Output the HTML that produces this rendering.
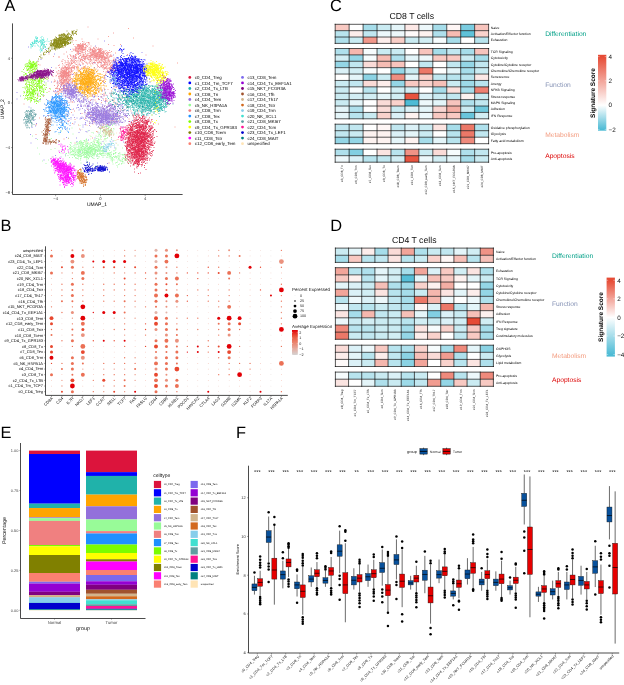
<!DOCTYPE html>
<html><head><meta charset="utf-8"><title>Figure</title>
<style>html,body{margin:0;padding:0;background:#fff}svg{display:block}text{font-family:"Liberation Sans",sans-serif;text-rendering:geometricPrecision}</style>
</head><body>
<svg width="624" height="685" viewBox="0 0 624 685">
<rect width="624" height="685" fill="#fff"/>
<text x="4.5" y="10.9" font-size="16.2">A</text>
<path d="M12.5 23.4V194.5H182.6" fill="none" stroke="#2a2a2a" stroke-width=".85"/>
<path d="M11 58.3H12.5" stroke="#333" stroke-width=".4"/>
<text x="10.2" y="59.75" font-size="4.2" text-anchor="end" fill="#333">4</text>
<path d="M11 103H12.5" stroke="#333" stroke-width=".4"/>
<text x="10.2" y="104.45" font-size="4.2" text-anchor="end" fill="#333">0</text>
<path d="M11 147.6H12.5" stroke="#333" stroke-width=".4"/>
<text x="10.2" y="149.05" font-size="4.2" text-anchor="end" fill="#333">−4</text>
<path d="M11 192.3H12.5" stroke="#333" stroke-width=".4"/>
<text x="10.2" y="193.75" font-size="4.2" text-anchor="end" fill="#333">−8</text>
<path d="M55.6 194.5V196.2" stroke="#333" stroke-width=".4"/>
<text x="55.6" y="200.3" font-size="4.2" text-anchor="middle" fill="#333">−4</text>
<path d="M100.5 194.5V196.2" stroke="#333" stroke-width=".4"/>
<text x="100.5" y="200.3" font-size="4.2" text-anchor="middle" fill="#333">0</text>
<path d="M145.2 194.5V196.2" stroke="#333" stroke-width=".4"/>
<text x="145.2" y="200.3" font-size="4.2" text-anchor="middle" fill="#333">4</text>
<text x="97" y="205.8" font-size="5" text-anchor="middle" fill="#000">UMAP_1</text>
<text transform="translate(3.9,109.2) rotate(-90)" font-size="5" text-anchor="middle" fill="#000">UMAP_2</text>
<defs>
<radialGradient id="gc0"><stop offset="0" stop-color="#DC143C" stop-opacity="1"/><stop offset=".55" stop-color="#DC143C" stop-opacity=".8"/><stop offset="1" stop-color="#DC143C" stop-opacity="0"/></radialGradient>
<radialGradient id="gc1"><stop offset="0" stop-color="#0000FF" stop-opacity="1"/><stop offset=".55" stop-color="#0000FF" stop-opacity=".8"/><stop offset="1" stop-color="#0000FF" stop-opacity="0"/></radialGradient>
<radialGradient id="gc2"><stop offset="0" stop-color="#20B2AA" stop-opacity="1"/><stop offset=".55" stop-color="#20B2AA" stop-opacity=".8"/><stop offset="1" stop-color="#20B2AA" stop-opacity="0"/></radialGradient>
<radialGradient id="gc3"><stop offset="0" stop-color="#FFA500" stop-opacity="1"/><stop offset=".55" stop-color="#FFA500" stop-opacity=".8"/><stop offset="1" stop-color="#FFA500" stop-opacity="0"/></radialGradient>
<radialGradient id="gc4"><stop offset="0" stop-color="#9370DB" stop-opacity="1"/><stop offset=".55" stop-color="#9370DB" stop-opacity=".8"/><stop offset="1" stop-color="#9370DB" stop-opacity="0"/></radialGradient>
<radialGradient id="gc5"><stop offset="0" stop-color="#98FB98" stop-opacity="1"/><stop offset=".55" stop-color="#98FB98" stop-opacity=".8"/><stop offset="1" stop-color="#98FB98" stop-opacity="0"/></radialGradient>
<radialGradient id="gc6"><stop offset="0" stop-color="#F08080" stop-opacity="1"/><stop offset=".55" stop-color="#F08080" stop-opacity=".8"/><stop offset="1" stop-color="#F08080" stop-opacity="0"/></radialGradient>
<radialGradient id="gc7"><stop offset="0" stop-color="#1E90FF" stop-opacity="1"/><stop offset=".55" stop-color="#1E90FF" stop-opacity=".8"/><stop offset="1" stop-color="#1E90FF" stop-opacity="0"/></radialGradient>
<radialGradient id="gc8"><stop offset="0" stop-color="#7CFC00" stop-opacity="1"/><stop offset=".55" stop-color="#7CFC00" stop-opacity=".8"/><stop offset="1" stop-color="#7CFC00" stop-opacity="0"/></radialGradient>
<radialGradient id="gc9"><stop offset="0" stop-color="#FFFF00" stop-opacity="1"/><stop offset=".55" stop-color="#FFFF00" stop-opacity=".8"/><stop offset="1" stop-color="#FFFF00" stop-opacity="0"/></radialGradient>
<radialGradient id="gc10"><stop offset="0" stop-color="#808000" stop-opacity="1"/><stop offset=".55" stop-color="#808000" stop-opacity=".8"/><stop offset="1" stop-color="#808000" stop-opacity="0"/></radialGradient>
<radialGradient id="gc11"><stop offset="0" stop-color="#FF00FF" stop-opacity="1"/><stop offset=".55" stop-color="#FF00FF" stop-opacity=".8"/><stop offset="1" stop-color="#FF00FF" stop-opacity="0"/></radialGradient>
<radialGradient id="gc12"><stop offset="0" stop-color="#FA8072" stop-opacity="1"/><stop offset=".55" stop-color="#FA8072" stop-opacity=".8"/><stop offset="1" stop-color="#FA8072" stop-opacity="0"/></radialGradient>
<radialGradient id="gc13"><stop offset="0" stop-color="#7B68EE" stop-opacity="1"/><stop offset=".55" stop-color="#7B68EE" stop-opacity=".8"/><stop offset="1" stop-color="#7B68EE" stop-opacity="0"/></radialGradient>
<radialGradient id="gc14"><stop offset="0" stop-color="#9400D3" stop-opacity="1"/><stop offset=".55" stop-color="#9400D3" stop-opacity=".8"/><stop offset="1" stop-color="#9400D3" stop-opacity="0"/></radialGradient>
<radialGradient id="gc15"><stop offset="0" stop-color="#800080" stop-opacity="1"/><stop offset=".55" stop-color="#800080" stop-opacity=".8"/><stop offset="1" stop-color="#800080" stop-opacity="0"/></radialGradient>
<radialGradient id="gc16"><stop offset="0" stop-color="#A0522D" stop-opacity="1"/><stop offset=".55" stop-color="#A0522D" stop-opacity=".8"/><stop offset="1" stop-color="#A0522D" stop-opacity="0"/></radialGradient>
<radialGradient id="gc17"><stop offset="0" stop-color="#D2B48C" stop-opacity="1"/><stop offset=".55" stop-color="#D2B48C" stop-opacity=".8"/><stop offset="1" stop-color="#D2B48C" stop-opacity="0"/></radialGradient>
<radialGradient id="gc18"><stop offset="0" stop-color="#D2691E" stop-opacity="1"/><stop offset=".55" stop-color="#D2691E" stop-opacity=".8"/><stop offset="1" stop-color="#D2691E" stop-opacity="0"/></radialGradient>
<radialGradient id="gc19"><stop offset="0" stop-color="#87CEEB" stop-opacity="1"/><stop offset=".55" stop-color="#87CEEB" stop-opacity=".8"/><stop offset="1" stop-color="#87CEEB" stop-opacity="0"/></radialGradient>
<radialGradient id="gc20"><stop offset="0" stop-color="#40E0D0" stop-opacity="1"/><stop offset=".55" stop-color="#40E0D0" stop-opacity=".8"/><stop offset="1" stop-color="#40E0D0" stop-opacity="0"/></radialGradient>
<radialGradient id="gc21"><stop offset="0" stop-color="#5F9EA0" stop-opacity="1"/><stop offset=".55" stop-color="#5F9EA0" stop-opacity=".8"/><stop offset="1" stop-color="#5F9EA0" stop-opacity="0"/></radialGradient>
<radialGradient id="gc22"><stop offset="0" stop-color="#FF1493" stop-opacity="1"/><stop offset=".55" stop-color="#FF1493" stop-opacity=".8"/><stop offset="1" stop-color="#FF1493" stop-opacity="0"/></radialGradient>
<radialGradient id="gc23"><stop offset="0" stop-color="#0000CD" stop-opacity="1"/><stop offset=".55" stop-color="#0000CD" stop-opacity=".8"/><stop offset="1" stop-color="#0000CD" stop-opacity="0"/></radialGradient>
<radialGradient id="gc24"><stop offset="0" stop-color="#008080" stop-opacity="1"/><stop offset=".55" stop-color="#008080" stop-opacity=".8"/><stop offset="1" stop-color="#008080" stop-opacity="0"/></radialGradient>
<radialGradient id="gun"><stop offset="0" stop-color="#FFE4B5" stop-opacity="1"/><stop offset=".55" stop-color="#FFE4B5" stop-opacity=".8"/><stop offset="1" stop-color="#FFE4B5" stop-opacity="0"/></radialGradient>
</defs>
<g fill="none" stroke-width="1.5" stroke-linecap="square" opacity=".95" transform="scale(.5)">
<path stroke="#FA8072" d="M257 57zm-40 16zm50 3zm-103 2zm-12 3zm27 7zm62 1zm-13 2zm-139 1zm217 0zm-87 9zm-121 4zm133 1zm-15 1zm-88 1zm62 0zm65 1zm-103 2zm24 0zm-9 2zm32 0zm-52 1zm-29 1zm79 2zm-34 2zm15 0zm88 0zm-84 1zm18 4zm51 1zm-61 1zm165 0zm-278 3zm174 0zm-171 1zm46 0zm148 2zm6 1zm-114 2zm-3 1zm54 0zm10 0zm51 1zm-222 4zm200 0zm-68 1zm-49 1zm45 1zm9 0zm-57 3zm50 0zm-126 1zm93 1zm15 0zm43 0zm-2 2zm-24 1zm-79 1zm-10 1zm125 0zm-149 1zm55 0zm57 1zm25 0zm18 0zm-136 1zm154 1zm-113 2zm75 1zm-96 1zm26 2zm35 0zm35 0zm71 1zm-128 2zm71 0zm-169 1zm112 1zm-76 1zm41 0zm-60 2zm106 0zm1 0zm153 0zm-151 1zm3 0zm72 1zm-20 1zm12 0zm30 0zm-141 3zm130 0zm-76 1zm28 0zm33 1zm28 0zm-170 2zm116 0zm-125 1zm48 0zm157 0zm-180 1zm34 0zm12 0zm-33 1zm40 1zm5 0zm-105 1zm132 0zm12 0zm4 0zm-46 1zm-62 1zm36 1zm33 0zm39 0zm25 0zm-12 1zm-106 1zm122 0zm44 0zm-221 1zm126 0zm-41 3zm83 0zm-47 1zm59 0zm-45 1zm27 0zm-55 1zm73 0zm-66 1zm17 0zm7 0zm6 0zm-120 1zm20 0zm61 0zm47 1zm-125 1zm52 0zm59 0zm-91 1zm19 0zm3 0zm47 0zm36 0zm24 0zm-114 1zm41 1zm55 0zm-186 2zm182 0zm81 0zm-192 2zm113 0zm44 0zm60 0zm-118 1zm-48 1zm39 0zm5 1zm-9 1zm52 0zm34 0zm-64 3zm-7 1zm-76 1zm31 0zm11 0zm114 0zm-59 1zm6 0zm-26 1zm-72 1zm50 0zm37 0zm41 0zm-88 1zm29 1zm-75 1zm27 0zm116 0zm-83 1zm6 0zm-45 1zm106 0zm-95 1zm-41 1zm64 0zm30 0zm51 1zm-145 1zm47 0zm56 1zm29 0zm-95 2zm79 0zm-60 1zm109 0zm-220 1zm23 0zm106 0zm-19 1zm-99 1zm168 0zm-108 1zm19 0zm55 2zm2 0zm-37 1zm48 0zm-100 1zm49 0zm44 0zm59 1zm-166 1zm169 0zm-70 1zm-77 1zm34 0zm-106 1zm113 0zm131 0zm-102 1zm-143 1zm85 0zm15 0zm40 3zm-15 1zm153 0zm-70 1zm-79 2zm22 0zm-64 1zm-63 4zm97 1zm51 0zm-49 1zm-123 5zm169 4zm17 0zm-73 3zm-48 1zm-9 1zm108 1zm-125 1zm168 0zm-129 6zm120 5zm-52 35zm-41 7zm18 2z"/>
<path stroke="#7B68EE" d="M209 82zm-18 10zm-134 2zm101 3zm-67 2zm50 0zm-44 6zm187 0zm-125 2zm-50 1zm118 2zm-79 2zm62 4zm-60 1zm18 0zm-86 2zm-6 3zm111 3zm3 1zm13 0zm-42 5zm-58 4zm86 0zm38 4zm26 2zm-73 1zm56 0zm-133 2zm50 4zm36 0zm-44 1zm15 1zm-61 1zm127 0zm-168 1zm128 2zm117 0zm-93 2zm-156 2zm69 1zm9 1zm69 1zm-105 1zm19 0zm109 0zm-135 2zm14 0zm70 0zm34 0zm-85 1zm-6 1zm9 0zm9 0zm51 0zm44 0zm10 0zm-70 1zm9 0zm32 0zm-79 1zm24 0zm2 0zm137 0zm-117 1zm67 1zm-117 1zm18 0zm-1 1zm17 0zm83 0zm-123 1zm56 0zm87 0zm-126 1zm37 1zm10 0zm-13 1zm24 1zm2 0zm28 1zm-81 1zm30 0zm35 0zm-94 1zm59 0zm34 0zm-98 1zm54 0zm33 1zm7 0zm33 0zm7 0zm-137 1zm4 0zm16 0zm107 0zm-91 1zm-110 1zm111 0zm12 0zm2 0zm30 0zm-27 1zm-1 1zm31 0zm-32 1zm26 1zm47 0zm-157 1zm11 0zm-46 2zm112 0zm32 0zm4 0zm19 0zm-40 1zm3 0zm17 0zm1 0zm8 0zm5 1zm1 0zm-98 1zm83 0zm-35 1zm19 0zm61 0zm-199 2zm77 0zm8 0zm5 0zm-43 1zm24 0zm17 0zm19 0zm3 0zm42 0zm-27 1zm76 0zm-159 1zm45 0zm3 0zm23 0zm65 0zm13 0zm28 0zm-134 1zm23 0zm112 0zm-95 1zm3 0zm48 0zm-76 1zm46 0zm101 0zm-41 1zm-49 1zm40 0zm-103 1zm67 0zm-86 1zm17 0zm5 0zm25 1zm28 0zm21 1zm32 0zm-110 1zm-12 1zm56 0zm5 0zm-14 1zm67 0zm-171 1zm98 1zm1 0zm45 0zm44 0zm-154 1zm138 0zm-127 1zm117 0zm-98 1zm25 0zm13 0zm25 0zm23 0zm4 0zm-54 2zm11 0zm-48 1zm66 0zm68 0zm-131 1zm6 0zm-29 2zm27 0zm8 0zm33 0zm8 1zm7 0zm3 0zm3 0zm0 1zm-29 1zm40 1zm10 0zm-110 2zm23 0zm22 0zm-51 1zm16 0zm14 0zm63 0zm-101 1zm49 0zm78 0zm-93 2zm72 0zm-51 1zm68 0zm-56 1zm7 0zm3 0zm7 0zm55 0zm-122 1zm59 0zm38 0zm-41 1zm34 0zm-72 1zm2 0zm88 0zm14 0zm-158 2zm46 0zm24 0zm-9 2zm50 0zm-29 1zm21 1zm32 0zm-130 2zm98 1zm-1 1zm-4 1zm-26 1zm-69 1zm95 2zm79 0zm-181 1zm68 2zm46 4zm-79 2zm73 0zm33 0zm-47 2zm-97 4zm34 1zm113 3zm-75 2zm20 1zm37 0zm-118 1zm105 3zm49 2zm-72 1zm-37 1zm130 0zm-185 2zm168 10zm-38 5zm-18 1zm38 1zm-51 1zm13 3zm-43 3zm-20 1zm83 1zm-72 2zm-34 6zm107 6zm20 1z"/>
<path stroke="#F08080" d="M176 54zm51 12zm-31 12zm-50 3zm19 2zm3 1zm6 1zm3 0zm1 0zm-40 1zm39 0zm-16 1zm5 0zm5 0zm-6 1zm3 0zm-21 1zm7 0zm2 0zm1 0zm1 0zm4 0zm3 0zm3 0zm1 0zm2 0zm46 0zm-61 1zm1 0zm1 0zm1 0zm1 0zm2 0zm4 0zm1 0zm9 0zm-21 1zm2 0zm2 0zm2 0zm2 0zm1 0zm1 0zm1 0zm6 0zm1 0zm-17 1zm1 0zm2 0zm1 0zm1 0zm1 0zm1 0zm3 0zm16 0zm-32 1zm4 0zm1 0zm2 0zm2 0zm1 0zm1 0zm3 0zm1 0zm1 0zm1 0zm8 0zm-47 1zm23 0zm8 0zm1 0zm1 0zm1 0zm1 0zm3 0zm1 0zm4 0zm2 0zm17 0zm-36 1zm4 0zm1 0zm3 0zm1 0zm2 0zm3 0zm2 0zm1 0zm9 0zm7 0zm6 0zm-42 1zm1 0zm1 0zm1 0zm2 0zm1 0zm2 0zm1 0zm3 0zm2 0zm6 0zm7 0zm19 0zm-111 1zm66 0zm2 0zm2 0zm1 0zm2 0zm1 0zm2 0zm1 0zm2 0zm1 0zm4 0zm11 0zm6 0zm2 0zm11 0zm1 0zm1 0zm-56 1zm4 0zm7 0zm1 0zm3 0zm4 0zm3 0zm4 0zm12 0zm6 0zm4 0zm3 0zm3 0zm4 0zm-53 1zm3 0zm4 0zm3 0zm2 0zm1 0zm1 0zm1 0zm1 0zm1 0zm1 0zm2 0zm7 0zm3 0zm1 0zm3 0zm5 0zm5 0zm2 0zm1 0zm1 0zm2 0zm3 0zm-57 1zm1 0zm2 0zm3 0zm2 0zm2 0zm1 0zm6 0zm2 0zm1 0zm13 0zm1 0zm1 0zm2 0zm1 0zm3 0zm3 0zm1 0zm6 0zm1 0zm-48 1zm1 0zm8 0zm4 0zm2 0zm4 0zm5 0zm10 0zm1 0zm2 0zm2 0zm2 0zm6 0zm1 0zm2 0zm2 0zm9 0zm-61 1zm1 0zm2 0zm1 0zm1 0zm4 0zm4 0zm11 0zm5 0zm5 0zm2 0zm1 0zm1 0zm4 0zm7 0zm1 0zm6 0zm3 0zm-66 1zm10 0zm2 0zm1 0zm1 0zm3 0zm10 0zm7 0zm6 0zm1 0zm1 0zm1 0zm1 0zm2 0zm1 0zm6 0zm1 0zm1 0zm2 0zm3 0zm2 0zm17 0zm-90 1zm21 0zm2 0zm1 0zm6 0zm1 0zm1 0zm20 0zm3 0zm1 0zm11 0zm1 0zm4 0zm1 0zm1 0zm2 0zm6 0zm-49 1zm4 0zm11 0zm1 0zm2 0zm3 0zm3 0zm4 0zm1 0zm1 0zm1 0zm2 0zm1 0zm2 0zm1 0zm5 0zm5 0zm4 0zm1 0zm2 0zm-65 1zm1 0zm1 0zm1 0zm4 0zm4 0zm13 0zm3 0zm3 0zm2 0zm1 0zm1 0zm1 0zm1 0zm2 0zm4 0zm3 0zm2 0zm2 0zm2 0zm1 0zm7 0zm-58 1zm5 0zm10 0zm5 0zm6 0zm2 0zm4 0zm2 0zm3 0zm2 0zm1 0zm4 0zm1 0zm1 0zm1 0zm1 0zm1 0zm1 0zm2 0zm3 0zm4 0zm-117 1zm55 0zm23 0zm5 0zm4 0zm3 0zm3 0zm1 0zm1 0zm3 0zm2 0zm3 0zm7 0zm3 0zm1 0zm-72 1zm11 0zm5 0zm1 0zm10 0zm3 0zm4 0zm9 0zm1 0zm1 0zm1 0zm1 0zm3 0zm4 0zm1 0zm1 0zm2 0zm1 0zm1 0zm2 0zm5 0zm7 0zm2 0zm-65 1zm10 0zm3 0zm2 0zm1 0zm15 0zm2 0zm3 0zm2 0zm1 0zm2 0zm1 0zm1 0zm4 0zm3 0zm1 0zm3 0zm1 0zm1 0zm9 0zm5 0zm1 0zm70 0zm-151 1zm6 0zm14 0zm7 0zm6 0zm2 0zm3 0zm2 0zm1 0zm1 0zm2 0zm3 0zm1 0zm2 0zm1 0zm2 0zm2 0zm2 0zm1 0zm2 0zm2 0zm1 0zm3 0zm6 0zm1 0zm8 0zm-87 1zm9 0zm15 0zm8 0zm5 0zm1 0zm1 0zm5 0zm5 0zm6 0zm1 0zm1 0zm1 0zm1 0zm1 0zm3 0zm5 0zm1 0zm1 0zm2 0zm1 0zm7 0zm4 0zm5 0zm-117 1zm11 0zm24 0zm5 0zm3 0zm1 0zm7 0zm7 0zm4 0zm1 0zm1 0zm2 0zm7 0zm1 0zm1 0zm4 0zm2 0zm2 0zm1 0zm2 0zm1 0zm1 0zm2 0zm2 0zm1 0zm1 0zm1 0zm2 0zm2 0zm3 0zm5 0zm7 0zm2 0zm-88 1zm11 0zm17 0zm1 0zm2 0zm4 0zm4 0zm3 0zm2 0zm9 0zm5 0zm1 0zm1 0zm5 0zm2 0zm2 0zm1 0zm1 0zm1 0zm4 0zm5 0zm2 0zm1 0zm-71 1zm3 0zm2 0zm4 0zm6 0zm5 0zm3 0zm9 0zm2 0zm2 0zm2 0zm3 0zm2 0zm2 0zm4 0zm2 0zm1 0zm2 0zm1 0zm1 0zm1 0zm3 0zm1 0zm1 0zm3 0zm3 0zm-72 1zm22 0zm4 0zm4 0zm1 0zm1 0zm2 0zm10 0zm14 0zm1 0zm1 0zm1 0zm5 0zm1 0zm1 0zm3 0zm13 0zm-91 1zm4 0zm10 0zm2 0zm5 0zm2 0zm8 0zm2 0zm2 0zm9 0zm6 0zm5 0zm1 0zm2 0zm3 0zm1 0zm5 0zm6 0zm2 0zm1 0zm3 0zm-70 1zm2 0zm10 0zm5 0zm7 0zm1 0zm4 0zm6 0zm6 0zm17 0zm3 0zm1 0zm1 0zm1 0zm1 0zm6 0zm-91 1zm17 0zm18 0zm4 0zm4 0zm8 0zm4 0zm11 0zm5 0zm5 0zm2 0zm4 0zm1 0zm18 0zm-84 1zm6 0zm21 0zm8 0zm2 0zm2 0zm1 0zm3 0zm3 0zm4 0zm2 0zm6 0zm2 0zm1 0zm4 0zm2 0zm4 0zm2 0zm1 0zm1 0zm11 0zm3 0zm-102 1zm6 0zm8 0zm7 0zm5 0zm5 0zm4 0zm2 0zm24 0zm1 0zm6 0zm6 0zm6 0zm8 0zm4 0zm5 0zm1 0zm-104 1zm17 0zm2 0zm2 0zm1 0zm1 0zm6 0zm7 0zm1 0zm3 0zm29 0zm11 0zm7 0zm1 0zm4 0zm2 0zm7 0zm-149 1zm48 0zm25 0zm20 0zm12 0zm18 0zm7 0zm13 0zm12 0zm-100 1zm5 0zm1 0zm17 0zm4 0zm14 0zm7 0zm5 0zm5 0zm7 0zm2 0zm4 0zm5 0zm1 0zm2 0zm1 0zm1 0zm3 0zm2 0zm6 0zm5 0zm8 0zm-102 1zm9 0zm4 0zm1 0zm2 0zm14 0zm8 0zm16 0zm1 0zm1 0zm5 0zm3 0zm2 0zm1 0zm1 0zm6 0zm1 0zm4 0zm7 0zm8 0zm-98 1zm9 0zm1 0zm4 0zm29 0zm3 0zm3 0zm5 0zm11 0zm2 0zm5 0zm8 0zm4 0zm7 0zm10 0zm4 0zm-110 1zm13 0zm5 0zm2 0zm5 0zm16 0zm19 0zm24 0zm11 0zm17 0zm-101 1zm6 0zm1 0zm13 0zm3 0zm6 0zm2 0zm8 0zm6 0zm5 0zm25 0zm3 0zm1 0zm3 0zm-85 1zm3 0zm4 0zm12 0zm1 0zm7 0zm34 0zm8 0zm4 0zm3 0zm5 0zm5 0zm5 0zm1 0zm-106 1zm13 0zm2 0zm3 0zm21 0zm49 0zm1 0zm1 0zm2 0zm3 0zm6 0zm10 0zm3 0zm-116 1zm21 0zm3 0zm5 0zm2 0zm47 0zm7 0zm2 0zm1 0zm1 0zm10 0zm7 0zm5 0zm4 0zm8 0zm-111 1zm9 0zm17 0zm16 0zm32 0zm18 0zm3 0zm1 0zm17 0zm-111 1zm5 0zm13 0zm3 0zm16 0zm29 0zm5 0zm1 0zm4 0zm6 0zm8 0zm3 0zm3 0zm-102 1zm4 0zm2 0zm7 0zm1 0zm5 0zm1 0zm1 0zm2 0zm5 0zm4 0zm11 0zm2 0zm25 0zm7 0zm3 0zm7 0zm2 0zm12 0zm10 0zm-117 1zm9 0zm2 0zm1 0zm2 0zm1 0zm1 0zm3 0zm4 0zm1 0zm1 0zm3 0zm2 0zm4 0zm17 0zm29 0zm7 0zm4 0zm1 0zm8 0zm2 0zm5 0zm6 0zm2 0zm-122 1zm11 0zm2 0zm2 0zm5 0zm1 0zm3 0zm2 0zm2 0zm4 0zm2 0zm3 0zm6 0zm21 0zm30 0zm2 0zm1 0zm4 0zm11 0zm4 0zm2 0zm3 0zm2 0zm4 0zm-115 1zm3 0zm3 0zm3 0zm3 0zm1 0zm1 0zm2 0zm2 0zm6 0zm6 0zm10 0zm10 0zm35 0zm2 0zm3 0zm2 0zm3 0zm2 0zm2 0zm2 0zm-103 1zm8 0zm3 0zm1 0zm2 0zm7 0zm6 0zm11 0zm15 0zm17 0zm29 0zm15 0zm-169 1zm56 0zm7 0zm3 0zm2 0zm1 0zm6 0zm1 0zm18 0zm24 0zm23 0zm6 0zm5 0zm5 0zm-138 1zm11 0zm25 0zm2 0zm2 0zm2 0zm3 0zm2 0zm4 0zm2 0zm15 0zm42 0zm25 0zm1 0zm1 0zm1 0zm3 0zm-110 1zm8 0zm1 0zm3 0zm4 0zm10 0zm3 0zm26 0zm43 0zm6 0zm7 0zm1 0zm3 0zm10 0zm-122 1zm3 0zm4 0zm1 0zm1 0zm1 0zm1 0zm2 0zm3 0zm1 0zm4 0zm2 0zm13 0zm4 0zm56 0zm2 0zm7 0zm3 0zm-106 1zm2 0zm2 0zm1 0zm1 0zm1 0zm2 0zm1 0zm6 0zm5 0zm1 0zm63 0zm7 0zm4 0zm-105 1zm3 0zm5 0zm2 0zm3 0zm1 0zm1 0zm1 0zm1 0zm1 0zm1 0zm1 0zm4 0zm1 0zm6 0zm68 0zm4 0zm2 0zm-113 1zm17 0zm2 0zm1 0zm1 0zm1 0zm2 0zm2 0zm1 0zm1 0zm2 0zm1 0zm1 0zm1 0zm3 0zm12 0zm66 0zm4 0zm-103 1zm3 0zm1 0zm4 0zm5 0zm1 0zm1 0zm2 0zm2 0zm3 0zm70 0zm-96 1zm4 0zm1 0zm4 0zm1 0zm1 0zm2 0zm1 0zm1 0zm1 0zm1 0zm1 0zm1 0zm1 0zm11 0zm74 0zm-106 1zm3 0zm4 0zm4 0zm1 0zm1 0zm1 0zm1 0zm1 0zm2 0zm2 0zm1 0zm1 0zm1 0zm4 0zm24 0zm53 0zm-97 1zm1 0zm1 0zm5 0zm1 0zm2 0zm1 0zm3 0zm1 0zm1 0zm3 0zm1 0zm6 0zm22 0zm12 0zm1 0zm-59 1zm1 0zm1 0zm1 0zm1 0zm3 0zm1 0zm1 0zm4 0zm1 0zm2 0zm29 0zm-56 1zm7 0zm1 0zm2 0zm3 0zm1 0zm1 0zm1 0zm3 0zm1 0zm1 0zm1 0zm1 0zm1 0zm1 0zm1 0zm1 0zm55 0zm26 0zm-109 1zm6 0zm3 0zm2 0zm1 0zm1 0zm1 0zm1 0zm1 0zm1 0zm1 0zm1 0zm2 0zm2 0zm1 0zm1 0zm15 0zm-35 1zm3 0zm2 0zm1 0zm2 0zm2 0zm3 0zm1 0zm2 0zm3 0zm1 0zm10 0zm37 0zm-65 1zm3 0zm4 0zm1 0zm1 0zm1 0zm2 0zm1 0zm6 0zm1 0zm-46 1zm30 0zm1 0zm2 0zm1 0zm4 0zm4 0zm3 0zm25 0zm-91 1zm45 0zm3 0zm4 0zm3 0zm4 0zm1 0zm1 0zm1 0zm1 0zm6 0zm-44 1zm27 0zm1 0zm1 0zm1 0zm9 0zm7 0zm39 0zm26 0zm-89 1zm1 0zm8 0zm5 0zm1 0zm1 0zm3 0zm2 0zm5 0zm25 0zm93 0zm-141 1zm1 0zm1 0zm4 0zm1 0zm1 0zm3 0zm1 0zm3 0zm3 0zm1 0zm71 0zm-103 1zm14 0zm1 0zm2 0zm3 0zm1 0zm1 0zm1 0zm1 0zm11 0zm-24 1zm1 0zm3 0zm3 0zm2 0zm4 0zm5 0zm1 0zm1 0zm-21 1zm1 0zm7 0zm1 0zm1 0zm1 0zm4 0zm2 0zm1 0zm10 0zm2 0zm-40 1zm14 0zm3 0zm4 0zm2 0zm2 0zm72 0zm-98 1zm7 0zm3 0zm3 0zm1 0zm5 0zm1 0zm7 0zm1 0zm1 0zm6 0zm117 0zm-136 1zm1 0zm2 0zm2 0zm3 0zm4 0zm8 0zm1 0zm35 0zm-66 1zm1 0zm7 0zm1 0zm8 0zm3 0zm1 0zm1 0zm2 0zm3 0zm-22 1zm5 0zm1 0zm2 0zm1 0zm6 0zm2 0zm1 0zm8 0zm-23 1zm3 0zm9 0zm16 0zm81 0zm8 0zm-123 1zm6 0zm1 0zm5 0zm11 0zm50 0zm-65 1zm4 0zm2 0zm2 0zm2 0zm-25 1zm8 0zm6 0zm8 0zm77 0zm-93 1zm7 0zm5 0zm22 0zm-34 1zm17 0zm1 0zm5 0zm-23 1zm12 0zm8 0zm96 0zm-110 1zm6 0zm1 0zm1 0zm67 0zm-83 1zm21 0zm2 0zm3 0zm22 0zm47 0zm20 0zm-129 1zm12 0zm2 0zm2 0zm3 0zm1 0zm6 0zm2 0zm4 0zm1 0zm1 0zm2 0zm55 0zm-62 1zm5 0zm-69 1zm55 0zm1 0zm2 0zm2 0zm13 0zm2 0zm25 0zm-45 1zm5 0zm2 0zm4 0zm6 0zm1 0zm34 0zm8 0zm26 0zm-86 1zm2 0zm7 0zm2 0zm2 0zm62 0zm-59 1zm2 0zm-22 1zm2 0zm14 0zm6 0zm143 0zm-170 1zm10 0zm4 0zm6 0zm80 0zm-96 1zm84 0zm-80 1zm-7 1zm6 0zm158 0zm-158 1zm78 0zm12 2zm2 0zm3 0zm26 1zm-107 1zm54 0zm9 0zm-107 1zm31 0zm21 1zm65 0zm35 1zm-64 2zm37 0zm-15 1zm0 1zm28 0zm-84 1zm70 1zm-44 1zm-21 2zm57 1zm-111 5zm130 1zm31 3zm-45 3zm54 5zm-54 7zm-12 1zm-12 1zm-61 9zm109 4zm-24 5z"/>
<path stroke="#FFA500" d="M182 132zm-6 1zm-21 1zm14 0zm10 1zm-22 1zm10 0zm7 0zm14 0zm-21 1zm3 0zm2 0zm6 0zm-14 1zm2 0zm3 0zm8 0zm5 0zm7 0zm-33 1zm14 0zm3 0zm5 0zm1 0zm1 0zm2 0zm1 0zm-7 1zm7 0zm1 0zm1 0zm2 0zm4 0zm-33 1zm1 0zm8 0zm2 0zm3 0zm1 0zm1 0zm3 0zm6 0zm3 0zm1 0zm-30 1zm11 0zm12 0zm7 0zm2 0zm6 0zm-35 1zm1 0zm6 0zm4 0zm2 0zm1 0zm2 0zm3 0zm2 0zm3 0zm9 0zm-35 1zm4 0zm5 0zm1 0zm3 0zm3 0zm1 0zm2 0zm4 0zm3 0zm3 0zm-38 1zm12 0zm5 0zm1 0zm4 0zm3 0zm6 0zm2 0zm1 0zm1 0zm2 0zm-36 1zm4 0zm7 0zm2 0zm1 0zm1 0zm4 0zm2 0zm1 0zm2 0zm3 0zm1 0zm2 0zm1 0zm3 0zm1 0zm1 0zm1 0zm2 0zm1 0zm-29 1zm2 0zm1 0zm9 0zm3 0zm2 0zm1 0zm1 0zm5 0zm1 0zm3 0zm7 0zm-45 1zm3 0zm8 0zm1 0zm1 0zm2 0zm7 0zm4 0zm1 0zm4 0zm1 0zm13 0zm3 0zm1 0zm1 0zm-45 1zm3 0zm2 0zm3 0zm1 0zm2 0zm1 0zm1 0zm3 0zm3 0zm1 0zm1 0zm2 0zm1 0zm1 0zm2 0zm4 0zm17 0zm-52 1zm2 0zm3 0zm1 0zm4 0zm6 0zm2 0zm1 0zm1 0zm2 0zm1 0zm1 0zm5 0zm4 0zm2 0zm-37 1zm4 0zm3 0zm7 0zm4 0zm6 0zm1 0zm1 0zm1 0zm1 0zm2 0zm2 0zm2 0zm2 0zm8 0zm1 0zm13 0zm-56 1zm1 0zm8 0zm1 0zm1 0zm4 0zm2 0zm1 0zm1 0zm2 0zm2 0zm1 0zm1 0zm2 0zm1 0zm3 0zm1 0zm1 0zm1 0zm2 0zm3 0zm1 0zm1 0zm3 0zm1 0zm11 0zm-52 1zm1 0zm4 0zm3 0zm1 0zm2 0zm3 0zm1 0zm1 0zm1 0zm2 0zm1 0zm1 0zm1 0zm4 0zm4 0zm4 0zm2 0zm6 0zm2 0zm-59 1zm10 0zm5 0zm4 0zm1 0zm9 0zm4 0zm1 0zm2 0zm2 0zm1 0zm4 0zm4 0zm13 0zm1 0zm3 0zm-53 1zm10 0zm3 0zm1 0zm3 0zm1 0zm2 0zm1 0zm1 0zm3 0zm1 0zm1 0zm1 0zm1 0zm1 0zm2 0zm1 0zm2 0zm2 0zm1 0zm12 0zm4 0zm-58 1zm6 0zm2 0zm2 0zm1 0zm5 0zm1 0zm3 0zm1 0zm5 0zm2 0zm3 0zm1 0zm1 0zm4 0zm5 0zm6 0zm6 0zm-53 1zm2 0zm3 0zm3 0zm2 0zm3 0zm3 0zm1 0zm1 0zm1 0zm2 0zm1 0zm1 0zm1 0zm1 0zm1 0zm2 0zm2 0zm1 0zm2 0zm1 0zm1 0zm1 0zm5 0zm10 0zm-54 1zm5 0zm4 0zm6 0zm3 0zm1 0zm2 0zm1 0zm2 0zm2 0zm1 0zm2 0zm1 0zm1 0zm1 0zm1 0zm1 0zm1 0zm1 0zm1 0zm3 0zm1 0zm1 0zm1 0zm7 0zm2 0zm3 0zm-50 1zm2 0zm3 0zm4 0zm3 0zm2 0zm2 0zm1 0zm1 0zm1 0zm3 0zm1 0zm2 0zm3 0zm1 0zm3 0zm4 0zm3 0zm1 0zm4 0zm2 0zm1 0zm-52 1zm6 0zm2 0zm1 0zm2 0zm3 0zm2 0zm2 0zm1 0zm4 0zm1 0zm2 0zm2 0zm1 0zm1 0zm1 0zm1 0zm3 0zm3 0zm1 0zm1 0zm1 0zm2 0zm1 0zm3 0zm2 0zm7 0zm7 0zm-60 1zm1 0zm4 0zm4 0zm1 0zm1 0zm2 0zm1 0zm2 0zm1 0zm3 0zm2 0zm1 0zm4 0zm2 0zm1 0zm2 0zm1 0zm1 0zm5 0zm4 0zm1 0zm6 0zm3 0zm-56 1zm1 0zm2 0zm5 0zm1 0zm3 0zm2 0zm1 0zm3 0zm2 0zm1 0zm3 0zm4 0zm3 0zm2 0zm1 0zm1 0zm3 0zm1 0zm14 0zm6 0zm-60 1zm4 0zm2 0zm2 0zm8 0zm1 0zm1 0zm2 0zm2 0zm4 0zm1 0zm1 0zm1 0zm1 0zm2 0zm1 0zm1 0zm2 0zm1 0zm1 0zm4 0zm3 0zm1 0zm2 0zm12 0zm6 0zm-62 1zm5 0zm4 0zm2 0zm2 0zm1 0zm3 0zm1 0zm1 0zm1 0zm1 0zm2 0zm1 0zm1 0zm1 0zm2 0zm1 0zm1 0zm1 0zm3 0zm2 0zm1 0zm1 0zm3 0zm2 0zm1 0zm-32 1zm1 0zm3 0zm1 0zm1 0zm4 0zm2 0zm1 0zm1 0zm1 0zm1 0zm2 0zm1 0zm1 0zm2 0zm2 0zm2 0zm2 0zm3 0zm4 0zm6 0zm7 0zm-58 1zm2 0zm8 0zm2 0zm1 0zm2 0zm1 0zm2 0zm2 0zm1 0zm2 0zm3 0zm2 0zm2 0zm1 0zm2 0zm3 0zm3 0zm5 0zm8 0zm-50 1zm1 0zm5 0zm1 0zm1 0zm1 0zm2 0zm2 0zm1 0zm1 0zm1 0zm1 0zm1 0zm1 0zm1 0zm2 0zm1 0zm2 0zm3 0zm2 0zm1 0zm1 0zm2 0zm4 0zm1 0zm5 0zm4 0zm1 0zm-53 1zm4 0zm3 0zm4 0zm2 0zm1 0zm1 0zm1 0zm1 0zm1 0zm5 0zm1 0zm3 0zm2 0zm2 0zm1 0zm5 0zm7 0zm3 0zm1 0zm4 0zm-51 1zm3 0zm1 0zm7 0zm3 0zm2 0zm1 0zm1 0zm1 0zm1 0zm1 0zm2 0zm1 0zm2 0zm2 0zm2 0zm1 0zm1 0zm2 0zm2 0zm1 0zm3 0zm3 0zm4 0zm-43 1zm13 0zm2 0zm1 0zm1 0zm3 0zm1 0zm2 0zm1 0zm2 0zm1 0zm2 0zm5 0zm2 0zm4 0zm3 0zm2 0zm8 0zm-58 1zm1 0zm2 0zm10 0zm3 0zm4 0zm1 0zm4 0zm1 0zm2 0zm3 0zm1 0zm3 0zm5 0zm1 0zm1 0zm8 0zm1 0zm4 0zm-56 1zm2 0zm3 0zm11 0zm4 0zm4 0zm2 0zm1 0zm9 0zm6 0zm4 0zm2 0zm14 0zm3 0zm-54 1zm2 0zm2 0zm7 0zm1 0zm3 0zm2 0zm3 0zm8 0zm4 0zm4 0zm2 0zm-44 1zm2 0zm3 0zm1 0zm1 0zm1 0zm1 0zm1 0zm1 0zm2 0zm2 0zm1 0zm1 0zm3 0zm1 0zm3 0zm5 0zm1 0zm2 0zm2 0zm3 0zm1 0zm11 0zm-55 1zm2 0zm3 0zm7 0zm1 0zm1 0zm1 0zm2 0zm1 0zm3 0zm2 0zm2 0zm4 0zm2 0zm5 0zm3 0zm3 0zm4 0zm-41 1zm2 0zm1 0zm1 0zm3 0zm11 0zm7 0zm2 0zm1 0zm2 0zm7 0zm1 0zm1 0zm9 0zm2 0zm-48 1zm4 0zm2 0zm2 0zm2 0zm2 0zm4 0zm1 0zm2 0zm1 0zm4 0zm3 0zm2 0zm9 0zm3 0zm-36 1zm1 0zm1 0zm1 0zm1 0zm4 0zm1 0zm2 0zm4 0zm1 0zm2 0zm1 0zm2 0zm4 0zm7 0zm9 0zm2 0zm7 0zm-51 1zm2 0zm3 0zm3 0zm2 0zm3 0zm4 0zm1 0zm1 0zm2 0zm2 0zm8 0zm5 0zm2 0zm-49 1zm14 0zm1 0zm7 0zm1 0zm1 0zm1 0zm1 0zm2 0zm1 0zm11 0zm6 0zm7 0zm3 0zm-46 1zm12 0zm4 0zm1 0zm3 0zm1 0zm1 0zm3 0zm2 0zm2 0zm5 0zm3 0zm-36 1zm2 0zm7 0zm2 0zm1 0zm4 0zm7 0zm2 0zm4 0zm4 0zm7 0zm5 0zm-50 1zm3 0zm4 0zm5 0zm4 0zm4 0zm2 0zm1 0zm2 0zm4 0zm3 0zm12 0zm-38 1zm3 0zm12 0zm1 0zm6 0zm7 0zm5 0zm4 0zm-39 1zm6 0zm1 0zm1 0zm2 0zm1 0zm1 0zm5 0zm1 0zm1 0zm13 0zm2 0zm-28 1zm2 0zm3 0zm1 0zm7 0zm1 0zm1 0zm1 0zm1 0zm6 0zm1 0zm2 0zm1 0zm2 0zm-29 1zm4 0zm7 0zm16 0zm2 0zm-14 1zm3 0zm2 0zm4 0zm3 0zm11 0zm-34 1zm3 0zm2 0zm16 0zm-8 1zm-12 1zm6 0zm-1 1zm4 0zm5 0zm8 0zm-25 1zm8 0zm6 0zm-4 2z"/>
<path stroke="#9370DB" d="M177 146zm32 8zm-69 9zm10 2zm-16 2zm1 0zm4 0zm4 1zm87 0zm-93 1zm1 0zm1 0zm9 0zm-26 1zm11 0zm7 0zm1 0zm5 0zm3 0zm123 0zm-145 1zm2 0zm4 0zm1 0zm3 0zm2 0zm2 0zm5 0zm4 0zm-21 1zm22 0zm2 0zm-27 1zm2 0zm5 0zm11 0zm6 0zm1 0zm1 0zm23 0zm-42 1zm2 0zm2 0zm1 0zm3 0zm1 0zm8 0zm1 0zm-24 1zm7 0zm7 0zm1 0zm1 0zm5 0zm1 0zm3 0zm-16 1zm1 0zm4 0zm6 0zm2 0zm-26 1zm4 0zm2 0zm14 0zm7 0zm1 0zm1 0zm-23 1zm2 0zm2 0zm2 0zm2 0zm1 0zm4 0zm1 0zm1 0zm1 0zm1 0zm1 0zm1 0zm3 0zm4 0zm-21 1zm1 0zm1 0zm6 0zm1 0zm1 0zm2 0zm2 0zm3 0zm1 0zm1 0zm2 0zm-28 1zm1 0zm2 0zm4 0zm4 0zm1 0zm2 0zm1 0zm1 0zm1 0zm2 0zm2 0zm144 0zm-165 1zm1 0zm2 0zm2 0zm2 0zm3 0zm3 0zm1 0zm2 0zm1 0zm2 0zm1 0zm2 0zm1 0zm104 0zm-124 1zm3 0zm5 0zm2 0zm1 0zm1 0zm2 0zm1 0zm1 0zm1 0zm2 0zm4 0zm3 0zm-32 1zm7 0zm4 0zm3 0zm2 0zm1 0zm1 0zm1 0zm1 0zm2 0zm1 0zm3 0zm1 0zm87 0zm-110 1zm3 0zm1 0zm4 0zm3 0zm3 0zm4 0zm2 0zm2 0zm1 0zm2 0zm3 0zm2 0zm10 0zm-32 1zm3 0zm1 0zm4 0zm1 0zm1 0zm1 0zm3 0zm1 0zm1 0zm3 0zm2 0zm-29 1zm3 0zm4 0zm2 0zm1 0zm4 0zm1 0zm1 0zm1 0zm2 0zm1 0zm1 0zm1 0zm7 0zm63 0zm-92 1zm3 0zm3 0zm2 0zm1 0zm2 0zm2 0zm2 0zm3 0zm1 0zm1 0zm1 0zm1 0zm-23 1zm5 0zm3 0zm1 0zm3 0zm1 0zm1 0zm1 0zm1 0zm1 0zm1 0zm1 0zm4 0zm-15 1zm3 0zm1 0zm1 0zm1 0zm1 0zm1 0zm1 0zm2 0zm6 0zm1 0zm1 0zm16 0zm35 0zm53 0zm-123 1zm1 0zm4 0zm2 0zm1 0zm1 0zm1 0zm2 0zm11 0zm2 0zm2 0zm3 0zm-20 1zm2 0zm3 0zm2 0zm1 0zm10 0zm51 0zm-88 1zm4 0zm3 0zm3 0zm4 0zm1 0zm3 0zm3 0zm1 0zm8 0zm9 0zm153 0zm-187 1zm12 0zm1 0zm4 0zm1 0zm96 0zm-107 1zm1 0zm7 0zm4 0zm2 0zm2 0zm9 0zm3 0zm-32 1zm2 0zm2 0zm5 0zm3 0zm3 0zm-7 1zm4 0zm1 0zm20 0zm2 0zm-31 1zm1 0zm3 0zm11 0zm5 0zm9 0zm39 0zm81 0zm-136 1zm5 0zm1 0zm10 0zm-74 1zm65 0zm12 0zm2 0zm27 0zm43 0zm58 0zm-146 1zm12 0zm1 0zm2 0zm2 0zm5 0zm6 0zm-25 1zm6 0zm40 0zm-69 1zm24 0zm4 0zm11 0zm13 0zm61 0zm-92 1zm11 0zm7 0zm4 0zm34 0zm55 0zm-117 1zm10 0zm7 0zm1 0zm1 0zm11 0zm-15 1zm17 0zm-20 1zm15 0zm6 0zm3 0zm8 0zm18 0zm-38 1zm7 0zm16 0zm24 0zm-46 1zm19 0zm9 0zm15 0zm5 0zm10 0zm-103 1zm49 0zm10 0zm6 0zm26 0zm4 0zm12 0zm2 0zm1 0zm1 0zm5 0zm-84 1zm2 0zm7 0zm36 0zm10 0zm4 0zm3 0zm20 0zm8 0zm-96 1zm7 0zm13 0zm2 0zm7 0zm1 0zm10 0zm1 0zm14 0zm9 0zm2 0zm4 0zm4 0zm-62 1zm8 0zm4 0zm12 0zm4 0zm2 0zm20 0zm1 0zm5 0zm18 0zm3 0zm-82 1zm1 0zm12 0zm2 0zm1 0zm12 0zm8 0zm7 0zm4 0zm4 0zm3 0zm1 0zm2 0zm10 0zm2 0zm4 0zm1 0zm-62 1zm2 0zm5 0zm10 0zm2 0zm9 0zm13 0zm7 0zm1 0zm2 0zm3 0zm9 0zm7 0zm-59 1zm3 0zm4 0zm1 0zm1 0zm2 0zm3 0zm14 0zm2 0zm6 0zm9 0zm-77 1zm29 0zm3 0zm1 0zm1 0zm2 0zm4 0zm2 0zm11 0zm1 0zm5 0zm2 0zm12 0zm1 0zm13 0zm6 0zm-107 1zm26 0zm9 0zm8 0zm7 0zm1 0zm2 0zm10 0zm3 0zm2 0zm15 0zm2 0zm1 0zm6 0zm8 0zm1 0zm89 0zm-224 1zm72 0zm4 0zm4 0zm4 0zm2 0zm2 0zm2 0zm5 0zm7 0zm2 0zm1 0zm9 0zm4 0zm4 0zm4 0zm4 0zm-59 1zm4 0zm1 0zm4 0zm2 0zm5 0zm5 0zm5 0zm4 0zm3 0zm6 0zm3 0zm1 0zm1 0zm6 0zm1 0zm2 0zm21 0zm-69 1zm7 0zm3 0zm1 0zm2 0zm1 0zm1 0zm6 0zm1 0zm3 0zm3 0zm1 0zm11 0zm8 0zm2 0zm12 0zm6 0zm-78 1zm6 0zm7 0zm1 0zm1 0zm1 0zm1 0zm4 0zm1 0zm1 0zm3 0zm1 0zm5 0zm5 0zm2 0zm3 0zm1 0zm1 0zm2 0zm2 0zm5 0zm10 0zm52 0zm-100 1zm2 0zm4 0zm1 0zm1 0zm2 0zm3 0zm2 0zm1 0zm1 0zm2 0zm1 0zm2 0zm4 0zm8 0zm7 0zm6 0zm7 0zm5 0zm2 0zm6 0zm4 0zm-75 1zm1 0zm7 0zm3 0zm4 0zm2 0zm3 0zm5 0zm2 0zm2 0zm1 0zm1 0zm1 0zm4 0zm2 0zm3 0zm2 0zm1 0zm5 0zm7 0zm3 0zm-71 1zm6 0zm2 0zm1 0zm5 0zm1 0zm3 0zm3 0zm2 0zm2 0zm2 0zm1 0zm1 0zm3 0zm1 0zm3 0zm1 0zm4 0zm1 0zm2 0zm1 0zm3 0zm17 0zm1 0zm-61 1zm4 0zm2 0zm1 0zm1 0zm1 0zm4 0zm2 0zm4 0zm2 0zm3 0zm3 0zm5 0zm3 0zm2 0zm1 0zm1 0zm12 0zm17 0zm1 0zm-107 1zm38 0zm1 0zm1 0zm8 0zm1 0zm2 0zm3 0zm2 0zm3 0zm1 0zm6 0zm1 0zm2 0zm1 0zm3 0zm2 0zm1 0zm2 0zm2 0zm1 0zm2 0zm3 0zm5 0zm1 0zm3 0zm1 0zm6 0zm8 0zm16 0zm34 0zm-119 1zm1 0zm8 0zm5 0zm1 0zm6 0zm2 0zm1 0zm1 0zm4 0zm1 0zm1 0zm3 0zm1 0zm3 0zm1 0zm1 0zm8 0zm1 0zm3 0zm2 0zm1 0zm2 0zm5 0zm1 0zm9 0zm4 0zm2 0zm18 0zm-104 1zm3 0zm4 0zm1 0zm4 0zm3 0zm1 0zm1 0zm2 0zm2 0zm2 0zm1 0zm2 0zm1 0zm2 0zm2 0zm2 0zm1 0zm1 0zm2 0zm3 0zm1 0zm4 0zm2 0zm3 0zm2 0zm4 0zm4 0zm1 0zm3 0zm2 0zm12 0zm-73 1zm1 0zm2 0zm1 0zm1 0zm2 0zm3 0zm1 0zm1 0zm2 0zm1 0zm1 0zm1 0zm2 0zm1 0zm1 0zm1 0zm1 0zm2 0zm1 0zm1 0zm3 0zm1 0zm2 0zm3 0zm2 0zm2 0zm3 0zm1 0zm2 0zm5 0zm1 0zm4 0zm1 0zm3 0zm12 0zm4 0zm-74 1zm5 0zm2 0zm11 0zm1 0zm1 0zm2 0zm2 0zm1 0zm2 0zm2 0zm1 0zm1 0zm2 0zm1 0zm2 0zm1 0zm3 0zm1 0zm1 0zm3 0zm2 0zm1 0zm2 0zm4 0zm2 0zm1 0zm7 0zm55 0zm-124 1zm4 0zm9 0zm2 0zm4 0zm2 0zm1 0zm2 0zm1 0zm1 0zm1 0zm1 0zm1 0zm2 0zm1 0zm1 0zm2 0zm1 0zm2 0zm1 0zm1 0zm1 0zm2 0zm1 0zm1 0zm1 0zm2 0zm1 0zm5 0zm1 0zm1 0zm3 0zm3 0zm5 0zm10 0zm2 0zm2 0zm1 0zm1 0zm4 0zm-86 1zm1 0zm10 0zm7 0zm1 0zm1 0zm2 0zm3 0zm2 0zm7 0zm1 0zm1 0zm2 0zm2 0zm2 0zm3 0zm1 0zm2 0zm2 0zm1 0zm2 0zm1 0zm2 0zm3 0zm3 0zm4 0zm12 0zm-78 1zm1 0zm6 0zm2 0zm9 0zm1 0zm3 0zm1 0zm3 0zm1 0zm3 0zm1 0zm1 0zm1 0zm2 0zm3 0zm1 0zm2 0zm2 0zm2 0zm2 0zm3 0zm3 0zm1 0zm1 0zm2 0zm1 0zm2 0zm1 0zm1 0zm2 0zm7 0zm2 0zm7 0zm-89 1zm10 0zm2 0zm4 0zm4 0zm1 0zm2 0zm3 0zm3 0zm1 0zm1 0zm1 0zm2 0zm4 0zm1 0zm1 0zm2 0zm1 0zm2 0zm1 0zm1 0zm1 0zm1 0zm1 0zm2 0zm1 0zm1 0zm1 0zm1 0zm2 0zm17 0zm2 0zm1 0zm-93 1zm28 0zm2 0zm2 0zm2 0zm2 0zm1 0zm1 0zm2 0zm4 0zm2 0zm4 0zm6 0zm1 0zm1 0zm3 0zm1 0zm1 0zm1 0zm1 0zm1 0zm1 0zm1 0zm4 0zm1 0zm3 0zm1 0zm2 0zm1 0zm13 0zm13 0zm-88 1zm10 0zm2 0zm8 0zm1 0zm6 0zm1 0zm2 0zm1 0zm1 0zm2 0zm1 0zm1 0zm1 0zm1 0zm1 0zm5 0zm1 0zm1 0zm4 0zm1 0zm1 0zm3 0zm2 0zm2 0zm3 0zm1 0zm3 0zm3 0zm1 0zm1 0zm8 0zm-74 1zm9 0zm7 0zm1 0zm2 0zm1 0zm1 0zm8 0zm2 0zm3 0zm2 0zm2 0zm1 0zm2 0zm2 0zm1 0zm1 0zm2 0zm3 0zm1 0zm2 0zm1 0zm1 0zm4 0zm3 0zm1 0zm4 0zm7 0zm-104 1zm39 0zm1 0zm3 0zm2 0zm2 0zm2 0zm2 0zm6 0zm1 0zm4 0zm2 0zm1 0zm4 0zm1 0zm1 0zm1 0zm1 0zm1 0zm1 0zm2 0zm2 0zm1 0zm1 0zm1 0zm2 0zm1 0zm3 0zm1 0zm2 0zm6 0zm-57 1zm2 0zm1 0zm1 0zm1 0zm4 0zm2 0zm1 0zm2 0zm2 0zm4 0zm1 0zm1 0zm2 0zm1 0zm1 0zm1 0zm1 0zm1 0zm4 0zm4 0zm4 0zm1 0zm1 0zm1 0zm2 0zm2 0zm4 0zm1 0zm12 0zm-61 1zm1 0zm1 0zm2 0zm1 0zm1 0zm5 0zm2 0zm4 0zm1 0zm2 0zm1 0zm3 0zm2 0zm1 0zm1 0zm3 0zm1 0zm3 0zm5 0zm4 0zm2 0zm1 0zm6 0zm3 0zm-70 1zm12 0zm2 0zm3 0zm2 0zm9 0zm1 0zm2 0zm1 0zm1 0zm6 0zm2 0zm1 0zm8 0zm2 0zm26 0zm15 0zm-130 1zm40 0zm8 0zm2 0zm6 0zm4 0zm3 0zm3 0zm3 0zm2 0zm4 0zm2 0zm4 0zm3 0zm10 0zm4 0zm1 0zm2 0zm5 0zm10 0zm-66 1zm6 0zm1 0zm3 0zm5 0zm1 0zm2 0zm1 0zm3 0zm1 0zm4 0zm3 0zm1 0zm2 0zm1 0zm1 0zm3 0zm3 0zm1 0zm3 0zm2 0zm2 0zm6 0zm17 0zm-72 1zm8 0zm3 0zm4 0zm2 0zm1 0zm3 0zm1 0zm2 0zm2 0zm4 0zm1 0zm1 0zm3 0zm1 0zm1 0zm2 0zm2 0zm7 0zm1 0zm1 0zm1 0zm8 0zm4 0zm13 0zm-75 1zm4 0zm3 0zm4 0zm3 0zm1 0zm4 0zm8 0zm4 0zm1 0zm1 0zm4 0zm1 0zm2 0zm3 0zm10 0zm3 0zm2 0zm1 0zm-66 1zm2 0zm9 0zm3 0zm1 0zm3 0zm2 0zm2 0zm3 0zm2 0zm1 0zm5 0zm2 0zm1 0zm1 0zm2 0zm2 0zm2 0zm1 0zm6 0zm1 0zm1 0zm-47 1zm1 0zm23 0zm5 0zm3 0zm10 0zm2 0zm2 0zm4 0zm-86 1zm44 0zm3 0zm3 0zm1 0zm5 0zm3 0zm3 0zm13 0zm6 0zm8 0zm-35 1zm10 0zm5 0zm3 0zm4 0zm-31 1zm6 0zm13 0zm4 0zm1 0zm4 0zm11 0zm6 0zm-59 1zm23 0zm2 0zm3 0zm11 0zm2 0zm-23 2zm15 0zm-10 1zm11 0zm-17 1zm6 2zm-41 3zm118 0zm-105 4zm24 2zm77 3zm-69 14zm-3 5z"/>
<path stroke="#1E90FF" d="M122 187zm-8 1zm9 0zm-12 1zm0 1zm1 0zm1 1zm5 0zm0 1zm2 0zm4 0zm-19 1zm6 0zm1 0zm2 0zm1 0zm5 0zm2 0zm-18 1zm5 0zm1 0zm5 0zm1 0zm2 0zm4 0zm1 0zm-16 1zm2 0zm3 0zm3 0zm4 0zm-9 1zm2 0zm1 0zm4 0zm3 0zm11 0zm-26 1zm1 0zm7 0zm6 0zm3 0zm3 0zm1 0zm-23 1zm4 0zm11 0zm2 0zm2 0zm-19 1zm8 0zm3 0zm9 0zm1 0zm0 1zm5 0zm-33 1zm8 0zm8 0zm1 0zm1 0zm7 0zm3 0zm2 0zm1 0zm3 0zm1 0zm1 0zm-37 1zm8 0zm1 0zm3 0zm2 0zm2 0zm1 0zm2 0zm1 0zm2 0zm1 0zm2 0zm4 0zm1 0zm4 0zm3 0zm2 0zm-33 1zm2 0zm1 0zm4 0zm2 0zm3 0zm1 0zm1 0zm2 0zm4 0zm-24 1zm1 0zm2 0zm2 0zm5 0zm1 0zm5 0zm5 0zm1 0zm4 0zm6 0zm5 0zm-39 1zm5 0zm3 0zm1 0zm1 0zm2 0zm1 0zm1 0zm1 0zm1 0zm1 0zm2 0zm5 0zm2 0zm1 0zm3 0zm1 0zm4 0zm3 0zm-30 1zm4 0zm1 0zm2 0zm1 0zm4 0zm1 0zm1 0zm3 0zm1 0zm3 0zm1 0zm7 0zm-37 1zm2 0zm1 0zm4 0zm3 0zm1 0zm3 0zm1 0zm1 0zm1 0zm2 0zm1 0zm5 0zm1 0zm1 0zm5 0zm1 0zm6 0zm-45 1zm13 0zm3 0zm2 0zm2 0zm1 0zm1 0zm2 0zm1 0zm1 0zm2 0zm1 0zm2 0zm1 0zm1 0zm1 0zm1 0zm2 0zm3 0zm5 0zm1 0zm-40 1zm4 0zm1 0zm2 0zm6 0zm1 0zm4 0zm1 0zm2 0zm1 0zm2 0zm1 0zm3 0zm1 0zm-32 1zm10 0zm7 0zm3 0zm1 0zm1 0zm4 0zm3 0zm1 0zm8 0zm9 0zm-46 1zm9 0zm1 0zm1 0zm4 0zm2 0zm3 0zm1 0zm1 0zm1 0zm1 0zm2 0zm2 0zm2 0zm1 0zm4 0zm7 0zm1 0zm-39 1zm5 0zm1 0zm2 0zm2 0zm1 0zm4 0zm2 0zm2 0zm1 0zm2 0zm1 0zm8 0zm1 0zm-30 1zm2 0zm4 0zm2 0zm2 0zm1 0zm3 0zm1 0zm1 0zm2 0zm2 0zm2 0zm4 0zm5 0zm-34 1zm1 0zm8 0zm1 0zm1 0zm4 0zm1 0zm1 0zm2 0zm1 0zm1 0zm2 0zm1 0zm2 0zm2 0zm2 0zm2 0zm1 0zm4 0zm1 0zm-40 1zm4 0zm1 0zm1 0zm2 0zm4 0zm1 0zm1 0zm2 0zm1 0zm12 0zm4 0zm1 0zm1 0zm3 0zm2 0zm3 0zm-45 1zm5 0zm2 0zm2 0zm2 0zm7 0zm4 0zm1 0zm1 0zm1 0zm2 0zm1 0zm1 0zm1 0zm1 0zm2 0zm4 0zm2 0zm1 0zm6 0zm-35 1zm1 0zm3 0zm2 0zm3 0zm2 0zm1 0zm1 0zm3 0zm1 0zm1 0zm2 0zm2 0zm2 0zm2 0zm-30 1zm4 0zm1 0zm1 0zm3 0zm2 0zm3 0zm2 0zm2 0zm2 0zm1 0zm2 0zm1 0zm3 0zm3 0zm-42 1zm3 0zm16 0zm2 0zm1 0zm4 0zm1 0zm1 0zm1 0zm1 0zm3 0zm3 0zm1 0zm1 0zm1 0zm2 0zm1 0zm3 0zm1 0zm7 0zm1 0zm-43 1zm1 0zm2 0zm3 0zm1 0zm3 0zm1 0zm2 0zm1 0zm4 0zm2 0zm8 0zm1 0zm1 0zm2 0zm1 0zm3 0zm-36 1zm2 0zm1 0zm4 0zm1 0zm1 0zm3 0zm1 0zm2 0zm2 0zm1 0zm1 0zm2 0zm2 0zm3 0zm3 0zm3 0zm-41 1zm3 0zm1 0zm8 0zm1 0zm1 0zm4 0zm1 0zm1 0zm1 0zm1 0zm2 0zm1 0zm2 0zm5 0zm1 0zm1 0zm1 0zm4 0zm3 0zm2 0zm3 0zm1 0zm-42 1zm3 0zm2 0zm1 0zm2 0zm4 0zm1 0zm3 0zm2 0zm3 0zm1 0zm1 0zm3 0zm4 0zm3 0zm1 0zm5 0zm-36 1zm7 0zm1 0zm2 0zm3 0zm1 0zm2 0zm1 0zm4 0zm1 0zm1 0zm1 0zm3 0zm2 0zm1 0zm1 0zm8 0zm-39 1zm3 0zm2 0zm4 0zm2 0zm2 0zm2 0zm2 0zm5 0zm1 0zm1 0zm2 0zm-22 1zm4 0zm2 0zm3 0zm1 0zm1 0zm4 0zm1 0zm2 0zm1 0zm1 0zm2 0zm1 0zm2 0zm1 0zm1 0zm-34 1zm2 0zm1 0zm10 0zm1 0zm1 0zm2 0zm1 0zm1 0zm6 0zm1 0zm1 0zm5 0zm-21 1zm5 0zm2 0zm3 0zm5 0zm4 0zm7 0zm2 0zm4 0zm-28 1zm10 0zm3 0zm1 0zm1 0zm10 0zm-32 1zm6 0zm1 0zm6 0zm1 0zm1 0zm2 0zm1 0zm2 0zm7 0zm-42 1zm10 0zm6 0zm20 0zm2 0zm4 0zm6 0zm-34 1zm5 0zm3 0zm1 0zm2 0zm1 0zm2 0zm8 0zm2 0zm2 0zm-36 1zm14 0zm4 0zm4 0zm1 0zm4 0zm1 0zm3 0zm1 0zm1 0zm1 0zm1 0zm2 0zm3 0zm3 0zm-25 1zm5 0zm2 0zm3 0zm8 0zm-25 1zm1 0zm12 0zm3 0zm10 0zm-17 1zm1 0zm2 0zm3 0zm6 0zm4 0zm1 0zm2 0zm-25 1zm2 0zm3 0zm10 0zm17 0zm-35 1zm8 0zm3 0zm7 0zm1 0zm1 0zm8 0zm2 0zm-13 1zm2 0zm-21 1zm16 0zm2 0zm1 0zm-7 1zm12 0zm2 0zm-21 1zm11 0zm1 0zm5 0zm7 0zm-6 1zm-24 1zm10 0zm12 0zm-8 1zm6 0zm10 0zm-6 1zm2 0zm7 0zm8 0zm-15 1zm7 0zm-9 1zm12 0zm-17 1zm6 0zm-22 1zm3 0zm8 0zm11 0zm1 0zm1 0zm-5 1zm2 0zm1 0zm3 2zm-6 1zm8 0zm1 0zm-14 1zm4 0zm1 0zm-3 1zm6 0zm4 0zm6 0zm-16 1zm6 1zm14 0zm-24 1zm16 0zm3 1zm-13 2zm-9 1zm24 0zm-26 1zm8 1zm3 0zm16 0z"/>
<path stroke="#98FB98" d="M222 235zm12 5zm-10 4zm-3 3zm8 0zm-3 2zm-13 1zm-53 1zm65 0zm-11 1zm1 0zm2 0zm-12 1zm5 0zm4 0zm-5 1zm10 0zm-21 1zm20 0zm-74 1zm60 0zm13 0zm10 1zm-10 1zm5 0zm6 0zm-27 1zm7 0zm5 0zm8 0zm-9 1zm2 0zm6 0zm3 0zm-14 1zm12 0zm-98 1zm53 0zm25 0zm4 0zm11 0zm2 0zm8 0zm-30 2zm14 0zm2 0zm-28 1zm23 0zm6 0zm1 0zm-27 1zm14 0zm6 0zm7 0zm-4 1zm4 0zm9 0zm-105 1zm28 0zm73 0zm9 0zm-29 1zm12 0zm2 0zm-16 1zm7 0zm12 0zm-118 1zm103 0zm11 0zm-147 1zm127 0zm8 0zm10 0zm8 0zm-36 1zm14 0zm6 0zm9 0zm-8 1zm46 0zm-34 1zm-78 1zm64 0zm22 0zm-120 1zm90 0zm3 0zm14 0zm2 0zm2 0zm-114 1zm73 0zm36 0zm2 0zm-136 1zm98 0zm17 0zm7 0zm1 0zm4 0zm-30 1zm16 0zm20 0zm-40 1zm1 0zm5 0zm18 0zm4 0zm32 0zm-67 1zm1 0zm7 0zm3 0zm16 0zm6 0zm1 0zm3 0zm14 0zm-109 1zm56 0zm13 0zm16 0zm8 0zm-37 1zm4 0zm7 0zm4 0zm12 0zm10 0zm6 0zm-61 1zm12 0zm5 0zm4 0zm1 0zm1 0zm2 0zm1 0zm15 0zm1 0zm6 0zm4 0zm2 0zm1 0zm2 0zm-55 1zm12 0zm6 0zm11 0zm3 0zm25 0zm8 0zm-49 1zm3 0zm2 0zm2 0zm6 0zm3 0zm5 0zm6 0zm10 0zm1 0zm4 0zm26 0zm-73 1zm2 0zm2 0zm7 0zm9 0zm3 0zm8 0zm4 0zm8 0zm1 0zm11 0zm10 0zm-79 1zm10 0zm4 0zm8 0zm2 0zm3 0zm3 0zm10 0zm6 0zm3 0zm2 0zm-30 1zm12 0zm1 0zm13 0zm3 0zm1 0zm1 0zm2 0zm4 0zm1 0zm1 0zm36 0zm-95 1zm7 0zm14 0zm3 0zm6 0zm4 0zm5 0zm1 0zm2 0zm3 0zm8 0zm3 0zm-45 1zm5 0zm3 0zm6 0zm8 0zm1 0zm17 0zm5 0zm10 0zm-63 1zm20 0zm1 0zm2 0zm1 0zm4 0zm1 0zm1 0zm5 0zm1 0zm4 0zm2 0zm1 0zm7 0zm5 0zm4 0zm2 0zm-67 1zm4 0zm6 0zm9 0zm3 0zm4 0zm9 0zm2 0zm3 0zm1 0zm5 0zm2 0zm3 0zm5 0zm2 0zm2 0zm1 0zm2 0zm-60 1zm7 0zm6 0zm8 0zm1 0zm5 0zm3 0zm6 0zm3 0zm1 0zm1 0zm1 0zm1 0zm7 0zm1 0zm2 0zm10 0zm11 0zm-140 1zm66 0zm10 0zm7 0zm3 0zm3 0zm5 0zm2 0zm5 0zm1 0zm2 0zm1 0zm1 0zm1 0zm1 0zm1 0zm5 0zm1 0zm5 0zm4 0zm2 0zm1 0zm30 0zm13 0zm-135 1zm29 0zm5 0zm6 0zm8 0zm6 0zm5 0zm3 0zm2 0zm2 0zm3 0zm1 0zm1 0zm5 0zm1 0zm1 0zm1 0zm8 0zm4 0zm3 0zm3 0zm-66 1zm1 0zm7 0zm2 0zm11 0zm2 0zm2 0zm1 0zm1 0zm1 0zm1 0zm4 0zm1 0zm1 0zm2 0zm1 0zm5 0zm1 0zm2 0zm1 0zm4 0zm20 0zm5 0zm15 0zm-130 1zm36 0zm6 0zm4 0zm6 0zm2 0zm1 0zm2 0zm1 0zm3 0zm3 0zm6 0zm4 0zm1 0zm1 0zm2 0zm3 0zm1 0zm1 0zm1 0zm1 0zm2 0zm2 0zm1 0zm2 0zm3 0zm1 0zm10 0zm-52 1zm1 0zm2 0zm3 0zm6 0zm1 0zm2 0zm6 0zm4 0zm2 0zm3 0zm5 0zm3 0zm4 0zm1 0zm2 0zm4 0zm8 0zm18 0zm-106 1zm20 0zm5 0zm9 0zm2 0zm3 0zm1 0zm4 0zm1 0zm1 0zm2 0zm5 0zm3 0zm2 0zm1 0zm2 0zm4 0zm1 0zm1 0zm3 0zm3 0zm2 0zm5 0zm2 0zm5 0zm7 0zm9 0zm-87 1zm4 0zm2 0zm1 0zm5 0zm1 0zm1 0zm2 0zm4 0zm4 0zm1 0zm7 0zm1 0zm1 0zm2 0zm3 0zm1 0zm7 0zm1 0zm2 0zm4 0zm2 0zm2 0zm3 0zm1 0zm1 0zm5 0zm3 0zm16 0zm-84 1zm3 0zm3 0zm8 0zm1 0zm9 0zm6 0zm1 0zm1 0zm5 0zm1 0zm1 0zm2 0zm5 0zm1 0zm3 0zm1 0zm3 0zm8 0zm3 0zm1 0zm-67 1zm14 0zm1 0zm2 0zm4 0zm1 0zm4 0zm1 0zm2 0zm1 0zm1 0zm1 0zm1 0zm1 0zm1 0zm1 0zm1 0zm1 0zm5 0zm4 0zm11 0zm4 0zm2 0zm1 0zm15 0zm-82 1zm9 0zm1 0zm4 0zm10 0zm1 0zm2 0zm1 0zm2 0zm1 0zm1 0zm1 0zm1 0zm2 0zm1 0zm3 0zm3 0zm6 0zm2 0zm26 0zm3 0zm10 0zm1 0zm-110 1zm15 0zm3 0zm6 0zm8 0zm2 0zm1 0zm1 0zm1 0zm6 0zm1 0zm2 0zm1 0zm3 0zm1 0zm2 0zm3 0zm1 0zm3 0zm2 0zm1 0zm4 0zm2 0zm8 0zm16 0zm3 0zm13 0zm8 0zm1 0zm10 0zm-118 1zm1 0zm17 0zm7 0zm6 0zm1 0zm5 0zm5 0zm4 0zm2 0zm1 0zm5 0zm2 0zm1 0zm6 0zm4 0zm2 0zm2 0zm1 0zm1 0zm2 0zm3 0zm6 0zm1 0zm10 0zm1 0zm2 0zm7 0zm-158 1zm61 0zm8 0zm13 0zm10 0zm1 0zm4 0zm4 0zm5 0zm1 0zm1 0zm4 0zm7 0zm2 0zm4 0zm8 0zm2 0zm1 0zm1 0zm1 0zm2 0zm1 0zm2 0zm5 0zm33 0zm-117 1zm2 0zm2 0zm4 0zm1 0zm2 0zm5 0zm2 0zm6 0zm1 0zm2 0zm1 0zm1 0zm3 0zm2 0zm3 0zm3 0zm4 0zm2 0zm7 0zm5 0zm1 0zm17 0zm4 0zm4 0zm15 0zm3 0zm1 0zm2 0zm-106 1zm4 0zm2 0zm7 0zm2 0zm6 0zm3 0zm2 0zm13 0zm6 0zm2 0zm4 0zm1 0zm1 0zm13 0zm9 0zm21 0zm11 0zm-113 1zm13 0zm3 0zm5 0zm3 0zm4 0zm2 0zm7 0zm1 0zm3 0zm1 0zm6 0zm1 0zm18 0zm3 0zm4 0zm5 0zm7 0zm14 0zm10 0zm-115 1zm24 0zm4 0zm3 0zm7 0zm5 0zm2 0zm3 0zm9 0zm18 0zm13 0zm1 0zm11 0zm9 0zm15 0zm1 0zm-107 1zm9 0zm3 0zm2 0zm8 0zm2 0zm6 0zm3 0zm1 0zm11 0zm4 0zm23 0zm6 0zm3 0zm2 0zm2 0zm4 0zm12 0zm2 0zm-148 1zm53 0zm12 0zm1 0zm3 0zm6 0zm5 0zm14 0zm16 0zm4 0zm5 0zm8 0zm2 0zm-94 1zm6 0zm6 0zm17 0zm2 0zm2 0zm2 0zm1 0zm10 0zm21 0zm8 0zm11 0zm4 0zm7 0zm10 0zm-93 1zm9 0zm11 0zm4 0zm9 0zm34 0zm2 0zm2 0zm1 0zm8 0zm6 0zm7 0zm5 0zm-99 1zm3 0zm6 0zm16 0zm11 0zm7 0zm1 0zm41 0zm10 0zm2 0zm-92 1zm19 0zm48 0zm2 0zm18 0zm6 0zm1 0zm2 0zm-29 1zm14 0zm7 0zm-148 1zm64 0zm12 0zm49 0zm6 0zm8 0zm4 0zm9 0zm3 0zm4 0zm5 0zm-140 1zm104 0zm15 0zm13 0zm-168 1zm139 0zm17 0zm2 0zm2 0zm15 0zm-85 1zm70 0zm1 0zm-21 1zm10 0zm-128 1zm2 0zm31 0zm35 0zm58 0zm25 0zm-96 1zm69 0zm14 0zm3 0zm8 0zm-164 1zm151 0zm-17 1zm13 0zm4 0zm29 0zm-97 1zm62 0zm-59 1zm14 1zm42 0zm1 3zm-44 1zm-47 1zm19 7zm15 1z"/>
<path stroke="#20B2AA" d="M325 166zm-7 1zm11 1zm-42 1zm27 0zm9 0zm-44 1zm4 0zm0 1zm3 0zm3 0zm3 0zm5 0zm1 0zm6 0zm17 0zm2 0zm-53 1zm4 0zm4 0zm6 0zm7 0zm9 0zm2 0zm3 0zm3 0zm3 0zm2 0zm2 0zm-44 1zm10 0zm8 0zm3 0zm8 0zm5 0zm1 0zm6 0zm4 0zm4 0zm-37 1zm6 0zm7 0zm13 0zm5 0zm8 0zm-45 1zm4 0zm1 0zm6 0zm5 0zm3 0zm3 0zm15 0zm1 0zm9 0zm2 0zm-56 1zm1 0zm6 0zm2 0zm4 0zm2 0zm3 0zm22 0zm6 0zm14 0zm-52 1zm6 0zm3 0zm2 0zm3 0zm3 0zm1 0zm1 0zm8 0zm4 0zm11 0zm1 0zm1 0zm-62 1zm9 0zm9 0zm1 0zm2 0zm3 0zm2 0zm5 0zm2 0zm1 0zm3 0zm6 0zm2 0zm2 0zm3 0zm4 0zm3 0zm1 0zm7 0zm1 0zm5 0zm-76 1zm8 0zm11 0zm12 0zm1 0zm1 0zm5 0zm6 0zm7 0zm1 0zm4 0zm3 0zm7 0zm2 0zm5 0zm2 0zm6 0zm-107 1zm9 0zm25 0zm3 0zm5 0zm1 0zm4 0zm10 0zm4 0zm1 0zm4 0zm2 0zm2 0zm5 0zm2 0zm1 0zm3 0zm1 0zm5 0zm7 0zm10 0zm-73 1zm3 0zm1 0zm1 0zm12 0zm3 0zm1 0zm2 0zm2 0zm1 0zm1 0zm4 0zm1 0zm1 0zm1 0zm1 0zm3 0zm3 0zm1 0zm3 0zm4 0zm1 0zm7 0zm2 0zm2 0zm4 0zm4 0zm1 0zm4 0zm-74 1zm6 0zm4 0zm1 0zm3 0zm1 0zm3 0zm1 0zm4 0zm5 0zm2 0zm3 0zm2 0zm1 0zm4 0zm2 0zm3 0zm1 0zm6 0zm1 0zm6 0zm3 0zm1 0zm-80 1zm11 0zm3 0zm5 0zm2 0zm4 0zm4 0zm1 0zm3 0zm7 0zm3 0zm6 0zm1 0zm4 0zm4 0zm3 0zm4 0zm1 0zm1 0zm3 0zm1 0zm1 0zm4 0zm4 0zm-97 1zm5 0zm29 0zm1 0zm6 0zm6 0zm3 0zm2 0zm5 0zm1 0zm4 0zm1 0zm1 0zm1 0zm1 0zm3 0zm1 0zm2 0zm2 0zm3 0zm2 0zm5 0zm2 0zm1 0zm1 0zm2 0zm1 0zm11 0zm-62 1zm1 0zm8 0zm1 0zm1 0zm2 0zm2 0zm4 0zm1 0zm2 0zm1 0zm7 0zm6 0zm2 0zm3 0zm2 0zm1 0zm2 0zm6 0zm1 0zm1 0zm2 0zm2 0zm7 0zm-83 1zm4 0zm9 0zm4 0zm1 0zm8 0zm5 0zm1 0zm5 0zm5 0zm2 0zm1 0zm7 0zm1 0zm5 0zm3 0zm1 0zm1 0zm1 0zm1 0zm1 0zm1 0zm1 0zm1 0zm2 0zm1 0zm1 0zm6 0zm3 0zm1 0zm1 0zm1 0zm-104 1zm4 0zm18 0zm2 0zm6 0zm6 0zm4 0zm3 0zm6 0zm5 0zm3 0zm3 0zm1 0zm1 0zm2 0zm5 0zm4 0zm2 0zm1 0zm4 0zm1 0zm1 0zm3 0zm4 0zm3 0zm1 0zm4 0zm3 0zm1 0zm4 0zm-112 1zm5 0zm13 0zm20 0zm1 0zm2 0zm3 0zm6 0zm6 0zm1 0zm4 0zm3 0zm2 0zm1 0zm3 0zm3 0zm6 0zm8 0zm1 0zm2 0zm2 0zm1 0zm1 0zm7 0zm7 0zm1 0zm8 0zm-95 1zm4 0zm4 0zm3 0zm5 0zm2 0zm1 0zm1 0zm2 0zm1 0zm1 0zm1 0zm3 0zm2 0zm1 0zm1 0zm1 0zm1 0zm4 0zm1 0zm1 0zm7 0zm4 0zm1 0zm1 0zm1 0zm2 0zm5 0zm1 0zm1 0zm1 0zm1 0zm2 0zm2 0zm1 0zm4 0zm3 0zm1 0zm1 0zm3 0zm1 0zm3 0zm2 0zm-110 1zm13 0zm18 0zm6 0zm6 0zm2 0zm2 0zm3 0zm1 0zm1 0zm1 0zm1 0zm7 0zm1 0zm2 0zm1 0zm2 0zm1 0zm1 0zm2 0zm2 0zm3 0zm2 0zm4 0zm5 0zm6 0zm1 0zm1 0zm1 0zm1 0zm2 0zm1 0zm6 0zm-91 1zm7 0zm18 0zm3 0zm3 0zm2 0zm2 0zm2 0zm2 0zm2 0zm5 0zm1 0zm2 0zm1 0zm3 0zm4 0zm3 0zm2 0zm3 0zm5 0zm3 0zm4 0zm4 0zm3 0zm1 0zm1 0zm5 0zm1 0zm1 0zm1 0zm1 0zm2 0zm-112 1zm16 0zm2 0zm4 0zm8 0zm2 0zm2 0zm8 0zm5 0zm2 0zm1 0zm3 0zm5 0zm1 0zm1 0zm3 0zm1 0zm2 0zm2 0zm4 0zm1 0zm4 0zm6 0zm3 0zm1 0zm1 0zm2 0zm4 0zm1 0zm3 0zm4 0zm1 0zm3 0zm4 0zm-109 1zm14 0zm20 0zm3 0zm2 0zm5 0zm1 0zm2 0zm1 0zm2 0zm1 0zm5 0zm6 0zm1 0zm1 0zm2 0zm1 0zm1 0zm1 0zm2 0zm2 0zm4 0zm1 0zm1 0zm4 0zm1 0zm1 0zm1 0zm1 0zm1 0zm4 0zm2 0zm2 0zm1 0zm2 0zm1 0zm1 0zm2 0zm-111 1zm40 0zm1 0zm1 0zm3 0zm2 0zm6 0zm3 0zm1 0zm7 0zm1 0zm2 0zm1 0zm1 0zm5 0zm5 0zm1 0zm2 0zm1 0zm1 0zm2 0zm3 0zm1 0zm1 0zm2 0zm4 0zm3 0zm3 0zm2 0zm1 0zm1 0zm4 0zm3 0zm4 0zm4 0zm-111 1zm21 0zm2 0zm3 0zm1 0zm2 0zm3 0zm3 0zm2 0zm3 0zm1 0zm3 0zm3 0zm1 0zm1 0zm1 0zm4 0zm6 0zm7 0zm1 0zm1 0zm2 0zm1 0zm1 0zm2 0zm2 0zm1 0zm1 0zm2 0zm1 0zm1 0zm5 0zm1 0zm2 0zm4 0zm1 0zm3 0zm2 0zm1 0zm2 0zm2 0zm2 0zm-104 1zm12 0zm3 0zm3 0zm2 0zm2 0zm3 0zm1 0zm6 0zm5 0zm10 0zm2 0zm3 0zm1 0zm3 0zm3 0zm1 0zm1 0zm5 0zm5 0zm1 0zm4 0zm1 0zm1 0zm2 0zm2 0zm8 0zm4 0zm1 0zm1 0zm1 0zm1 0zm1 0zm-112 1zm19 0zm3 0zm20 0zm2 0zm1 0zm1 0zm6 0zm3 0zm4 0zm1 0zm2 0zm3 0zm1 0zm1 0zm2 0zm1 0zm2 0zm7 0zm1 0zm1 0zm1 0zm2 0zm1 0zm3 0zm2 0zm1 0zm1 0zm3 0zm1 0zm1 0zm2 0zm2 0zm2 0zm1 0zm1 0zm1 0zm2 0zm2 0zm1 0zm2 0zm3 0zm-98 1zm1 0zm2 0zm11 0zm7 0zm8 0zm1 0zm7 0zm1 0zm8 0zm1 0zm2 0zm1 0zm2 0zm3 0zm1 0zm2 0zm4 0zm3 0zm1 0zm2 0zm3 0zm1 0zm2 0zm3 0zm2 0zm1 0zm1 0zm5 0zm2 0zm2 0zm1 0zm2 0zm1 0zm2 0zm-94 1zm5 0zm12 0zm6 0zm4 0zm1 0zm1 0zm1 0zm5 0zm3 0zm3 0zm3 0zm1 0zm3 0zm2 0zm2 0zm12 0zm3 0zm1 0zm4 0zm2 0zm1 0zm2 0zm4 0zm1 0zm1 0zm2 0zm1 0zm4 0zm3 0zm2 0zm2 0zm-110 1zm18 0zm13 0zm1 0zm2 0zm1 0zm7 0zm6 0zm1 0zm2 0zm3 0zm2 0zm1 0zm1 0zm1 0zm1 0zm2 0zm2 0zm2 0zm3 0zm2 0zm3 0zm3 0zm1 0zm1 0zm2 0zm2 0zm2 0zm8 0zm1 0zm1 0zm1 0zm3 0zm2 0zm2 0zm5 0zm4 0zm-94 1zm5 0zm2 0zm2 0zm2 0zm4 0zm2 0zm2 0zm1 0zm2 0zm4 0zm2 0zm4 0zm1 0zm1 0zm2 0zm3 0zm3 0zm1 0zm1 0zm1 0zm2 0zm1 0zm2 0zm1 0zm2 0zm1 0zm1 0zm3 0zm6 0zm1 0zm1 0zm2 0zm1 0zm6 0zm2 0zm2 0zm1 0zm2 0zm3 0zm6 0zm5 0zm1 0zm-103 1zm1 0zm24 0zm1 0zm1 0zm4 0zm1 0zm3 0zm1 0zm2 0zm1 0zm2 0zm1 0zm4 0zm1 0zm3 0zm2 0zm2 0zm2 0zm2 0zm1 0zm2 0zm2 0zm1 0zm1 0zm5 0zm2 0zm1 0zm1 0zm1 0zm1 0zm1 0zm2 0zm5 0zm3 0zm2 0zm6 0zm4 0zm-114 1zm17 0zm7 0zm6 0zm2 0zm1 0zm4 0zm1 0zm2 0zm2 0zm3 0zm1 0zm3 0zm2 0zm3 0zm7 0zm5 0zm1 0zm7 0zm1 0zm1 0zm3 0zm1 0zm3 0zm3 0zm4 0zm3 0zm1 0zm2 0zm7 0zm3 0zm1 0zm3 0zm5 0zm-117 1zm45 0zm6 0zm1 0zm4 0zm5 0zm1 0zm1 0zm2 0zm2 0zm4 0zm1 0zm1 0zm2 0zm1 0zm1 0zm5 0zm1 0zm1 0zm2 0zm4 0zm1 0zm1 0zm2 0zm1 0zm2 0zm2 0zm1 0zm1 0zm1 0zm4 0zm5 0zm6 0zm-108 1zm23 0zm4 0zm3 0zm2 0zm4 0zm5 0zm2 0zm1 0zm7 0zm1 0zm3 0zm3 0zm3 0zm5 0zm2 0zm1 0zm1 0zm1 0zm3 0zm3 0zm1 0zm2 0zm1 0zm4 0zm3 0zm1 0zm1 0zm1 0zm5 0zm2 0zm7 0zm2 0zm-104 1zm14 0zm7 0zm1 0zm1 0zm2 0zm12 0zm1 0zm1 0zm2 0zm2 0zm2 0zm1 0zm1 0zm1 0zm1 0zm1 0zm6 0zm2 0zm1 0zm1 0zm4 0zm3 0zm1 0zm4 0zm2 0zm4 0zm1 0zm3 0zm1 0zm2 0zm4 0zm11 0zm1 0zm-88 1zm3 0zm10 0zm7 0zm1 0zm2 0zm2 0zm4 0zm1 0zm1 0zm6 0zm2 0zm1 0zm1 0zm3 0zm1 0zm1 0zm3 0zm4 0zm1 0zm2 0zm3 0zm3 0zm1 0zm1 0zm1 0zm2 0zm1 0zm2 0zm2 0zm6 0zm1 0zm5 0zm3 0zm6 0zm-102 1zm6 0zm12 0zm2 0zm11 0zm2 0zm1 0zm1 0zm3 0zm8 0zm1 0zm1 0zm5 0zm1 0zm2 0zm3 0zm2 0zm3 0zm1 0zm1 0zm1 0zm4 0zm2 0zm1 0zm1 0zm1 0zm5 0zm2 0zm1 0zm4 0zm4 0zm4 0zm3 0zm12 0zm-119 1zm24 0zm5 0zm1 0zm2 0zm7 0zm8 0zm4 0zm7 0zm3 0zm6 0zm5 0zm7 0zm1 0zm1 0zm1 0zm10 0zm2 0zm1 0zm1 0zm1 0zm6 0zm2 0zm4 0zm3 0zm-90 1zm14 0zm2 0zm5 0zm3 0zm2 0zm3 0zm1 0zm5 0zm4 0zm1 0zm4 0zm1 0zm1 0zm3 0zm1 0zm3 0zm1 0zm2 0zm2 0zm1 0zm2 0zm2 0zm1 0zm1 0zm6 0zm3 0zm1 0zm9 0zm-95 1zm15 0zm9 0zm8 0zm2 0zm5 0zm4 0zm4 0zm3 0zm4 0zm1 0zm2 0zm3 0zm2 0zm2 0zm4 0zm1 0zm1 0zm1 0zm2 0zm2 0zm2 0zm3 0zm2 0zm7 0zm4 0zm-66 1zm1 0zm6 0zm4 0zm1 0zm1 0zm2 0zm4 0zm6 0zm4 0zm2 0zm1 0zm1 0zm1 0zm1 0zm3 0zm1 0zm1 0zm5 0zm1 0zm1 0zm1 0zm7 0zm1 0zm-75 1zm9 0zm1 0zm4 0zm16 0zm2 0zm1 0zm1 0zm4 0zm1 0zm1 0zm1 0zm8 0zm5 0zm4 0zm6 0zm2 0zm1 0zm1 0zm1 0zm8 0zm2 0zm1 0zm3 0zm5 0zm-80 1zm4 0zm3 0zm4 0zm3 0zm4 0zm2 0zm5 0zm2 0zm3 0zm2 0zm3 0zm5 0zm1 0zm2 0zm1 0zm2 0zm1 0zm2 0zm1 0zm2 0zm8 0zm1 0zm5 0zm6 0zm2 0zm1 0zm2 0zm1 0zm1 0zm-75 1zm6 0zm2 0zm7 0zm5 0zm1 0zm6 0zm1 0zm2 0zm2 0zm2 0zm1 0zm4 0zm5 0zm1 0zm6 0zm3 0zm5 0zm1 0zm3 0zm1 0zm1 0zm4 0zm1 0zm-75 1zm4 0zm10 0zm2 0zm11 0zm4 0zm2 0zm2 0zm4 0zm3 0zm12 0zm2 0zm1 0zm1 0zm2 0zm4 0zm2 0zm2 0zm1 0zm-46 1zm1 0zm5 0zm8 0zm1 0zm4 0zm2 0zm2 0zm1 0zm1 0zm9 0zm2 0zm2 0zm4 0zm2 0zm2 0zm2 0zm-63 1zm17 0zm5 0zm10 0zm1 0zm5 0zm3 0zm6 0zm1 0zm6 0zm5 0zm2 0zm1 0zm2 0zm-59 1zm8 0zm11 0zm2 0zm2 0zm1 0zm8 0zm8 0zm1 0zm1 0zm2 0zm4 0zm2 0zm2 0zm5 0zm-67 1zm11 0zm2 0zm2 0zm3 0zm6 0zm4 0zm1 0zm6 0zm1 0zm1 0zm3 0zm1 0zm4 0zm1 0zm27 0zm-75 1zm13 0zm8 0zm13 0zm7 0zm3 0zm2 0zm3 0zm12 0zm4 0zm5 0zm1 0zm1 0zm-51 1zm5 0zm3 0zm3 0zm2 0zm4 0zm6 0zm2 0zm1 0zm2 0zm14 0zm1 0zm1 0zm2 0zm-51 1zm12 0zm4 0zm5 0zm11 0zm6 0zm2 0zm7 0zm15 0zm-61 1zm13 0zm1 0zm5 0zm14 0zm26 0zm-61 1zm14 0zm-17 1zm10 0zm7 0zm13 0zm5 0zm6 0zm2 0zm-40 1zm26 0zm4 0zm19 0zm-49 1zm8 0zm7 0zm1 0zm8 0zm-6 1zm25 0zm-47 1zm4 0zm2 0zm3 0zm15 0zm4 0zm1 0zm10 0zm-21 1zm2 1zm34 1z"/>
<path stroke="#0000FF" d="M243 92zm-2 5zm-1 1zm8 0zm-9 1zm4 0zm4 0zm-7 1zm3 0zm1 0zm-6 1zm7 1zm-2 2zm19 1zm-16 2zm20 0zm-6 1zm-17 3zm11 0zm5 0zm4 0zm7 1zm-29 1zm7 0zm15 0zm2 0zm7 0zm-12 1zm6 0zm3 0zm1 0zm1 0zm-37 1zm9 0zm14 0zm4 0zm1 0zm9 0zm-36 1zm2 0zm4 0zm16 0zm4 0zm4 0zm1 0zm1 0zm3 0zm1 0zm-26 1zm1 0zm3 0zm2 0zm1 0zm1 0zm2 0zm2 0zm3 0zm3 0zm2 0zm7 0zm2 0zm4 0zm-46 1zm18 0zm3 0zm1 0zm1 0zm1 0zm4 0zm3 0zm2 0zm1 0zm1 0zm1 0zm1 0zm5 0zm2 0zm-36 1zm1 0zm3 0zm1 0zm2 0zm4 0zm3 0zm4 0zm1 0zm1 0zm3 0zm2 0zm4 0zm2 0zm5 0zm1 0zm3 0zm3 0zm5 0zm-57 1zm7 0zm4 0zm6 0zm4 0zm1 0zm5 0zm1 0zm5 0zm2 0zm1 0zm5 0zm1 0zm2 0zm3 0zm6 0zm6 0zm-54 1zm6 0zm5 0zm1 0zm4 0zm1 0zm6 0zm2 0zm2 0zm5 0zm1 0zm4 0zm2 0zm1 0zm1 0zm1 0zm-51 1zm5 0zm9 0zm7 0zm3 0zm1 0zm1 0zm1 0zm1 0zm3 0zm5 0zm1 0zm1 0zm2 0zm2 0zm1 0zm1 0zm-32 1zm1 0zm3 0zm5 0zm2 0zm3 0zm2 0zm3 0zm7 0zm4 0zm1 0zm1 0zm1 0zm3 0zm2 0zm2 0zm2 0zm6 0zm-58 1zm1 0zm1 0zm6 0zm2 0zm4 0zm6 0zm2 0zm1 0zm1 0zm3 0zm3 0zm2 0zm1 0zm1 0zm3 0zm3 0zm3 0zm5 0zm1 0zm1 0zm3 0zm3 0zm-52 1zm4 0zm2 0zm1 0zm1 0zm2 0zm2 0zm6 0zm1 0zm11 0zm1 0zm1 0zm1 0zm1 0zm1 0zm3 0zm3 0zm-48 1zm15 0zm2 0zm1 0zm1 0zm1 0zm3 0zm1 0zm1 0zm1 0zm1 0zm2 0zm3 0zm8 0zm5 0zm1 0zm2 0zm4 0zm1 0zm1 0zm6 0zm-54 1zm1 0zm7 0zm1 0zm2 0zm1 0zm1 0zm2 0zm2 0zm2 0zm1 0zm1 0zm1 0zm4 0zm4 0zm2 0zm4 0zm5 0zm15 0zm-59 1zm6 0zm10 0zm3 0zm3 0zm2 0zm1 0zm2 0zm2 0zm1 0zm2 0zm2 0zm1 0zm1 0zm3 0zm2 0zm4 0zm2 0zm4 0zm4 0zm2 0zm2 0zm6 0zm-66 1zm5 0zm8 0zm2 0zm1 0zm1 0zm1 0zm1 0zm4 0zm1 0zm2 0zm2 0zm1 0zm1 0zm2 0zm1 0zm4 0zm4 0zm2 0zm1 0zm1 0zm3 0zm1 0zm1 0zm1 0zm2 0zm2 0zm3 0zm-59 1zm2 0zm2 0zm1 0zm1 0zm2 0zm3 0zm1 0zm2 0zm1 0zm1 0zm1 0zm1 0zm1 0zm1 0zm1 0zm2 0zm1 0zm1 0zm1 0zm1 0zm3 0zm1 0zm3 0zm1 0zm1 0zm2 0zm1 0zm3 0zm1 0zm3 0zm1 0zm1 0zm1 0zm2 0zm1 0zm3 0zm1 0zm1 0zm2 0zm4 0zm-64 1zm2 0zm2 0zm5 0zm2 0zm2 0zm1 0zm2 0zm1 0zm1 0zm1 0zm1 0zm1 0zm3 0zm2 0zm1 0zm1 0zm1 0zm3 0zm1 0zm1 0zm2 0zm1 0zm2 0zm1 0zm1 0zm1 0zm3 0zm1 0zm3 0zm1 0zm1 0zm1 0zm2 0zm5 0zm-53 1zm1 0zm4 0zm1 0zm2 0zm1 0zm2 0zm1 0zm2 0zm2 0zm1 0zm1 0zm1 0zm2 0zm2 0zm2 0zm1 0zm1 0zm2 0zm1 0zm1 0zm2 0zm3 0zm4 0zm1 0zm1 0zm1 0zm4 0zm2 0zm1 0zm1 0zm2 0zm1 0zm-59 1zm1 0zm6 0zm1 0zm1 0zm4 0zm4 0zm1 0zm3 0zm1 0zm5 0zm1 0zm1 0zm2 0zm1 0zm1 0zm2 0zm1 0zm1 0zm3 0zm1 0zm2 0zm1 0zm1 0zm1 0zm1 0zm4 0zm1 0zm4 0zm1 0zm2 0zm3 0zm-64 1zm4 0zm4 0zm1 0zm5 0zm3 0zm2 0zm5 0zm1 0zm1 0zm1 0zm4 0zm2 0zm1 0zm1 0zm3 0zm1 0zm3 0zm2 0zm2 0zm1 0zm1 0zm1 0zm1 0zm1 0zm5 0zm1 0zm2 0zm1 0zm2 0zm1 0zm2 0zm1 0zm1 0zm-69 1zm5 0zm6 0zm5 0zm2 0zm5 0zm1 0zm1 0zm1 0zm1 0zm1 0zm4 0zm1 0zm2 0zm2 0zm1 0zm2 0zm1 0zm2 0zm1 0zm1 0zm1 0zm2 0zm1 0zm1 0zm2 0zm1 0zm2 0zm4 0zm4 0zm6 0zm-65 1zm2 0zm1 0zm1 0zm1 0zm3 0zm1 0zm1 0zm1 0zm2 0zm1 0zm2 0zm2 0zm2 0zm1 0zm1 0zm1 0zm1 0zm1 0zm2 0zm1 0zm2 0zm1 0zm2 0zm1 0zm1 0zm2 0zm3 0zm1 0zm1 0zm1 0zm1 0zm1 0zm1 0zm1 0zm1 0zm4 0zm2 0zm1 0zm1 0zm4 0zm3 0zm3 0zm7 0zm-75 1zm3 0zm1 0zm3 0zm2 0zm1 0zm1 0zm2 0zm4 0zm2 0zm2 0zm1 0zm1 0zm2 0zm1 0zm1 0zm3 0zm1 0zm2 0zm2 0zm1 0zm1 0zm5 0zm1 0zm3 0zm1 0zm2 0zm1 0zm1 0zm1 0zm2 0zm2 0zm4 0zm1 0zm1 0zm1 0zm1 0zm4 0zm-65 1zm7 0zm2 0zm5 0zm1 0zm1 0zm1 0zm3 0zm1 0zm3 0zm2 0zm1 0zm6 0zm1 0zm1 0zm3 0zm1 0zm2 0zm1 0zm1 0zm1 0zm1 0zm2 0zm2 0zm2 0zm1 0zm1 0zm1 0zm8 0zm-66 1zm7 0zm3 0zm1 0zm3 0zm1 0zm2 0zm1 0zm1 0zm2 0zm3 0zm1 0zm1 0zm2 0zm1 0zm1 0zm1 0zm1 0zm1 0zm1 0zm2 0zm1 0zm1 0zm1 0zm3 0zm1 0zm5 0zm1 0zm2 0zm1 0zm1 0zm3 0zm1 0zm1 0zm1 0zm3 0zm3 0zm3 0zm5 0zm-76 1zm1 0zm11 0zm2 0zm1 0zm1 0zm1 0zm1 0zm2 0zm3 0zm1 0zm2 0zm1 0zm2 0zm1 0zm2 0zm4 0zm1 0zm1 0zm2 0zm2 0zm1 0zm3 0zm1 0zm4 0zm1 0zm2 0zm1 0zm2 0zm3 0zm1 0zm1 0zm1 0zm1 0zm2 0zm2 0zm1 0zm-68 1zm3 0zm5 0zm1 0zm1 0zm2 0zm1 0zm1 0zm1 0zm1 0zm4 0zm1 0zm1 0zm2 0zm1 0zm1 0zm2 0zm1 0zm1 0zm1 0zm1 0zm3 0zm1 0zm1 0zm3 0zm1 0zm2 0zm2 0zm2 0zm1 0zm1 0zm2 0zm2 0zm1 0zm2 0zm2 0zm1 0zm4 0zm1 0zm1 0zm6 0zm3 0zm-73 1zm1 0zm2 0zm5 0zm1 0zm3 0zm2 0zm1 0zm1 0zm1 0zm3 0zm3 0zm1 0zm5 0zm1 0zm3 0zm1 0zm1 0zm1 0zm1 0zm1 0zm1 0zm1 0zm1 0zm2 0zm3 0zm1 0zm3 0zm2 0zm1 0zm2 0zm1 0zm1 0zm3 0zm2 0zm2 0zm2 0zm-71 1zm4 0zm7 0zm8 0zm1 0zm1 0zm1 0zm1 0zm1 0zm1 0zm1 0zm3 0zm4 0zm3 0zm2 0zm3 0zm1 0zm2 0zm2 0zm1 0zm3 0zm3 0zm1 0zm1 0zm1 0zm1 0zm1 0zm1 0zm4 0zm4 0zm4 0zm2 0zm5 0zm-81 1zm9 0zm3 0zm2 0zm1 0zm1 0zm3 0zm2 0zm1 0zm2 0zm5 0zm1 0zm1 0zm1 0zm2 0zm1 0zm1 0zm1 0zm1 0zm2 0zm2 0zm1 0zm2 0zm4 0zm1 0zm2 0zm1 0zm1 0zm1 0zm1 0zm2 0zm1 0zm1 0zm1 0zm4 0zm1 0zm2 0zm1 0zm1 0zm3 0zm3 0zm1 0zm4 0zm-79 1zm7 0zm1 0zm3 0zm2 0zm3 0zm2 0zm1 0zm1 0zm1 0zm1 0zm2 0zm1 0zm1 0zm3 0zm5 0zm1 0zm1 0zm2 0zm1 0zm2 0zm1 0zm1 0zm2 0zm1 0zm1 0zm1 0zm1 0zm1 0zm2 0zm1 0zm2 0zm1 0zm2 0zm1 0zm1 0zm4 0zm2 0zm3 0zm3 0zm3 0zm-72 1zm3 0zm4 0zm3 0zm3 0zm2 0zm2 0zm1 0zm3 0zm1 0zm3 0zm3 0zm3 0zm1 0zm3 0zm1 0zm1 0zm1 0zm1 0zm3 0zm1 0zm1 0zm4 0zm2 0zm2 0zm1 0zm2 0zm1 0zm1 0zm3 0zm1 0zm1 0zm1 0zm2 0zm1 0zm1 0zm4 0zm-64 1zm1 0zm5 0zm1 0zm2 0zm1 0zm2 0zm4 0zm2 0zm1 0zm1 0zm5 0zm1 0zm1 0zm1 0zm1 0zm2 0zm1 0zm2 0zm5 0zm3 0zm1 0zm1 0zm1 0zm1 0zm1 0zm12 0zm1 0zm2 0zm-69 1zm2 0zm6 0zm2 0zm1 0zm5 0zm1 0zm2 0zm2 0zm1 0zm1 0zm2 0zm8 0zm1 0zm1 0zm1 0zm2 0zm1 0zm1 0zm1 0zm1 0zm1 0zm4 0zm2 0zm2 0zm1 0zm3 0zm2 0zm1 0zm1 0zm1 0zm1 0zm1 0zm4 0zm1 0zm2 0zm-65 1zm2 0zm2 0zm6 0zm1 0zm1 0zm2 0zm2 0zm1 0zm3 0zm4 0zm1 0zm1 0zm1 0zm1 0zm2 0zm1 0zm1 0zm1 0zm1 0zm1 0zm1 0zm4 0zm1 0zm2 0zm1 0zm1 0zm1 0zm9 0zm2 0zm-56 1zm7 0zm9 0zm2 0zm2 0zm1 0zm1 0zm2 0zm3 0zm2 0zm2 0zm3 0zm1 0zm3 0zm1 0zm2 0zm2 0zm1 0zm3 0zm4 0zm3 0zm1 0zm2 0zm3 0zm1 0zm3 0zm1 0zm-78 1zm16 0zm5 0zm1 0zm1 0zm2 0zm5 0zm1 0zm2 0zm3 0zm1 0zm3 0zm1 0zm2 0zm4 0zm1 0zm1 0zm1 0zm1 0zm2 0zm2 0zm1 0zm2 0zm1 0zm2 0zm1 0zm4 0zm1 0zm1 0zm5 0zm1 0zm1 0zm1 0zm2 0zm4 0zm3 0zm-72 1zm4 0zm1 0zm6 0zm5 0zm5 0zm1 0zm1 0zm1 0zm5 0zm1 0zm4 0zm1 0zm1 0zm1 0zm1 0zm2 0zm6 0zm1 0zm2 0zm1 0zm1 0zm2 0zm1 0zm1 0zm4 0zm1 0zm3 0zm2 0zm1 0zm-76 1zm11 0zm9 0zm4 0zm2 0zm1 0zm1 0zm2 0zm2 0zm1 0zm2 0zm2 0zm3 0zm1 0zm1 0zm1 0zm1 0zm1 0zm3 0zm2 0zm1 0zm1 0zm2 0zm2 0zm1 0zm1 0zm1 0zm1 0zm2 0zm2 0zm2 0zm7 0zm2 0zm2 0zm-65 1zm1 0zm4 0zm2 0zm4 0zm1 0zm1 0zm4 0zm4 0zm1 0zm1 0zm5 0zm2 0zm1 0zm3 0zm4 0zm1 0zm1 0zm2 0zm2 0zm1 0zm1 0zm1 0zm1 0zm1 0zm1 0zm1 0zm2 0zm9 0zm-69 1zm8 0zm4 0zm2 0zm3 0zm1 0zm3 0zm3 0zm1 0zm2 0zm2 0zm2 0zm1 0zm1 0zm1 0zm2 0zm1 0zm1 0zm2 0zm1 0zm1 0zm2 0zm1 0zm2 0zm3 0zm3 0zm3 0zm1 0zm1 0zm1 0zm2 0zm2 0zm10 0zm-62 1zm10 0zm1 0zm6 0zm1 0zm1 0zm1 0zm3 0zm1 0zm4 0zm1 0zm2 0zm1 0zm1 0zm3 0zm1 0zm5 0zm6 0zm2 0zm1 0zm3 0zm3 0zm1 0zm5 0zm-69 1zm3 0zm2 0zm2 0zm1 0zm1 0zm1 0zm2 0zm7 0zm6 0zm3 0zm1 0zm1 0zm1 0zm2 0zm2 0zm4 0zm1 0zm1 0zm3 0zm2 0zm3 0zm1 0zm1 0zm3 0zm1 0zm3 0zm2 0zm-61 1zm2 0zm8 0zm3 0zm2 0zm1 0zm1 0zm9 0zm1 0zm1 0zm2 0zm5 0zm3 0zm3 0zm2 0zm2 0zm3 0zm1 0zm1 0zm5 0zm2 0zm1 0zm2 0zm5 0zm4 0zm6 0zm-77 1zm4 0zm3 0zm2 0zm4 0zm2 0zm2 0zm7 0zm1 0zm3 0zm2 0zm1 0zm5 0zm1 0zm2 0zm2 0zm2 0zm1 0zm2 0zm4 0zm2 0zm2 0zm5 0zm2 0zm7 0zm-62 1zm1 0zm7 0zm1 0zm1 0zm3 0zm1 0zm5 0zm3 0zm3 0zm1 0zm2 0zm1 0zm2 0zm1 0zm3 0zm3 0zm3 0zm2 0zm1 0zm2 0zm12 0zm1 0zm4 0zm-68 1zm4 0zm6 0zm1 0zm1 0zm8 0zm2 0zm4 0zm1 0zm3 0zm2 0zm4 0zm6 0zm1 0zm4 0zm3 0zm1 0zm4 0zm5 0zm-61 1zm7 0zm2 0zm3 0zm1 0zm4 0zm1 0zm2 0zm2 0zm1 0zm1 0zm2 0zm1 0zm2 0zm1 0zm2 0zm4 0zm2 0zm1 0zm1 0zm1 0zm1 0zm1 0zm2 0zm1 0zm7 0zm4 0zm1 0zm1 0zm2 0zm1 0zm3 0zm7 0zm-61 1zm2 0zm1 0zm4 0zm4 0zm3 0zm3 0zm1 0zm1 0zm3 0zm1 0zm1 0zm4 0zm2 0zm1 0zm5 0zm1 0zm1 0zm2 0zm5 0zm2 0zm1 0zm3 0zm1 0zm1 0zm4 0zm-70 1zm7 0zm3 0zm3 0zm1 0zm4 0zm8 0zm2 0zm1 0zm2 0zm3 0zm1 0zm2 0zm1 0zm2 0zm1 0zm7 0zm1 0zm1 0zm17 0zm13 0zm-59 1zm1 0zm2 0zm1 0zm4 0zm3 0zm3 0zm3 0zm3 0zm2 0zm1 0zm1 0zm1 0zm1 0zm1 0zm1 0zm6 0zm1 0zm3 0zm1 0zm4 0zm1 0zm6 0zm-64 1zm2 0zm3 0zm5 0zm7 0zm2 0zm2 0zm1 0zm3 0zm5 0zm2 0zm3 0zm3 0zm10 0zm1 0zm2 0zm2 0zm7 0zm-62 1zm2 0zm4 0zm4 0zm2 0zm2 0zm6 0zm2 0zm7 0zm1 0zm1 0zm1 0zm2 0zm1 0zm3 0zm1 0zm4 0zm5 0zm2 0zm5 0zm6 0zm-47 1zm3 0zm3 0zm4 0zm3 0zm1 0zm3 0zm1 0zm1 0zm3 0zm2 0zm1 0zm4 0zm1 0zm3 0zm4 0zm1 0zm6 0zm1 0zm10 0zm-63 1zm1 0zm3 0zm3 0zm5 0zm3 0zm4 0zm6 0zm1 0zm3 0zm2 0zm2 0zm1 0zm4 0zm2 0zm4 0zm2 0zm3 0zm4 0zm1 0zm6 0zm2 0zm-65 1zm3 0zm2 0zm7 0zm1 0zm1 0zm4 0zm2 0zm5 0zm3 0zm1 0zm4 0zm3 0zm3 0zm1 0zm1 0zm1 0zm1 0zm2 0zm1 0zm6 0zm3 0zm5 0zm-52 1zm7 0zm1 0zm4 0zm1 0zm1 0zm1 0zm2 0zm2 0zm1 0zm2 0zm1 0zm8 0zm1 0zm4 0zm3 0zm3 0zm4 0zm6 0zm-51 1zm1 0zm1 0zm9 0zm6 0zm1 0zm2 0zm4 0zm2 0zm2 0zm1 0zm3 0zm2 0zm1 0zm1 0zm12 0zm-57 1zm6 0zm11 0zm10 0zm6 0zm6 0zm3 0zm8 0zm1 0zm-41 1zm3 0zm2 0zm1 0zm1 0zm1 0zm9 0zm3 0zm2 0zm1 0zm5 0zm5 0zm8 0zm3 0zm-59 1zm20 0zm5 0zm2 0zm5 0zm2 0zm8 0zm2 0zm1 0zm5 0zm2 0zm6 0zm9 0zm-53 1zm1 0zm2 0zm1 0zm6 0zm8 0zm3 0zm3 0zm3 0zm4 0zm6 0zm3 0zm5 0zm3 0zm-46 1zm2 0zm5 0zm1 0zm2 0zm3 0zm18 0zm2 0zm4 0zm6 0zm-42 1zm7 0zm12 0zm3 0zm4 0zm14 0zm8 0zm-36 1zm1 0zm3 0zm1 0zm1 0zm5 0zm1 0zm1 0zm2 0zm4 0zm4 0zm-44 1zm19 0zm8 0zm1 0zm6 0zm1 0zm2 0zm5 0zm-31 1zm7 0zm10 0zm5 0zm4 0zm1 0zm-26 1zm1 0zm2 0zm1 0zm6 0zm7 0zm7 0zm-20 1zm2 0zm3 0zm5 0zm7 0zm7 0zm2 0zm-10 1zm6 0zm6 0zm-29 1zm10 0zm4 0zm5 0zm2 0zm7 0zm-10 1zm13 0zm-30 1zm4 0zm7 0zm-7 1zm9 0zm3 1zm-9 1zm3 0zm-2 2zm4 1zm13 0z"/>
<path stroke="#FFFF00" d="M302 121zm4 2zm7 0zm-15 3zm3 0zm2 0zm2 0zm1 0zm2 0zm2 0zm-12 1zm3 0zm1 0zm3 0zm15 0zm-19 1zm1 0zm1 0zm4 0zm2 0zm8 0zm2 0zm-18 1zm2 0zm1 0zm1 0zm6 0zm1 0zm1 0zm12 0zm-32 1zm5 0zm7 0zm2 0zm1 0zm1 0zm2 0zm1 0zm2 0zm1 0zm9 0zm-31 1zm1 0zm1 0zm1 0zm9 0zm4 0zm1 0zm3 0zm2 0zm3 0zm1 0zm-27 1zm3 0zm1 0zm2 0zm2 0zm1 0zm2 0zm1 0zm2 0zm1 0zm1 0zm2 0zm4 0zm3 0zm5 0zm-32 1zm9 0zm1 0zm1 0zm2 0zm1 0zm2 0zm1 0zm2 0zm1 0zm3 0zm3 0zm-27 1zm5 0zm2 0zm2 0zm1 0zm1 0zm3 0zm1 0zm2 0zm3 0zm1 0zm1 0zm2 0zm2 0zm1 0zm5 0zm1 0zm1 0zm1 0zm6 0zm-43 1zm5 0zm1 0zm5 0zm4 0zm2 0zm1 0zm5 0zm1 0zm2 0zm2 0zm3 0zm3 0zm6 0zm-36 1zm4 0zm1 0zm3 0zm1 0zm2 0zm2 0zm4 0zm3 0zm1 0zm5 0zm7 0zm3 0zm-40 1zm9 0zm5 0zm3 0zm3 0zm1 0zm1 0zm3 0zm1 0zm2 0zm1 0zm1 0zm1 0zm2 0zm3 0zm1 0zm2 0zm1 0zm-40 1zm9 0zm1 0zm3 0zm5 0zm2 0zm4 0zm1 0zm1 0zm1 0zm1 0zm2 0zm3 0zm2 0zm-28 1zm1 0zm2 0zm2 0zm1 0zm1 0zm1 0zm1 0zm1 0zm1 0zm2 0zm2 0zm1 0zm1 0zm1 0zm3 0zm1 0zm1 0zm5 0zm-28 1zm1 0zm1 0zm4 0zm1 0zm1 0zm1 0zm1 0zm1 0zm4 0zm1 0zm2 0zm1 0zm1 0zm1 0zm1 0zm5 0zm1 0zm-35 1zm1 0zm6 0zm4 0zm2 0zm1 0zm3 0zm1 0zm1 0zm2 0zm1 0zm1 0zm1 0zm1 0zm1 0zm3 0zm2 0zm3 0zm-34 1zm3 0zm6 0zm1 0zm3 0zm2 0zm3 0zm1 0zm1 0zm1 0zm4 0zm1 0zm3 0zm1 0zm2 0zm1 0zm5 0zm-34 1zm1 0zm1 0zm1 0zm4 0zm3 0zm1 0zm2 0zm1 0zm2 0zm1 0zm1 0zm4 0zm1 0zm5 0zm2 0zm10 0zm3 0zm-44 1zm5 0zm6 0zm3 0zm1 0zm1 0zm1 0zm1 0zm1 0zm1 0zm1 0zm2 0zm2 0zm1 0zm1 0zm4 0zm2 0zm2 0zm1 0zm2 0zm-36 1zm1 0zm2 0zm2 0zm1 0zm1 0zm3 0zm1 0zm2 0zm1 0zm1 0zm1 0zm1 0zm3 0zm1 0zm2 0zm2 0zm2 0zm4 0zm1 0zm3 0zm9 0zm-38 1zm1 0zm3 0zm1 0zm3 0zm2 0zm1 0zm1 0zm1 0zm5 0zm1 0zm1 0zm2 0zm1 0zm4 0zm3 0zm3 0zm-36 1zm1 0zm1 0zm1 0zm1 0zm1 0zm1 0zm4 0zm1 0zm1 0zm1 0zm1 0zm1 0zm6 0zm3 0zm5 0zm1 0zm1 0zm1 0zm6 0zm1 0zm-42 1zm2 0zm3 0zm3 0zm1 0zm5 0zm1 0zm3 0zm3 0zm2 0zm2 0zm2 0zm14 0zm-39 1zm1 0zm1 0zm9 0zm1 0zm1 0zm2 0zm1 0zm1 0zm1 0zm1 0zm4 0zm3 0zm1 0zm5 0zm8 0zm2 0zm-36 1zm3 0zm2 0zm3 0zm2 0zm2 0zm1 0zm8 0zm3 0zm1 0zm1 0zm7 0zm-40 1zm3 0zm1 0zm3 0zm1 0zm5 0zm1 0zm1 0zm1 0zm2 0zm3 0zm1 0zm1 0zm4 0zm1 0zm2 0zm1 0zm1 0zm1 0zm1 0zm1 0zm5 0zm-39 1zm9 0zm5 0zm3 0zm4 0zm3 0zm2 0zm8 0zm1 0zm1 0zm-29 1zm2 0zm9 0zm3 0zm4 0zm2 0zm1 0zm4 0zm1 0zm-21 1zm4 0zm4 0zm2 0zm14 0zm1 0zm-28 1zm6 0zm3 0zm2 0zm2 0zm1 0zm2 0zm1 0zm2 0zm3 0zm2 0zm1 0zm3 0zm-26 1zm8 0zm2 0zm1 0zm2 0zm5 0zm1 0zm1 0zm2 0zm-15 1zm3 0zm8 0zm1 0zm1 0zm4 0zm1 0zm4 0zm-23 1zm1 0zm1 0zm4 0zm15 0zm1 0zm-34 1zm8 0zm10 0zm1 0zm4 0zm4 0zm8 0zm-26 1zm8 0zm6 0zm3 0zm2 0zm-23 1zm4 0zm5 0zm3 0zm1 0zm1 0zm1 0zm1 0zm4 0zm2 0zm3 0zm-21 1zm7 0zm4 0zm2 0zm1 0zm9 0zm1 0zm-30 1zm19 0zm7 0zm-13 1zm9 0zm-11 1zm5 0zm3 0zm3 0zm-9 1zm5 0zm2 1zm7 0zm-16 1zm3 2zm2 0zm-4 3zm2 3zm-5 5zm7 0zm2 5zm-10 1zm9 8zm-5 4zm-3 6zm2 5zm4 4zm-2 1zm-3 1zm1 1zm-4 1zm5 3zm-3 2zm4 1zm-11 6zm9 11zm-8 2zm4 2zm2 1z"/>
<path stroke="#9400D3" d="M325 150zm3 4zm3 1zm-3 1zm7 1zm1 0zm-1 1zm1 0zm4 0zm-7 1zm5 0zm-16 1zm14 0zm2 0zm2 0zm-13 1zm7 0zm1 0zm6 0zm-26 1zm7 0zm4 0zm7 0zm1 0zm4 0zm1 0zm4 0zm-21 1zm5 0zm4 0zm1 0zm1 0zm1 0zm4 0zm3 0zm-12 1zm1 0zm3 0zm3 0zm-9 1zm1 0zm3 0zm5 0zm1 0zm-16 1zm8 0zm5 0zm4 0zm1 0zm-13 1zm1 0zm2 0zm4 0zm2 0zm1 0zm1 0zm2 0zm3 0zm-18 1zm2 0zm3 0zm1 0zm4 0zm4 0zm1 0zm1 0zm7 0zm-24 1zm1 0zm3 0zm3 0zm1 0zm1 0zm1 0zm6 0zm1 0zm3 0zm-26 1zm5 0zm5 0zm5 0zm1 0zm2 0zm1 0zm1 0zm1 0zm7 0zm-26 1zm3 0zm5 0zm2 0zm1 0zm4 0zm2 0zm2 0zm1 0zm4 0zm-22 1zm3 0zm1 0zm7 0zm1 0zm2 0zm1 0zm4 0zm4 0zm-16 1zm2 0zm1 0zm2 0zm1 0zm1 0zm1 0zm1 0zm1 0zm1 0zm1 0zm2 0zm3 0zm-24 1zm5 0zm1 0zm4 0zm1 0zm3 0zm1 0zm3 0zm2 0zm3 0zm-28 1zm4 0zm1 0zm4 0zm4 0zm1 0zm4 0zm1 0zm1 0zm3 0zm2 0zm3 0zm2 0zm1 0zm-32 1zm1 0zm6 0zm2 0zm1 0zm2 0zm1 0zm2 0zm1 0zm1 0zm1 0zm3 0zm1 0zm1 0zm1 0zm1 0zm1 0zm-20 1zm5 0zm2 0zm1 0zm1 0zm1 0zm3 0zm1 0zm1 0zm1 0zm2 0zm3 0zm1 0zm1 0zm-16 1zm1 0zm2 0zm1 0zm1 0zm1 0zm2 0zm3 0zm1 0zm2 0zm7 0zm-22 1zm2 0zm3 0zm1 0zm1 0zm2 0zm3 0zm1 0zm2 0zm5 0zm-19 1zm4 0zm1 0zm1 0zm7 0zm1 0zm1 0zm-25 1zm1 0zm8 0zm2 0zm1 0zm1 0zm5 0zm4 0zm11 0zm-23 1zm2 0zm1 0zm1 0zm4 0zm2 0zm1 0zm1 0zm-18 1zm8 0zm2 0zm2 0zm4 0zm2 0zm1 0zm1 0zm4 0zm2 0zm-24 1zm2 0zm1 0zm1 0zm1 0zm2 0zm1 0zm1 0zm1 0zm1 0zm1 0zm1 0zm1 0zm1 0zm1 0zm1 0zm5 0zm2 0zm-27 1zm7 0zm2 0zm1 0zm5 0zm1 0zm2 0zm1 0zm2 0zm1 0zm2 0zm2 0zm-22 1zm2 0zm5 0zm1 0zm1 0zm1 0zm3 0zm1 0zm1 0zm4 0zm1 0zm1 0zm1 0zm1 0zm-24 1zm3 0zm2 0zm1 0zm7 0zm1 0zm1 0zm1 0zm3 0zm2 0zm2 0zm1 0zm2 0zm-23 1zm1 0zm2 0zm2 0zm1 0zm3 0zm1 0zm1 0zm2 0zm2 0zm2 0zm2 0zm3 0zm-25 1zm1 0zm9 0zm3 0zm2 0zm1 0zm2 0zm5 0zm-18 1zm3 0zm1 0zm1 0zm1 0zm1 0zm1 0zm1 0zm1 0zm1 0zm1 0zm1 0zm3 0zm2 0zm-30 1zm12 0zm1 0zm2 0zm1 0zm2 0zm1 0zm3 0zm2 0zm1 0zm1 0zm2 0zm4 0zm-24 1zm1 0zm1 0zm2 0zm4 0zm1 0zm1 0zm1 0zm3 0zm1 0zm2 0zm4 0zm1 0zm3 0zm-28 1zm3 0zm7 0zm1 0zm7 0zm2 0zm2 0zm-14 1zm1 0zm2 0zm5 0zm1 0zm3 0zm2 0zm3 0zm1 0zm3 0zm-28 1zm2 0zm2 0zm1 0zm3 0zm4 0zm2 0zm6 0zm4 0zm1 0zm-16 1zm2 0zm1 0zm2 0zm5 0zm4 0zm-22 1zm4 0zm3 0zm2 0zm1 0zm2 0zm2 0zm1 0zm1 0zm3 0zm1 0zm-24 1zm15 0zm1 0zm1 0zm3 0zm3 0zm-8 1zm4 0zm-2 1zm2 0zm1 0zm3 0zm2 0zm-8 1zm2 0zm3 0zm6 0zm-21 1zm3 0zm7 0zm3 0zm4 1zm-10 2zm1 1zm11 0zm-11 1zm3 0zm3 0zm-7 1z"/>
<path stroke="#008080" d="M243 153zm17 2zm-33 3zm-7 2zm18 7zm-5 1zm9 8zm10 2zm21 0zm-43 1zm18 0zm8 0zm31 1zm-13 1zm-33 1zm10 0zm19 0zm-23 1zm1 0zm6 0zm11 1zm-37 1zm12 0zm7 0zm-36 1zm12 0zm3 1zm6 2zm5 0zm10 0zm21 1zm-12 2zm-3 1zm14 0zm6 0zm13 0zm-41 1zm-7 1zm15 0zm-25 3zm13 0zm9 1zm-24 2zm41 0zm-11 1zm8 0zm27 0zm-53 2zm15 0zm10 0zm21 1zm-67 1zm31 1zm18 0zm-32 1zm-9 1zm31 3zm-20 1zm49 0zm-55 1zm25 1zm-10 2zm-8 4zm9 0zm28 1zm-39 3zm22 3zm17 11z"/>
<path stroke="#DC143C" d="M274 229zm-8 1zm10 0zm-5 1zm16 0zm-20 1zm10 0zm1 0zm-5 1zm12 0zm1 0zm2 0zm-14 1zm11 0zm7 0zm-24 1zm4 0zm7 0zm1 0zm5 0zm-7 1zm2 0zm8 0zm2 0zm-18 1zm11 0zm1 0zm2 0zm3 0zm-21 1zm13 0zm17 0zm-28 1zm6 0zm1 0zm9 0zm10 0zm8 0zm-31 1zm8 0zm3 0zm5 0zm2 0zm12 0zm-35 1zm3 0zm2 0zm2 0zm5 0zm4 0zm1 0zm6 0zm1 0zm1 0zm-25 1zm11 0zm6 0zm3 0zm5 0zm2 0zm1 0zm1 0zm2 0zm-40 1zm9 0zm2 0zm6 0zm7 0zm9 0zm4 0zm1 0zm-34 1zm14 0zm4 0zm3 0zm2 0zm1 0zm1 0zm2 0zm3 0zm2 0zm1 0zm6 0zm-39 1zm11 0zm1 0zm3 0zm7 0zm7 0zm1 0zm2 0zm-31 1zm3 0zm1 0zm3 0zm2 0zm5 0zm1 0zm9 0zm1 0zm1 0zm2 0zm9 0zm-31 1zm1 0zm1 0zm1 0zm20 0zm2 0zm-37 1zm4 0zm2 0zm2 0zm3 0zm8 0zm1 0zm1 0zm1 0zm7 0zm3 0zm1 0zm1 0zm2 0zm13 0zm-43 1zm2 0zm1 0zm6 0zm2 0zm1 0zm2 0zm4 0zm3 0zm1 0zm8 0zm1 0zm-37 1zm1 0zm13 0zm7 0zm4 0zm5 0zm-34 1zm6 0zm5 0zm6 0zm3 0zm1 0zm1 0zm1 0zm1 0zm2 0zm5 0zm1 0zm4 0zm1 0zm11 0zm-46 1zm5 0zm4 0zm1 0zm1 0zm1 0zm2 0zm3 0zm1 0zm6 0zm1 0zm1 0zm1 0zm2 0zm1 0zm1 0zm5 0zm1 0zm4 0zm1 0zm1 0zm5 0zm-43 1zm1 0zm3 0zm4 0zm1 0zm2 0zm4 0zm3 0zm1 0zm3 0zm1 0zm2 0zm2 0zm2 0zm1 0zm1 0zm7 0zm5 0zm-43 1zm2 0zm6 0zm3 0zm1 0zm3 0zm1 0zm1 0zm1 0zm1 0zm1 0zm1 0zm1 0zm1 0zm3 0zm1 0zm4 0zm2 0zm7 0zm-44 1zm1 0zm5 0zm3 0zm6 0zm2 0zm1 0zm1 0zm2 0zm2 0zm1 0zm2 0zm1 0zm3 0zm1 0zm4 0zm1 0zm11 0zm2 0zm-52 1zm2 0zm5 0zm2 0zm1 0zm1 0zm8 0zm2 0zm4 0zm2 0zm1 0zm6 0zm2 0zm2 0zm5 0zm2 0zm3 0zm2 0zm-43 1zm3 0zm7 0zm2 0zm3 0zm3 0zm5 0zm2 0zm1 0zm1 0zm2 0zm1 0zm10 0zm2 0zm1 0zm-50 1zm5 0zm2 0zm4 0zm2 0zm2 0zm14 0zm1 0zm3 0zm1 0zm2 0zm1 0zm3 0zm-36 1zm3 0zm2 0zm2 0zm11 0zm2 0zm2 0zm2 0zm3 0zm1 0zm2 0zm7 0zm4 0zm2 0zm1 0zm7 0zm-50 1zm1 0zm2 0zm1 0zm5 0zm7 0zm1 0zm2 0zm1 0zm2 0zm1 0zm4 0zm1 0zm12 0zm1 0zm1 0zm9 0zm-56 1zm6 0zm2 0zm1 0zm1 0zm1 0zm1 0zm7 0zm1 0zm1 0zm1 0zm3 0zm1 0zm1 0zm4 0zm4 0zm4 0zm4 0zm4 0zm-44 1zm5 0zm9 0zm1 0zm1 0zm1 0zm3 0zm2 0zm2 0zm5 0zm2 0zm3 0zm1 0zm5 0zm9 0zm1 0zm-51 1zm10 0zm2 0zm1 0zm5 0zm1 0zm1 0zm2 0zm5 0zm1 0zm6 0zm8 0zm1 0zm5 0zm2 0zm7 0zm-54 1zm2 0zm2 0zm1 0zm3 0zm1 0zm2 0zm1 0zm2 0zm1 0zm1 0zm1 0zm1 0zm2 0zm1 0zm1 0zm2 0zm1 0zm2 0zm5 0zm1 0zm6 0zm-44 1zm3 0zm3 0zm1 0zm1 0zm2 0zm1 0zm4 0zm1 0zm1 0zm1 0zm3 0zm1 0zm1 0zm1 0zm1 0zm4 0zm1 0zm1 0zm2 0zm1 0zm2 0zm2 0zm3 0zm7 0zm-47 1zm2 0zm2 0zm3 0zm2 0zm3 0zm1 0zm1 0zm1 0zm2 0zm2 0zm1 0zm1 0zm1 0zm2 0zm1 0zm1 0zm2 0zm1 0zm1 0zm2 0zm1 0zm1 0zm1 0zm1 0zm1 0zm4 0zm2 0zm3 0zm6 0zm-53 1zm2 0zm3 0zm1 0zm1 0zm4 0zm6 0zm3 0zm2 0zm1 0zm1 0zm2 0zm1 0zm2 0zm1 0zm1 0zm2 0zm1 0zm1 0zm3 0zm2 0zm1 0zm3 0zm7 0zm-51 1zm2 0zm2 0zm1 0zm2 0zm1 0zm5 0zm5 0zm1 0zm1 0zm1 0zm6 0zm1 0zm1 0zm3 0zm1 0zm1 0zm1 0zm1 0zm1 0zm2 0zm3 0zm-40 1zm1 0zm4 0zm3 0zm1 0zm2 0zm1 0zm1 0zm1 0zm3 0zm1 0zm1 0zm3 0zm1 0zm2 0zm1 0zm4 0zm1 0zm1 0zm1 0zm2 0zm2 0zm6 0zm2 0zm3 0zm-53 1zm4 0zm5 0zm1 0zm2 0zm2 0zm7 0zm1 0zm2 0zm4 0zm1 0zm1 0zm2 0zm1 0zm1 0zm1 0zm3 0zm3 0zm2 0zm1 0zm1 0zm3 0zm2 0zm6 0zm-54 1zm7 0zm2 0zm3 0zm3 0zm1 0zm1 0zm1 0zm2 0zm2 0zm2 0zm3 0zm8 0zm1 0zm1 0zm2 0zm5 0zm1 0zm4 0zm-44 1zm1 0zm2 0zm1 0zm5 0zm2 0zm1 0zm1 0zm1 0zm1 0zm1 0zm2 0zm2 0zm1 0zm1 0zm1 0zm4 0zm2 0zm1 0zm5 0zm1 0zm1 0zm1 0zm1 0zm3 0zm5 0zm-43 1zm2 0zm1 0zm2 0zm1 0zm1 0zm3 0zm1 0zm2 0zm1 0zm2 0zm2 0zm1 0zm2 0zm1 0zm2 0zm1 0zm2 0zm2 0zm1 0zm1 0zm2 0zm2 0zm2 0zm5 0zm10 0zm-60 1zm4 0zm3 0zm2 0zm3 0zm1 0zm1 0zm1 0zm1 0zm2 0zm1 0zm1 0zm1 0zm1 0zm1 0zm3 0zm1 0zm1 0zm2 0zm1 0zm1 0zm9 0zm7 0zm1 0zm-51 1zm5 0zm1 0zm2 0zm4 0zm4 0zm3 0zm1 0zm1 0zm1 0zm3 0zm1 0zm2 0zm3 0zm2 0zm1 0zm1 0zm2 0zm1 0zm2 0zm2 0zm3 0zm3 0zm2 0zm2 0zm5 0zm-55 1zm1 0zm3 0zm2 0zm4 0zm5 0zm1 0zm1 0zm1 0zm1 0zm1 0zm1 0zm1 0zm1 0zm1 0zm2 0zm1 0zm1 0zm2 0zm1 0zm2 0zm1 0zm1 0zm1 0zm1 0zm4 0zm4 0zm8 0zm-50 1zm2 0zm4 0zm4 0zm4 0zm4 0zm2 0zm1 0zm1 0zm1 0zm2 0zm1 0zm1 0zm5 0zm1 0zm2 0zm1 0zm2 0zm6 0zm4 0zm-54 1zm1 0zm5 0zm1 0zm4 0zm2 0zm1 0zm1 0zm4 0zm1 0zm5 0zm1 0zm1 0zm1 0zm4 0zm1 0zm2 0zm4 0zm1 0zm1 0zm1 0zm-43 1zm6 0zm2 0zm4 0zm3 0zm1 0zm1 0zm1 0zm1 0zm1 0zm2 0zm1 0zm2 0zm2 0zm2 0zm3 0zm1 0zm1 0zm1 0zm2 0zm1 0zm1 0zm2 0zm1 0zm11 0zm1 0zm-47 1zm2 0zm2 0zm1 0zm1 0zm2 0zm1 0zm3 0zm3 0zm1 0zm1 0zm1 0zm1 0zm1 0zm1 0zm1 0zm1 0zm2 0zm1 0zm2 0zm1 0zm3 0zm1 0zm1 0zm1 0zm1 0zm2 0zm1 0zm1 0zm4 0zm2 0zm3 0zm-50 1zm3 0zm4 0zm1 0zm4 0zm3 0zm1 0zm2 0zm1 0zm6 0zm1 0zm2 0zm1 0zm1 0zm1 0zm1 0zm7 0zm1 0zm7 0zm-47 1zm2 0zm1 0zm1 0zm6 0zm1 0zm3 0zm1 0zm1 0zm1 0zm1 0zm2 0zm1 0zm1 0zm2 0zm1 0zm1 0zm1 0zm1 0zm1 0zm1 0zm2 0zm1 0zm1 0zm7 0zm2 0zm1 0zm1 0zm-47 1zm1 0zm3 0zm4 0zm2 0zm1 0zm2 0zm2 0zm2 0zm1 0zm3 0zm3 0zm1 0zm2 0zm1 0zm1 0zm2 0zm4 0zm2 0zm4 0zm2 0zm1 0zm6 0zm-53 1zm3 0zm3 0zm3 0zm2 0zm1 0zm3 0zm1 0zm1 0zm2 0zm1 0zm3 0zm1 0zm5 0zm1 0zm1 0zm1 0zm2 0zm1 0zm1 0zm1 0zm1 0zm2 0zm1 0zm2 0zm2 0zm1 0zm4 0zm3 0zm6 0zm-59 1zm4 0zm1 0zm3 0zm6 0zm1 0zm1 0zm4 0zm1 0zm1 0zm1 0zm3 0zm1 0zm4 0zm1 0zm1 0zm2 0zm1 0zm1 0zm5 0zm7 0zm3 0zm-53 1zm2 0zm6 0zm2 0zm1 0zm4 0zm1 0zm1 0zm2 0zm2 0zm1 0zm2 0zm1 0zm1 0zm2 0zm1 0zm1 0zm1 0zm1 0zm1 0zm1 0zm2 0zm1 0zm1 0zm3 0zm2 0zm12 0zm3 0zm-52 1zm5 0zm3 0zm1 0zm1 0zm4 0zm4 0zm1 0zm1 0zm2 0zm3 0zm1 0zm1 0zm7 0zm3 0zm2 0zm1 0zm6 0zm7 0zm-56 1zm2 0zm4 0zm3 0zm1 0zm1 0zm5 0zm5 0zm3 0zm1 0zm1 0zm1 0zm6 0zm1 0zm1 0zm1 0zm1 0zm7 0zm1 0zm1 0zm1 0zm2 0zm-47 1zm2 0zm2 0zm1 0zm3 0zm1 0zm8 0zm1 0zm1 0zm2 0zm1 0zm1 0zm1 0zm2 0zm4 0zm3 0zm2 0zm9 0zm2 0zm3 0zm-48 1zm3 0zm2 0zm2 0zm1 0zm1 0zm2 0zm2 0zm3 0zm2 0zm2 0zm3 0zm3 0zm1 0zm4 0zm1 0zm2 0zm2 0zm4 0zm6 0zm1 0zm3 0zm-56 1zm4 0zm2 0zm2 0zm2 0zm2 0zm2 0zm1 0zm1 0zm2 0zm5 0zm2 0zm1 0zm1 0zm1 0zm2 0zm2 0zm1 0zm2 0zm2 0zm1 0zm1 0zm2 0zm4 0zm1 0zm6 0zm3 0zm1 0zm-53 1zm2 0zm2 0zm3 0zm3 0zm2 0zm4 0zm3 0zm2 0zm2 0zm6 0zm1 0zm1 0zm1 0zm2 0zm1 0zm12 0zm-49 1zm4 0zm3 0zm4 0zm9 0zm1 0zm1 0zm3 0zm1 0zm1 0zm1 0zm1 0zm2 0zm3 0zm1 0zm1 0zm2 0zm1 0zm1 0zm1 0zm4 0zm2 0zm-45 1zm3 0zm2 0zm2 0zm1 0zm3 0zm1 0zm1 0zm1 0zm2 0zm1 0zm1 0zm1 0zm3 0zm2 0zm1 0zm2 0zm4 0zm4 0zm3 0zm2 0zm4 0zm2 0zm-46 1zm1 0zm6 0zm1 0zm6 0zm1 0zm1 0zm3 0zm1 0zm2 0zm1 0zm1 0zm3 0zm6 0zm2 0zm1 0zm5 0zm1 0zm3 0zm4 0zm6 0zm-48 1zm2 0zm2 0zm1 0zm1 0zm1 0zm2 0zm1 0zm1 0zm4 0zm3 0zm2 0zm1 0zm2 0zm1 0zm1 0zm2 0zm1 0zm9 0zm-44 1zm1 0zm1 0zm7 0zm1 0zm1 0zm1 0zm1 0zm3 0zm2 0zm6 0zm1 0zm1 0zm1 0zm2 0zm1 0zm2 0zm1 0zm3 0zm1 0zm1 0zm1 0zm5 0zm-42 1zm7 0zm3 0zm1 0zm1 0zm3 0zm2 0zm2 0zm1 0zm2 0zm1 0zm2 0zm3 0zm1 0zm1 0zm1 0zm4 0zm2 0zm4 0zm1 0zm1 0zm-45 1zm4 0zm2 0zm4 0zm3 0zm1 0zm2 0zm1 0zm1 0zm1 0zm3 0zm1 0zm1 0zm2 0zm2 0zm1 0zm1 0zm1 0zm8 0zm2 0zm6 0zm-42 1zm2 0zm1 0zm3 0zm2 0zm2 0zm1 0zm5 0zm2 0zm1 0zm1 0zm3 0zm2 0zm1 0zm2 0zm2 0zm2 0zm1 0zm3 0zm1 0zm-41 1zm3 0zm1 0zm1 0zm3 0zm4 0zm4 0zm1 0zm2 0zm1 0zm2 0zm1 0zm1 0zm1 0zm2 0zm2 0zm1 0zm4 0zm3 0zm8 0zm8 0zm-53 1zm2 0zm3 0zm2 0zm7 0zm3 0zm1 0zm2 0zm1 0zm2 0zm2 0zm1 0zm7 0zm1 0zm5 0zm12 0zm-47 1zm2 0zm2 0zm6 0zm2 0zm1 0zm2 0zm1 0zm1 0zm2 0zm1 0zm1 0zm1 0zm1 0zm1 0zm1 0zm2 0zm1 0zm1 0zm3 0zm1 0zm1 0zm2 0zm9 0zm-47 1zm10 0zm4 0zm1 0zm2 0zm2 0zm1 0zm1 0zm1 0zm1 0zm2 0zm2 0zm1 0zm1 0zm1 0zm4 0zm1 0zm1 0zm1 0zm7 0zm5 0zm-49 1zm1 0zm5 0zm1 0zm1 0zm1 0zm1 0zm1 0zm2 0zm2 0zm2 0zm1 0zm1 0zm1 0zm2 0zm5 0zm1 0zm1 0zm1 0zm1 0zm3 0zm4 0zm1 0zm5 0zm-45 1zm3 0zm3 0zm1 0zm3 0zm1 0zm1 0zm3 0zm3 0zm2 0zm3 0zm5 0zm1 0zm2 0zm1 0zm2 0zm3 0zm4 0zm-37 1zm4 0zm1 0zm5 0zm1 0zm2 0zm1 0zm2 0zm2 0zm2 0zm1 0zm3 0zm1 0zm3 0zm1 0zm2 0zm5 0zm7 0zm1 0zm-46 1zm2 0zm4 0zm1 0zm5 0zm3 0zm3 0zm2 0zm1 0zm1 0zm1 0zm3 0zm1 0zm4 0zm5 0zm4 0zm2 0zm1 0zm-50 1zm5 0zm9 0zm1 0zm2 0zm2 0zm1 0zm1 0zm2 0zm2 0zm1 0zm1 0zm3 0zm4 0zm1 0zm1 0zm2 0zm2 0zm1 0zm3 0zm-41 1zm1 0zm4 0zm3 0zm4 0zm1 0zm3 0zm1 0zm2 0zm1 0zm4 0zm1 0zm1 0zm2 0zm1 0zm1 0zm4 0zm3 0zm1 0zm2 0zm12 0zm-42 1zm6 0zm3 0zm2 0zm2 0zm2 0zm1 0zm3 0zm5 0zm2 0zm12 0zm-50 1zm4 0zm9 0zm1 0zm2 0zm3 0zm1 0zm1 0zm1 0zm4 0zm2 0zm1 0zm1 0zm1 0zm1 0zm2 0zm1 0zm1 0zm1 0zm5 0zm2 0zm8 0zm-47 1zm3 0zm1 0zm7 0zm1 0zm2 0zm3 0zm1 0zm1 0zm3 0zm1 0zm1 0zm1 0zm3 0zm1 0zm1 0zm1 0zm2 0zm-31 1zm4 0zm1 0zm1 0zm3 0zm3 0zm5 0zm3 0zm1 0zm1 0zm1 0zm1 0zm1 0zm2 0zm1 0zm6 0zm-41 1zm5 0zm4 0zm4 0zm2 0zm2 0zm1 0zm2 0zm2 0zm1 0zm14 0zm8 0zm-28 1zm1 0zm3 0zm2 0zm1 0zm1 0zm1 0zm1 0zm1 0zm3 0zm1 0zm2 0zm2 0zm4 0zm1 0zm-38 1zm6 0zm4 0zm4 0zm2 0zm8 0zm1 0zm3 0zm4 0zm3 0zm5 0zm1 0zm5 0zm-39 1zm3 0zm1 0zm5 0zm2 0zm2 0zm2 0zm1 0zm3 0zm3 0zm2 0zm1 0zm1 0zm3 0zm3 0zm-37 1zm17 0zm1 0zm2 0zm1 0zm3 0zm2 0zm1 0zm2 0zm3 0zm2 0zm-39 1zm6 0zm1 0zm9 0zm5 0zm2 0zm2 0zm4 0zm2 0zm4 0zm4 0zm1 0zm4 0zm4 0zm-35 1zm1 0zm6 0zm2 0zm3 0zm1 0zm3 0zm1 0zm5 0zm8 0zm-34 1zm4 0zm1 0zm6 0zm1 0zm3 0zm1 0zm1 0zm2 0zm-19 1zm9 0zm4 0zm1 0zm1 0zm2 0zm2 0zm5 0zm5 0zm-34 1zm11 0zm5 0zm2 0zm3 0zm1 0zm10 0zm-18 1zm5 0zm3 0zm1 0zm5 0zm3 0zm2 0zm-27 1zm2 0zm5 0zm3 0zm1 0zm2 0zm2 0zm3 0zm15 0zm-37 1zm11 0zm2 0zm1 0zm3 0zm1 0zm1 0zm15 0zm-23 1zm7 0zm4 0zm6 0zm-18 1zm8 0zm2 0zm1 0zm2 0zm3 0zm-17 1zm2 0zm6 0zm11 0zm-8 1zm12 0zm-28 1zm16 0zm6 0zm-8 1zm-2 1zm16 1zm-15 1zm-5 2zm23 1zm-23 5zm12 2zm-4 1z"/>
<path stroke="#808000" d="M154 60zm-6 1zm-14 1zm10 0zm1 1zm1 0zm6 0zm1 0zm-9 1zm1 0zm1 0zm5 0zm1 0zm-7 1zm-8 1zm7 0zm2 0zm4 0zm-22 1zm10 0zm7 0zm3 0zm2 0zm2 0zm-28 1zm3 0zm1 0zm7 0zm3 0zm-16 1zm1 0zm2 0zm3 0zm1 0zm6 0zm1 0zm4 0zm6 0zm7 0zm-35 1zm1 0zm9 0zm2 0zm1 0zm3 0zm1 0zm7 0zm5 0zm-29 1zm3 0zm2 0zm2 0zm3 0zm1 0zm4 0zm10 0zm-24 1zm1 0zm6 0zm1 0zm4 0zm1 0zm4 0zm1 0zm6 0zm-20 1zm3 0zm5 0zm2 0zm1 0zm7 0zm-30 1zm7 0zm3 0zm7 0zm1 0zm2 0zm1 0zm3 0zm1 0zm1 0zm-24 1zm6 0zm2 0zm1 0zm1 0zm2 0zm8 0zm2 0zm2 0zm1 0zm1 0zm2 0zm1 0zm1 0zm1 0zm-31 1zm5 0zm1 0zm1 0zm2 0zm1 0zm2 0zm2 0zm1 0zm1 0zm2 0zm1 0zm1 0zm2 0zm3 0zm1 0zm-24 1zm2 0zm1 0zm2 0zm2 0zm4 0zm1 0zm1 0zm1 0zm3 0zm2 0zm1 0zm1 0zm4 0zm2 0zm3 0zm-36 1zm1 0zm2 0zm1 0zm1 0zm1 0zm3 0zm2 0zm1 0zm1 0zm1 0zm1 0zm1 0zm1 0zm2 0zm2 0zm1 0zm1 0zm3 0zm1 0zm1 0zm1 0zm1 0zm2 0zm4 0zm-35 1zm1 0zm1 0zm5 0zm2 0zm1 0zm2 0zm2 0zm1 0zm1 0zm1 0zm1 0zm1 0zm1 0zm1 0zm1 0zm1 0zm6 0zm2 0zm1 0zm-36 1zm1 0zm1 0zm1 0zm4 0zm1 0zm2 0zm1 0zm1 0zm2 0zm1 0zm3 0zm3 0zm1 0zm2 0zm1 0zm3 0zm2 0zm1 0zm5 0zm-40 1zm7 0zm1 0zm1 0zm1 0zm1 0zm2 0zm2 0zm2 0zm1 0zm1 0zm1 0zm1 0zm1 0zm2 0zm2 0zm2 0zm5 0zm1 0zm2 0zm-35 1zm5 0zm2 0zm3 0zm2 0zm2 0zm1 0zm2 0zm1 0zm1 0zm1 0zm2 0zm1 0zm1 0zm2 0zm1 0zm2 0zm2 0zm1 0zm5 0zm-32 1zm1 0zm2 0zm2 0zm1 0zm2 0zm1 0zm3 0zm1 0zm3 0zm2 0zm2 0zm1 0zm1 0zm1 0zm1 0zm2 0zm-31 1zm5 0zm1 0zm1 0zm3 0zm2 0zm1 0zm3 0zm1 0zm1 0zm1 0zm1 0zm1 0zm1 0zm1 0zm1 0zm1 0zm1 0zm1 0zm2 0zm1 0zm1 0zm2 0zm8 0zm-42 1zm5 0zm1 0zm1 0zm2 0zm1 0zm1 0zm1 0zm2 0zm1 0zm3 0zm1 0zm1 0zm3 0zm2 0zm2 0zm1 0zm1 0zm1 0zm2 0zm1 0zm2 0zm4 0zm-33 1zm3 0zm2 0zm1 0zm1 0zm1 0zm1 0zm5 0zm1 0zm2 0zm1 0zm1 0zm1 0zm1 0zm2 0zm3 0zm3 0zm4 0zm-39 1zm3 0zm2 0zm1 0zm1 0zm3 0zm1 0zm1 0zm1 0zm1 0zm1 0zm2 0zm1 0zm1 0zm1 0zm1 0zm1 0zm1 0zm2 0zm2 0zm1 0zm1 0zm1 0zm2 0zm3 0zm1 0zm2 0zm-40 1zm2 0zm1 0zm1 0zm2 0zm3 0zm1 0zm1 0zm1 0zm2 0zm1 0zm1 0zm2 0zm1 0zm2 0zm1 0zm1 0zm1 0zm1 0zm5 0zm4 0zm1 0zm2 0zm-32 1zm1 0zm1 0zm1 0zm4 0zm1 0zm1 0zm1 0zm2 0zm1 0zm1 0zm3 0zm1 0zm1 0zm5 0zm1 0zm1 0zm4 0zm-34 1zm1 0zm5 0zm1 0zm2 0zm2 0zm1 0zm1 0zm1 0zm1 0zm2 0zm1 0zm1 0zm1 0zm1 0zm2 0zm1 0zm4 0zm1 0zm1 0zm1 0zm-31 1zm2 0zm1 0zm2 0zm1 0zm1 0zm2 0zm1 0zm1 0zm2 0zm1 0zm1 0zm3 0zm1 0zm4 0zm1 0zm1 0zm3 0zm-27 1zm2 0zm4 0zm1 0zm2 0zm2 0zm1 0zm1 0zm2 0zm1 0zm1 0zm4 0zm1 0zm1 0zm2 0zm4 0zm-27 1zm4 0zm2 0zm1 0zm1 0zm1 0zm2 0zm2 0zm1 0zm2 0zm2 0zm2 0zm-24 1zm10 0zm2 0zm1 0zm1 0zm3 0zm1 0zm1 0zm2 0zm1 0zm1 0zm1 0zm-20 1zm8 0zm1 0zm2 0zm2 0zm1 0zm2 0zm1 0zm5 0zm-28 1zm10 0zm1 0zm1 0zm1 0zm8 0zm-22 1zm7 0zm5 0zm1 0zm4 0zm4 0zm-10 1zm6 0zm-10 1zm6 0zm-13 1zm3 0zm11 0zm-18 1zm8 0zm-7 2zm1 0zm1 0zm4 0zm-10 1zm8 0zm-10 1zm5 0zm-6 2zm0 2zm3 0zm-8 1zm6 0zm-9 3zm2 1zm1 2zm2 0zm-7 2z"/>
<path stroke="#40E0D0" d="M72 73zm12 0zm-12 2zm3 0zm7 0zm-11 1zm16 0zm-14 1zm2 0zm-2 1zm10 0zm12 0zm-10 1zm1 0zm-17 1zm5 0zm6 0zm7 0zm1 0zm-18 1zm3 0zm2 0zm6 0zm3 0zm3 0zm-18 1zm2 0zm12 0zm3 0zm8 0zm-25 1zm3 0zm1 0zm1 0zm2 0zm3 0zm3 0zm8 0zm8 0zm-32 1zm4 0zm4 0zm7 0zm3 0zm1 0zm4 0zm-25 1zm1 0zm4 0zm8 0zm5 0zm4 0zm2 0zm-17 1zm11 0zm3 0zm-20 1zm1 0zm2 0zm1 0zm4 0zm12 0zm-24 1zm4 0zm2 0zm15 0zm1 0zm2 0zm2 0zm-26 1zm2 0zm20 0zm3 0zm3 0zm4 0zm-30 1zm12 0zm11 0zm-20 1zm17 0zm5 0zm-26 1zm2 0zm6 0zm7 0zm4 0zm6 0zm-22 1zm23 0zm3 0zm-29 1zm18 0zm1 0zm4 0zm3 1zm3 0zm-29 1zm25 0zm-5 1zm5 0zm7 0zm-13 1zm3 1zm-4 1zm4 0zm-1 1zm1 1zm-3 2z"/>
<path stroke="#7CFC00" d="M59 120zm-1 2zm2 0zm1 1zm6 0zm-7 1zm5 0zm3 0zm5 0zm1 0zm-16 1zm2 0zm6 0zm1 0zm5 0zm-15 1zm6 0zm5 0zm-14 1zm5 0zm2 0zm1 0zm2 0zm5 0zm1 0zm2 0zm-20 1zm3 0zm4 0zm1 0zm6 0zm2 0zm1 0zm2 0zm3 0zm-12 1zm1 0zm2 0zm1 0zm1 0zm1 0zm1 0zm-19 1zm2 0zm5 0zm4 0zm1 0zm1 0zm1 0zm1 0zm5 0zm2 0zm1 0zm-17 1zm6 0zm2 0zm1 0zm1 0zm1 0zm4 0zm1 0zm2 0zm-20 1zm2 0zm4 0zm2 0zm4 0zm2 0zm5 0zm-22 1zm1 0zm3 0zm1 0zm2 0zm1 0zm1 0zm1 0zm2 0zm1 0zm1 0zm1 0zm2 0zm3 0zm1 0zm-16 1zm7 0zm3 0zm5 0zm3 0zm-14 1zm1 0zm2 0zm1 0zm1 0zm3 0zm-19 1zm4 0zm6 0zm2 0zm2 0zm2 0zm4 0zm5 0zm-17 1zm5 0zm7 0zm4 0zm-19 1zm4 0zm2 0zm1 0zm6 0zm4 0zm2 0zm-26 1zm8 0zm2 0zm8 0zm5 0zm-6 1zm6 0zm-16 1zm1 0zm5 0zm3 0zm-3 1zm4 0zm1 0zm5 0zm-26 1zm16 0zm6 0zm3 0zm-1 1zm1 0zm-21 1zm9 0zm5 0zm3 0zm8 0zm-14 1zm-8 1zm1 0zm8 0zm7 0zm-15 1zm28 0zm-32 1zm4 0zm16 0zm-5 1zm-15 1zm5 0zm29 0zm-24 1zm4 0zm5 0zm10 0zm3 0zm-21 1zm17 0zm2 0zm2 0zm-27 1zm16 0zm11 0zm-24 1zm2 0zm2 0zm17 0zm3 0zm3 0zm-27 1zm2 0zm2 0zm4 0zm15 0zm5 0zm6 0zm4 0zm-22 1zm7 0zm1 0zm1 0zm3 0zm1 0zm-29 1zm22 0zm2 0zm3 0zm4 0zm1 0zm-33 1zm3 0zm5 0zm2 0zm3 0zm6 0zm6 0zm7 0zm7 0zm-44 1zm11 0zm1 0zm10 0zm4 0zm3 0zm1 0zm-30 1zm4 0zm11 0zm4 0zm2 0zm6 0zm2 0zm4 0zm-35 1zm4 0zm4 0zm2 0zm8 0zm1 0zm3 0zm6 0zm2 0zm1 0zm1 0zm2 0zm2 0zm2 0zm-23 1zm13 0zm1 0zm2 0zm5 0zm-30 1zm4 0zm8 0zm7 0zm5 0zm5 0zm-25 1zm4 0zm5 0zm11 0zm-25 1zm6 0zm4 0zm1 0zm3 0zm3 0zm3 0zm5 0zm1 0zm1 0zm2 0zm1 0zm9 0zm-40 1zm19 0zm4 0zm2 0zm-12 1zm7 0zm3 0zm1 0zm2 0zm1 0zm5 0zm-33 1zm5 0zm2 0zm1 0zm10 0zm5 0zm13 0zm-33 1zm8 0zm4 0zm1 0zm9 0zm16 0zm-33 1zm2 0zm2 0zm11 0zm4 0zm2 0zm5 0zm4 0zm-36 1zm6 0zm5 0zm9 0zm3 0zm4 0zm4 0zm-29 1zm4 0zm6 0zm5 0zm1 0zm3 0zm1 0zm3 0zm5 0zm-33 1zm3 0zm11 0zm2 0zm13 0zm1 0zm1 0zm1 0zm3 0zm-39 1zm10 0zm11 0zm6 0zm5 0zm4 0zm2 0zm9 0zm-43 1zm4 0zm1 0zm4 0zm1 0zm2 0zm11 0zm6 0zm5 0zm6 0zm-27 1zm5 0zm2 0zm4 0zm5 0zm3 0zm4 0zm-35 1zm6 0zm5 0zm7 0zm5 0zm6 0zm21 0zm-46 1zm4 0zm4 0zm4 0zm8 0zm11 0zm5 0zm-34 1zm7 0zm2 0zm1 0zm1 0zm3 0zm8 0zm5 0zm4 0zm-34 1zm5 0zm6 0zm3 0zm2 0zm2 0zm3 0zm4 0zm2 0zm-28 1zm1 0zm12 0zm3 0zm3 0zm7 0zm8 0zm-39 1zm7 0zm1 0zm3 0zm5 0zm2 0zm2 0zm1 0zm14 0zm3 0zm-30 1zm2 0zm2 0zm1 0zm3 0zm2 0zm4 0zm6 0zm6 0zm6 0zm-39 1zm4 0zm2 0zm5 0zm1 0zm1 0zm2 0zm2 0zm2 0zm19 0zm7 0zm-46 1zm17 0zm3 0zm4 0zm9 0zm-27 1zm5 0zm3 0zm1 0zm2 0zm1 0zm5 0zm10 0zm-23 1zm2 0zm2 0zm3 0zm1 0zm1 0zm4 0zm4 0zm-22 1zm4 0zm5 0zm4 0zm1 0zm1 0zm7 0zm8 0zm-23 1zm7 0zm8 0zm10 0zm-38 1zm4 0zm3 0zm1 0zm2 0zm4 0zm1 0zm13 0zm13 0zm-36 1zm3 0zm9 0zm1 0zm3 0zm12 0zm-13 1zm14 0zm-21 1zm2 0zm-7 1zm3 0zm4 0zm2 0zm4 0zm3 0zm-20 1zm8 0zm2 0zm2 0zm12 0zm-22 1zm3 0zm7 0zm1 0zm1 0zm9 0zm1 0zm6 0zm-32 1zm12 0zm7 0zm-12 1zm2 0zm9 0zm2 0zm3 0zm7 0zm-24 1zm8 0zm-1 1zm1 0zm10 0zm-11 1zm7 0zm3 0zm8 0zm-8 1zm3 0zm-14 1zm8 0zm8 0zm-4 3z"/>
<path stroke="#800080" d="M89 138zm5 0zm2 1zm1 0zm-22 1zm16 0zm4 0zm1 0zm5 0zm-26 1zm1 0zm2 0zm2 0zm1 0zm1 0zm1 0zm5 0zm1 0zm1 0zm2 0zm1 0zm1 0zm2 0zm1 0zm5 0zm5 0zm-32 1zm1 0zm4 0zm2 0zm1 0zm2 0zm1 0zm1 0zm1 0zm2 0zm2 0zm2 0zm2 0zm4 0zm2 0zm2 0zm-31 1zm2 0zm1 0zm1 0zm1 0zm1 0zm1 0zm1 0zm1 0zm2 0zm1 0zm2 0zm1 0zm1 0zm2 0zm1 0zm3 0zm2 0zm6 0zm2 0zm-34 1zm1 0zm1 0zm1 0zm1 0zm1 0zm1 0zm2 0zm2 0zm1 0zm1 0zm1 0zm2 0zm1 0zm1 0zm1 0zm2 0zm1 0zm1 0zm1 0zm1 0zm1 0zm2 0zm1 0zm1 0zm1 0zm-32 1zm1 0zm2 0zm2 0zm4 0zm2 0zm2 0zm3 0zm1 0zm6 0zm1 0zm2 0zm1 0zm1 0zm1 0zm2 0zm6 0zm1 0zm-40 1zm1 0zm1 0zm1 0zm4 0zm1 0zm1 0zm2 0zm1 0zm1 0zm1 0zm1 0zm1 0zm2 0zm1 0zm1 0zm2 0zm1 0zm2 0zm1 0zm1 0zm2 0zm1 0zm1 0zm1 0zm1 0zm-27 1zm2 0zm1 0zm1 0zm1 0zm1 0zm1 0zm1 0zm1 0zm2 0zm1 0zm1 0zm1 0zm2 0zm1 0zm1 0zm1 0zm1 0zm1 0zm2 0zm1 0zm3 0zm-39 1zm2 0zm3 0zm4 0zm2 0zm1 0zm1 0zm1 0zm1 0zm1 0zm1 0zm1 0zm1 0zm1 0zm1 0zm3 0zm1 0zm1 0zm1 0zm1 0zm1 0zm1 0zm1 0zm1 0zm2 0zm1 0zm1 0zm2 0zm3 0zm1 0zm-44 1zm8 0zm1 0zm1 0zm3 0zm1 0zm2 0zm1 0zm1 0zm2 0zm2 0zm1 0zm1 0zm1 0zm1 0zm1 0zm2 0zm1 0zm1 0zm2 0zm1 0zm1 0zm2 0zm2 0zm1 0zm4 0zm-40 1zm2 0zm1 0zm3 0zm1 0zm1 0zm1 0zm3 0zm1 0zm1 0zm1 0zm1 0zm1 0zm1 0zm2 0zm1 0zm1 0zm1 0zm1 0zm2 0zm1 0zm1 0zm1 0zm3 0zm2 0zm7 0zm-49 1zm3 0zm4 0zm1 0zm1 0zm1 0zm2 0zm1 0zm1 0zm1 0zm1 0zm2 0zm1 0zm2 0zm1 0zm2 0zm1 0zm1 0zm1 0zm1 0zm1 0zm1 0zm1 0zm1 0zm1 0zm1 0zm1 0zm1 0zm1 0zm1 0zm3 0zm1 0zm7 0zm-50 1zm8 0zm1 0zm2 0zm2 0zm4 0zm2 0zm1 0zm2 0zm2 0zm1 0zm1 0zm2 0zm1 0zm1 0zm1 0zm2 0zm1 0zm2 0zm1 0zm6 0zm-53 1zm7 0zm3 0zm4 0zm3 0zm1 0zm1 0zm2 0zm2 0zm1 0zm2 0zm2 0zm1 0zm1 0zm1 0zm2 0zm5 0zm1 0zm1 0zm3 0zm5 0zm-50 1zm1 0zm2 0zm2 0zm1 0zm3 0zm2 0zm2 0zm2 0zm4 0zm1 0zm1 0zm1 0zm1 0zm2 0zm3 0zm1 0zm1 0zm4 0zm3 0zm1 0zm2 0zm2 0zm1 0zm1 0zm1 0zm1 0zm6 0zm2 0zm-56 1zm3 0zm2 0zm3 0zm3 0zm2 0zm1 0zm2 0zm3 0zm1 0zm1 0zm2 0zm1 0zm2 0zm4 0zm4 0zm1 0zm2 0zm4 0zm1 0zm2 0zm1 0zm3 0zm1 0zm-50 1zm1 0zm1 0zm2 0zm1 0zm1 0zm1 0zm1 0zm5 0zm8 0zm2 0zm2 0zm3 0zm6 0zm1 0zm8 0zm-41 1zm1 0zm1 0zm2 0zm1 0zm2 0zm1 0zm2 0zm1 0zm1 0zm1 0zm2 0zm9 0zm6 0zm4 0zm7 0zm2 0zm6 0zm-51 1zm1 0zm2 0zm4 0zm1 0zm1 0zm1 0zm5 0zm14 0zm-32 1zm4 0zm2 0zm2 0zm1 0zm1 0zm9 0zm15 0zm-29 1zm1 0zm1 0zm1 0zm1 0zm2 0zm4 0zm-13 1zm3 0zm3 0zm3 0zm-9 1zm3 0zm2 0zm3 0z"/>
<path stroke="#5F9EA0" d="M62 216zm0 4zm3 0zm2 0zm-14 1zm4 0zm4 0zm1 0zm1 0zm6 0zm-15 1zm2 0zm10 0zm-14 1zm2 0zm5 0zm2 0zm2 0zm1 0zm-9 1zm3 0zm4 0zm-12 1zm15 0zm3 0zm-8 1zm1 0zm-7 1zm5 0zm4 0zm7 0zm-19 1zm2 0zm5 0zm1 0zm1 0zm2 0zm5 0zm5 0zm-18 1zm5 0zm1 0zm2 0zm7 0zm2 0zm1 0zm-21 1zm4 0zm1 0zm3 0zm1 0zm3 0zm8 0zm-18 1zm1 0zm2 0zm6 0zm1 0zm1 0zm2 0zm5 0zm-16 1zm1 0zm2 0zm4 0zm1 0zm-12 1zm1 0zm1 0zm4 0zm2 0zm7 0zm2 0zm2 0zm-15 1zm6 0zm3 0zm4 0zm-19 1zm4 0zm1 0zm3 0zm8 0zm2 0zm-18 1zm5 0zm2 0zm3 0zm1 0zm4 0zm1 0zm2 0zm-10 1zm1 0zm8 0zm-7 1zm4 0zm2 0zm1 0zm-18 1zm2 0zm2 0zm3 0zm3 0zm6 0zm6 0zm-23 1zm5 0zm4 0zm5 0zm5 0zm1 0zm-9 1zm2 0zm1 0zm1 0zm-10 1zm4 0zm1 0zm-5 1zm3 0zm1 0zm5 0zm-10 1zm2 0zm3 0zm2 0zm3 0zm1 0zm-8 1zm8 0zm1 0zm-15 1zm2 0zm4 0zm4 0zm1 0zm5 0zm-11 1zm10 0zm1 0zm-12 1zm12 1zm4 0zm-17 1zm4 0zm-1 1zm-2 1zm4 0zm7 0zm1 0zm-10 3zm4 0zm-4 1zm5 0z"/>
<path stroke="#A0522D" d="M97 232zm-6 3zm0 3zm3 0zm3 0zm1 0zm1 0zm1 0zm2 0zm-7 1zm1 0zm-4 1zm3 0zm1 0zm2 0zm1 0zm1 0zm-2 1zm-6 1zm2 0zm4 0zm3 0zm1 0zm-9 1zm3 0zm1 0zm-1 1zm-5 1zm3 0zm2 0zm1 0zm1 0zm4 0zm-6 1zm2 0zm1 0zm-5 1zm3 0zm2 0zm-7 1zm6 0zm2 0zm-9 1zm3 0zm1 0zm2 0zm4 0zm-11 1zm4 1zm1 0zm1 0zm-4 1zm1 0zm2 0zm1 0zm-4 1zm1 0zm3 0zm4 0zm-9 1zm2 0zm3 0zm-3 1zm2 0zm2 0zm1 1zm-6 1zm3 0zm-6 1zm4 0zm2 0zm2 0zm-5 1zm1 0zm2 0zm2 0zm-3 1zm1 0zm1 0zm1 0zm-10 1zm4 0zm3 0zm3 0zm1 0zm1 0zm2 0zm-8 1zm3 0zm-4 1zm2 0zm2 0zm-12 1zm6 0zm1 0zm1 0zm3 1zm1 0zm-4 1zm3 0zm-8 1zm5 0zm4 0zm-9 1zm3 0zm1 0zm1 0zm1 0zm1 0zm5 0zm-11 1zm2 0zm1 0zm2 0zm1 0zm1 0zm-5 1zm-4 1zm4 0zm1 0zm3 0zm-4 1zm3 0zm1 0zm-4 1zm0 1zm5 0zm-7 1zm5 0zm2 0zm-5 1zm1 0zm3 0zm-5 1zm2 0zm3 0zm-7 1zm1 0zm1 0zm1 0zm2 0zm-2 1zm1 0zm3 0zm4 0zm15 0zm-25 1zm3 0zm2 0zm1 0zm5 0zm1 0zm-13 1zm3 0zm1 0zm2 0zm13 0zm6 0zm6 0zm-30 1zm2 0zm1 0zm1 0zm1 0zm3 0zm10 0zm12 0zm-30 1zm2 0zm1 0zm2 0zm6 0zm2 0zm3 0zm5 0zm10 0zm-31 1zm7 0zm2 0zm2 0zm3 0zm4 0zm2 0zm1 0zm3 0zm-26 1zm6 0zm10 0zm1 0zm4 0zm4 0zm-19 1zm5 0zm4 0zm10 0zm2 0zm-27 1zm1 0zm5 0zm4 1zm5 0zm-9 1z"/>
<path stroke="#FF00FF" d="M122 288zm-4 1zm6 1zm-3 2zm7 0zm2 0zm-4 1zm9 0zm-11 1zm1 2zm6 0zm-1 2zm1 0zm-6 1zm1 0zm-2 1zm12 0zm-8 1zm-10 1zm5 1zm6 1zm8 0zm-18 1zm7 1zm-20 8zm6 2zm7 0zm-17 1zm6 0zm8 0zm5 0zm-19 1zm5 0zm1 0zm3 0zm15 0zm-20 1zm1 0zm2 0zm2 0zm5 0zm1 0zm-12 1zm3 0zm1 0zm6 0zm-12 1zm3 0zm1 0zm1 0zm1 0zm1 0zm5 0zm5 0zm4 0zm-19 1zm1 0zm1 0zm2 0zm1 0zm2 0zm1 0zm1 0zm3 0zm4 0zm3 0zm4 0zm-25 1zm1 0zm6 0zm1 0zm1 0zm1 0zm1 0zm1 0zm3 0zm1 0zm4 0zm-21 1zm7 0zm3 0zm1 0zm2 0zm5 0zm2 0zm5 0zm1 0zm-25 1zm3 0zm4 0zm1 0zm2 0zm2 0zm1 0zm1 0zm7 0zm3 0zm4 0zm-24 1zm4 0zm1 0zm1 0zm2 0zm2 0zm4 0zm4 0zm8 0zm-27 1zm2 0zm1 0zm2 0zm1 0zm2 0zm1 0zm2 0zm2 0zm1 0zm1 0zm1 0zm2 0zm1 0zm2 0zm3 0zm1 0zm9 0zm-34 1zm1 0zm1 0zm2 0zm1 0zm1 0zm2 0zm2 0zm1 0zm1 0zm2 0zm1 0zm1 0zm1 0zm1 0zm2 0zm3 0zm1 0zm1 0zm10 0zm-35 1zm2 0zm4 0zm1 0zm2 0zm2 0zm2 0zm2 0zm1 0zm3 0zm1 0zm1 0zm1 0zm1 0zm4 0zm5 0zm-31 1zm2 0zm1 0zm3 0zm5 0zm2 0zm4 0zm2 0zm2 0zm1 0zm3 0zm1 0zm10 0zm-32 1zm1 0zm3 0zm1 0zm1 0zm2 0zm1 0zm1 0zm1 0zm1 0zm1 0zm1 0zm1 0zm2 0zm1 0zm3 0zm4 0zm-33 1zm6 0zm2 0zm3 0zm3 0zm1 0zm2 0zm1 0zm1 0zm1 0zm1 0zm1 0zm1 0zm1 0zm1 0zm3 0zm2 0zm2 0zm1 0zm3 0zm1 0zm1 0zm7 0zm-38 1zm4 0zm1 0zm2 0zm2 0zm1 0zm3 0zm2 0zm2 0zm1 0zm1 0zm2 0zm1 0zm1 0zm1 0zm3 0zm1 0zm2 0zm8 0zm-41 1zm8 0zm1 0zm1 0zm1 0zm1 0zm1 0zm1 0zm1 0zm1 0zm1 0zm2 0zm2 0zm1 0zm2 0zm1 0zm1 0zm3 0zm2 0zm2 0zm1 0zm1 0zm4 0zm-32 1zm1 0zm1 0zm2 0zm1 0zm1 0zm1 0zm2 0zm4 0zm2 0zm3 0zm2 0zm1 0zm1 0zm1 0zm3 0zm-30 1zm3 0zm1 0zm2 0zm2 0zm1 0zm2 0zm1 0zm1 0zm1 0zm1 0zm1 0zm1 0zm1 0zm7 0zm1 0zm2 0zm1 0zm1 0zm1 0zm1 0zm1 0zm2 0zm1 0zm-36 1zm1 0zm1 0zm1 0zm1 0zm5 0zm1 0zm1 0zm1 0zm3 0zm1 0zm1 0zm2 0zm2 0zm1 0zm1 0zm1 0zm1 0zm1 0zm2 0zm3 0zm1 0zm3 0zm1 0zm2 0zm-33 1zm3 0zm1 0zm3 0zm1 0zm1 0zm1 0zm3 0zm1 0zm1 0zm3 0zm1 0zm2 0zm1 0zm2 0zm1 0zm1 0zm1 0zm-28 1zm1 0zm2 0zm2 0zm2 0zm3 0zm2 0zm1 0zm1 0zm1 0zm1 0zm2 0zm1 0zm1 0zm1 0zm1 0zm2 0zm1 0zm2 0zm1 0zm1 0zm-35 1zm4 0zm5 0zm4 0zm2 0zm1 0zm5 0zm2 0zm1 0zm1 0zm1 0zm2 0zm1 0zm1 0zm1 0zm1 0zm1 0zm2 0zm1 0zm3 0zm2 0zm1 0zm2 0zm-41 1zm3 0zm4 0zm1 0zm1 0zm3 0zm1 0zm3 0zm1 0zm2 0zm1 0zm2 0zm1 0zm1 0zm1 0zm1 0zm1 0zm5 0zm1 0zm5 0zm-37 1zm3 0zm3 0zm3 0zm3 0zm1 0zm1 0zm2 0zm4 0zm1 0zm1 0zm1 0zm1 0zm1 0zm1 0zm2 0zm4 0zm6 0zm-34 1zm2 0zm2 0zm1 0zm3 0zm1 0zm3 0zm1 0zm1 0zm1 0zm2 0zm7 0zm2 0zm-32 1zm8 0zm5 0zm1 0zm3 0zm1 0zm2 0zm1 0zm1 0zm1 0zm1 0zm2 0zm2 0zm2 0zm1 0zm1 0zm-25 1zm1 0zm3 0zm4 0zm1 0zm2 0zm1 0zm3 0zm3 0zm1 0zm1 0zm1 0zm1 0zm1 0zm4 0zm3 0zm-38 1zm11 0zm6 0zm2 0zm2 0zm7 0zm5 0zm1 0zm4 0zm5 0zm2 0zm-30 1zm2 0zm1 0zm2 0zm2 0zm2 0zm1 0zm3 0zm4 0zm2 0zm3 0zm-30 1zm17 0zm1 0zm1 0zm3 0zm2 0zm1 0zm1 0zm1 0zm2 0zm-29 1zm1 0zm5 0zm2 0zm3 0zm2 0zm1 0zm2 0zm3 0zm1 0zm1 0zm5 0zm-27 1zm4 0zm2 0zm1 0zm2 0zm6 0zm3 0zm2 0zm1 0zm1 0zm6 0zm1 0zm2 0zm2 0zm5 0zm-32 1zm1 0zm1 0zm1 0zm2 0zm1 0zm4 0zm2 0zm1 0zm1 0zm1 0zm1 0zm7 0zm3 0zm2 0zm2 0zm-29 1zm6 0zm2 0zm1 0zm3 0zm2 0zm7 0zm4 0zm4 0zm-34 1zm3 0zm1 0zm1 0zm6 0zm3 0zm2 0zm1 0zm1 0zm1 0zm1 0zm1 0zm4 0zm2 0zm4 0zm-27 1zm4 0zm4 0zm1 0zm1 0zm1 0zm4 0zm1 0zm1 0zm7 0zm1 0zm5 0zm-31 1zm2 0zm1 0zm1 0zm2 0zm2 0zm1 0zm2 0zm2 0zm1 0zm1 0zm2 0zm1 0zm1 0zm1 0zm5 0zm1 0zm1 0zm2 0zm-32 1zm2 0zm3 0zm3 0zm3 0zm3 0zm1 0zm2 0zm1 0zm3 0zm2 0zm1 0zm6 0zm-26 1zm1 0zm2 0zm1 0zm1 0zm1 0zm4 0zm1 0zm2 0zm2 0zm3 0zm1 0zm1 0zm1 0zm5 0zm-26 1zm3 0zm4 0zm1 0zm3 0zm2 0zm2 0zm2 0zm1 0zm1 0zm2 0zm6 0zm2 0zm3 0zm-34 1zm3 0zm2 0zm2 0zm1 0zm4 0zm2 0zm1 0zm1 0zm3 0zm1 0zm1 0zm6 0zm2 0zm-22 1zm4 0zm1 0zm2 0zm1 0zm1 0zm1 0zm1 0zm2 0zm4 0zm5 0zm2 0zm-29 1zm6 0zm3 0zm2 0zm1 0zm4 0zm1 0zm4 0zm5 0zm-21 1zm3 0zm1 0zm3 0zm3 0zm5 0zm2 0zm7 0zm-30 1zm10 0zm3 0zm1 0zm1 0zm2 0zm7 0zm-16 1zm2 0zm1 0zm2 0zm3 0zm1 0zm2 0zm3 0zm-17 1zm1 0zm1 0zm10 0zm2 0zm8 0zm-21 1zm4 0zm3 0zm3 0zm8 0zm-10 1zm4 0zm5 0zm1 0zm-16 1zm6 0zm11 0zm1 0zm-19 1zm1 0zm13 0zm-21 1zm8 0zm3 0zm16 0zm-15 1zm2 0zm-5 2zm15 0zm-15 2z"/>
<path stroke="#D2691E" d="M161 338zm-2 1zm2 0zm2 1zm-6 1zm-2 1zm6 0zm-5 1zm1 1zm-2 1zm2 0zm1 0zm1 0zm1 0zm-5 1zm2 0zm1 0zm2 0zm2 0zm1 0zm2 0zm1 0zm-8 1zm1 0zm1 0zm4 0zm3 0zm-12 1zm3 0zm2 0zm2 0zm1 0zm1 0zm3 0zm-12 1zm4 0zm1 0zm1 0zm4 0zm-9 1zm3 0zm4 0zm2 0zm5 0zm1 0zm-13 1zm2 0zm2 0zm1 0zm1 0zm3 0zm-13 1zm4 0zm2 0zm1 0zm3 0zm1 0zm2 0zm-12 1zm1 0zm1 0zm3 0zm1 0zm1 0zm1 0zm1 0zm1 0zm1 0zm2 0zm2 0zm-10 1zm1 0zm2 0zm2 0zm1 0zm1 0zm1 0zm3 0zm1 0zm1 0zm-17 1zm1 0zm3 0zm2 0zm1 0zm2 0zm7 0zm-17 1zm4 0zm1 0zm2 0zm2 0zm2 0zm2 0zm5 0zm-17 1zm2 0zm4 0zm4 0zm1 0zm-10 1zm2 0zm3 0zm1 0zm1 0zm3 0zm2 0zm-10 1zm4 0zm1 0zm3 0zm1 0zm2 0zm3 0zm1 0zm-12 1zm1 0zm5 0zm1 0zm1 0zm2 0zm2 0zm-15 1zm1 0zm1 0zm3 0zm1 0zm1 0zm3 0zm2 0zm1 0zm-11 1zm4 0zm-5 1zm2 0zm2 0zm1 0zm3 0zm1 0zm1 0zm-7 1zm4 0zm1 0zm2 0zm3 0zm-7 1zm1 0zm2 0zm2 0zm1 0zm-12 1zm2 0zm2 0zm2 0zm2 0zm-5 1zm1 0zm7 1zm0 1zm-4 1zm1 0zm3 1zm-4 2z"/>
<path stroke="#0000CD" d="M174 324zm0 1zm5 1zm7 2zm-18 1zm7 0zm4 0zm-4 1zm-6 1zm2 0zm1 0zm2 0zm10 0zm17 0zm-24 1zm1 0zm17 0zm3 0zm2 0zm2 0zm3 0zm4 0zm-32 1zm5 0zm9 0zm2 0zm1 0zm6 0zm2 0zm4 0zm2 0zm4 0zm-40 1zm4 0zm5 0zm15 0zm4 0zm1 0zm2 0zm2 0zm4 0zm-39 1zm4 0zm1 0zm4 0zm13 0zm4 0zm1 0zm1 0zm1 0zm1 0zm1 0zm1 0zm1 0zm1 0zm1 0zm2 0zm4 0zm2 0zm-48 1zm6 0zm1 0zm2 0zm4 0zm2 0zm5 0zm4 0zm1 0zm1 0zm7 0zm1 0zm1 0zm1 0zm1 0zm2 0zm1 0zm2 0zm1 0zm1 0zm6 0zm-44 1zm1 0zm9 0zm2 0zm2 0zm7 0zm4 0zm1 0zm1 0zm1 0zm1 0zm3 0zm1 0zm1 0zm1 0zm1 0zm1 0zm2 0zm1 0zm-44 1zm4 0zm5 0zm1 0zm1 0zm3 0zm5 0zm2 0zm2 0zm2 0zm2 0zm1 0zm2 0zm1 0zm2 0zm1 0zm1 0zm1 0zm2 0zm3 0zm2 0zm1 0zm1 0zm-40 1zm3 0zm2 0zm1 0zm1 0zm2 0zm3 0zm11 0zm1 0zm1 0zm2 0zm1 0zm2 0zm1 0zm1 0zm1 0zm1 0zm1 0zm1 0zm1 0zm1 0zm1 0zm4 0zm-45 1zm4 0zm1 0zm1 0zm1 0zm2 0zm6 0zm1 0zm2 0zm2 0zm5 0zm1 0zm1 0zm1 0zm2 0zm1 0zm1 0zm1 0zm1 0zm1 0zm2 0zm1 0zm1 0zm1 0zm5 0zm-46 1zm4 0zm1 0zm2 0zm1 0zm4 0zm4 0zm3 0zm2 0zm1 0zm5 0zm1 0zm1 0zm1 0zm1 0zm1 0zm6 0zm2 0zm2 0zm-43 1zm1 0zm5 0zm5 0zm1 0zm2 0zm1 0zm3 0zm2 0zm8 0zm2 0zm2 0zm1 0zm4 0zm1 0zm1 0zm-38 1zm1 0zm5 0zm1 0zm9 0zm18 0zm-33 1zm49 0zm-45 1zm2 0zm7 2zm-5 1zm-1 1z"/>
<path stroke="#FF1493" d="M242 253zm5 1zm3 0zm2 0zm-10 1zm8 0zm-6 1zm2 0zm-6 1zm1 0zm10 1zm4 0zm-14 1zm9 0zm2 0zm1 0zm-6 1zm7 0zm-7 1zm8 0zm-14 1zm3 0zm1 0zm1 0zm1 0zm4 0zm4 0zm-10 1zm1 0zm1 0zm1 0zm1 0zm-6 1zm4 0zm4 0zm2 0zm-6 1zm2 0zm2 0zm-11 1zm3 0zm6 0zm-3 1zm2 0zm1 0zm-6 1zm4 0zm7 0zm-10 1zm3 0zm-4 1zm1 0zm2 0zm2 0zm2 0zm-6 1zm1 0zm1 0zm-6 1zm-2 1zm5 0zm1 0zm5 0zm-5 1zm3 0zm-10 1zm5 0zm1 0zm1 0zm2 0zm-5 1zm2 0zm5 0zm4 0zm-6 1zm1 0zm-1 1zm-5 2zm2 0zm2 0zm1 0zm-3 1z"/>
<path stroke="#D2B48C" d="M201 251zm3 2zm0 1zm3 0zm-2 1zm3 0zm-9 1zm3 0zm2 0zm1 0zm5 0zm-11 1zm15 0zm2 0zm-4 1zm4 0zm-9 1zm2 0zm1 1zm1 0zm10 0zm2 0zm-16 1zm1 0zm1 0zm1 0zm8 0zm2 0zm1 0zm1 0zm1 0zm-17 1zm4 0zm1 0zm1 0zm5 0zm-4 1zm4 0zm1 0zm2 0zm2 0zm2 0zm-17 1zm3 0zm5 0zm3 0zm-2 1zm3 0zm2 0zm3 0zm-13 1zm1 0zm1 0zm2 0zm11 0zm-8 1zm1 0zm-2 1zm1 0zm3 0zm-8 1zm6 0zm1 0zm3 0zm-13 1zm7 0zm10 0zm-8 1zm3 0zm-3 1zm0 1zm4 2z"/>
<path stroke="#87CEEB" d="M230 146zm5 0zm-5 1zm1 0zm1 0zm-3 1zm-8 2zm2 1zm-6 2zm4 0zm6 1zm5 0zm-8 1zm1 0zm3 0zm2 0zm-3 1zm3 1zm-5 1zm4 1zm1 0zm1 0zm-7 1zm8 1zm-8 1zm4 0zm4 1zm-2 1zm4 1zm-5 2zm1 1zm-7 111zm-3 3zm1 1zm1 1zm2 2zm8 0zm-12 1zm3 0zm1 0zm2 0zm-12 1zm2 0zm1 0zm1 0zm1 0zm-8 1zm9 0zm3 0zm-7 1zm5 0zm2 0zm6 0zm-17 1zm6 0zm8 0zm-14 1zm-5 1zm2 0zm5 0zm1 0zm2 0zm1 0zm-8 1zm4 0zm2 0zm5 0zm1 0zm7 0zm-26 1zm4 0zm6 0zm1 0zm1 0zm-8 1zm4 0zm6 0zm-10 1zm1 0zm1 0zm7 0zm-15 1zm8 0zm4 0zm-1 1zm-6 1zm5 0zm3 0zm-6 1zm-1 1zm2 1zm2 0zm2 0zm-1 1z"/>
<path stroke="#FFE4B5" d="M229 237zm-8 5zm-43 1zm27 5zm-30 3zm33 0zm-27 2zm39 1zm-14 3zm-42 2zm42 5zm6 0zm21 2zm-16 1zm-10 1zm5 0zm36 1zm-68 2zm47 0zm-19 1zm0 1zm-27 5zm29 0zm-7 1zm30 1zm-2 1zm-42 2zm-18 1zm6 1zm56 2zm-11 6z"/>
</g>
<circle cx="189.8" cy="77.45" r="1.4" fill="#DC143C"/>
<text x="194.8" y="79" font-size="4.37" fill="#000">c0_CD4_Treg</text>
<circle cx="189.8" cy="82.97" r="1.4" fill="#0000FF"/>
<text x="194.8" y="84.52" font-size="4.37" fill="#000">c1_CD4_Tm_TCF7</text>
<circle cx="189.8" cy="88.48" r="1.4" fill="#20B2AA"/>
<text x="194.8" y="90.03" font-size="4.37" fill="#000">c2_CD4_Tx_LTB</text>
<circle cx="189.8" cy="94" r="1.4" fill="#FFA500"/>
<text x="194.8" y="95.55" font-size="4.37" fill="#000">c3_CD8_Tn</text>
<circle cx="189.8" cy="99.51" r="1.4" fill="#9370DB"/>
<text x="194.8" y="101.06" font-size="4.37" fill="#000">c4_CD4_Tem</text>
<circle cx="189.8" cy="105.03" r="1.4" fill="#98FB98"/>
<text x="194.8" y="106.58" font-size="4.37" fill="#000">c5_NK_HSPA1A</text>
<circle cx="189.8" cy="110.54" r="1.4" fill="#F08080"/>
<text x="194.8" y="112.09" font-size="4.37" fill="#000">c6_CD8_Trm</text>
<circle cx="189.8" cy="116.06" r="1.4" fill="#1E90FF"/>
<text x="194.8" y="117.61" font-size="4.37" fill="#000">c7_CD8_Tex</text>
<circle cx="189.8" cy="121.57" r="1.4" fill="#7CFC00"/>
<text x="194.8" y="123.12" font-size="4.37" fill="#000">c8_CD8_Tx</text>
<circle cx="189.8" cy="127.09" r="1.4" fill="#FFFF00"/>
<text x="194.8" y="128.64" font-size="4.37" fill="#000">c9_CD4_Tx_GPR183</text>
<circle cx="189.8" cy="132.6" r="1.4" fill="#808000"/>
<text x="194.8" y="134.15" font-size="4.37" fill="#000">c10_CD8_Tcem</text>
<circle cx="189.8" cy="138.12" r="1.4" fill="#FF00FF"/>
<text x="194.8" y="139.67" font-size="4.37" fill="#000">c11_CD8_Tstr</text>
<circle cx="189.8" cy="143.63" r="1.4" fill="#FA8072"/>
<text x="194.8" y="145.18" font-size="4.37" fill="#000">c12_CD8_early_Tem</text>
<circle cx="242.5" cy="77.45" r="1.4" fill="#7B68EE"/>
<text x="247.5" y="79" font-size="4.37" fill="#000">c13_CD8_Tem</text>
<circle cx="242.5" cy="82.97" r="1.4" fill="#9400D3"/>
<text x="247.5" y="84.52" font-size="4.37" fill="#000">c14_CD4_Tx_EEF1A1</text>
<circle cx="242.5" cy="88.48" r="1.4" fill="#800080"/>
<text x="247.5" y="90.03" font-size="4.37" fill="#000">c15_NKT_FCGR3A</text>
<circle cx="242.5" cy="94" r="1.4" fill="#A0522D"/>
<text x="247.5" y="95.55" font-size="4.37" fill="#000">c16_CD4_Tfh</text>
<circle cx="242.5" cy="99.51" r="1.4" fill="#D2B48C"/>
<text x="247.5" y="101.06" font-size="4.37" fill="#000">c17_CD4_Th17</text>
<circle cx="242.5" cy="105.03" r="1.4" fill="#D2691E"/>
<text x="247.5" y="106.58" font-size="4.37" fill="#000">c18_CD4_Tstr</text>
<circle cx="242.5" cy="110.54" r="1.4" fill="#87CEEB"/>
<text x="247.5" y="112.09" font-size="4.37" fill="#000">c19_CD4_Trm</text>
<circle cx="242.5" cy="116.06" r="1.4" fill="#40E0D0"/>
<text x="247.5" y="117.61" font-size="4.37" fill="#000">c20_NK_XCL1</text>
<circle cx="242.5" cy="121.57" r="1.4" fill="#5F9EA0"/>
<text x="247.5" y="123.12" font-size="4.37" fill="#000">c21_CD8_MKI67</text>
<circle cx="242.5" cy="127.09" r="1.4" fill="#FF1493"/>
<text x="247.5" y="128.64" font-size="4.37" fill="#000">c22_CD4_Tcm</text>
<circle cx="242.5" cy="132.6" r="1.4" fill="#0000CD"/>
<text x="247.5" y="134.15" font-size="4.37" fill="#000">c23_CD4_Tx_LEF1</text>
<circle cx="242.5" cy="138.12" r="1.4" fill="#008080"/>
<text x="247.5" y="139.67" font-size="4.37" fill="#000">c24_CD8_MAIT</text>
<circle cx="242.5" cy="143.63" r="1.4" fill="#FFE4B5"/>
<text x="247.5" y="145.18" font-size="4.37" fill="#000">unspecified</text>
<text x="0.6" y="230.6" font-size="16.4">B</text>
<path d="M45.5 246.3V395.4H287.8" fill="none" stroke="#2a2a2a" stroke-width=".85"/>
<path d="M44 250.3H45.5" stroke="#333" stroke-width=".4"/>
<text x="43" y="251.7" font-size="3.97" text-anchor="end" fill="#000">unspecified</text>
<path d="M44 255.96H45.5" stroke="#333" stroke-width=".4"/>
<text x="43" y="257.36" font-size="3.97" text-anchor="end" fill="#000">c24_CD8_MAIT</text>
<path d="M44 261.61H45.5" stroke="#333" stroke-width=".4"/>
<text x="43" y="263.01" font-size="3.97" text-anchor="end" fill="#000">c23_CD4_Tx_LEF1</text>
<path d="M44 267.26H45.5" stroke="#333" stroke-width=".4"/>
<text x="43" y="268.66" font-size="3.97" text-anchor="end" fill="#000">c22_CD4_Tcm</text>
<path d="M44 272.92H45.5" stroke="#333" stroke-width=".4"/>
<text x="43" y="274.32" font-size="3.97" text-anchor="end" fill="#000">c21_CD8_MKI67</text>
<path d="M44 278.57H45.5" stroke="#333" stroke-width=".4"/>
<text x="43" y="279.97" font-size="3.97" text-anchor="end" fill="#000">c20_NK_XCL1</text>
<path d="M44 284.23H45.5" stroke="#333" stroke-width=".4"/>
<text x="43" y="285.63" font-size="3.97" text-anchor="end" fill="#000">c19_CD4_Trm</text>
<path d="M44 289.88H45.5" stroke="#333" stroke-width=".4"/>
<text x="43" y="291.28" font-size="3.97" text-anchor="end" fill="#000">c18_CD4_Tstr</text>
<path d="M44 295.54H45.5" stroke="#333" stroke-width=".4"/>
<text x="43" y="296.94" font-size="3.97" text-anchor="end" fill="#000">c17_CD4_Th17</text>
<path d="M44 301.19H45.5" stroke="#333" stroke-width=".4"/>
<text x="43" y="302.59" font-size="3.97" text-anchor="end" fill="#000">c16_CD4_Tfh</text>
<path d="M44 306.85H45.5" stroke="#333" stroke-width=".4"/>
<text x="43" y="308.25" font-size="3.97" text-anchor="end" fill="#000">c15_NKT_FCGR3A</text>
<path d="M44 312.5H45.5" stroke="#333" stroke-width=".4"/>
<text x="43" y="313.9" font-size="3.97" text-anchor="end" fill="#000">c14_CD4_Tx_EEF1A1</text>
<path d="M44 318.16H45.5" stroke="#333" stroke-width=".4"/>
<text x="43" y="319.56" font-size="3.97" text-anchor="end" fill="#000">c13_CD8_Tem</text>
<path d="M44 323.81H45.5" stroke="#333" stroke-width=".4"/>
<text x="43" y="325.21" font-size="3.97" text-anchor="end" fill="#000">c12_CD8_early_Tem</text>
<path d="M44 329.47H45.5" stroke="#333" stroke-width=".4"/>
<text x="43" y="330.87" font-size="3.97" text-anchor="end" fill="#000">c11_CD8_Tstr</text>
<path d="M44 335.12H45.5" stroke="#333" stroke-width=".4"/>
<text x="43" y="336.52" font-size="3.97" text-anchor="end" fill="#000">c10_CD8_Tcem</text>
<path d="M44 340.78H45.5" stroke="#333" stroke-width=".4"/>
<text x="43" y="342.18" font-size="3.97" text-anchor="end" fill="#000">c9_CD4_Tx_GPR183</text>
<path d="M44 346.44H45.5" stroke="#333" stroke-width=".4"/>
<text x="43" y="347.83" font-size="3.97" text-anchor="end" fill="#000">c8_CD8_Tx</text>
<path d="M44 352.09H45.5" stroke="#333" stroke-width=".4"/>
<text x="43" y="353.49" font-size="3.97" text-anchor="end" fill="#000">c7_CD8_Tex</text>
<path d="M44 357.75H45.5" stroke="#333" stroke-width=".4"/>
<text x="43" y="359.14" font-size="3.97" text-anchor="end" fill="#000">c6_CD8_Trm</text>
<path d="M44 363.4H45.5" stroke="#333" stroke-width=".4"/>
<text x="43" y="364.8" font-size="3.97" text-anchor="end" fill="#000">c5_NK_HSPA1A</text>
<path d="M44 369.06H45.5" stroke="#333" stroke-width=".4"/>
<text x="43" y="370.45" font-size="3.97" text-anchor="end" fill="#000">c4_CD4_Tem</text>
<path d="M44 374.71H45.5" stroke="#333" stroke-width=".4"/>
<text x="43" y="376.11" font-size="3.97" text-anchor="end" fill="#000">c3_CD8_Tn</text>
<path d="M44 380.37H45.5" stroke="#333" stroke-width=".4"/>
<text x="43" y="381.76" font-size="3.97" text-anchor="end" fill="#000">c2_CD4_Tx_LTB</text>
<path d="M44 386.02H45.5" stroke="#333" stroke-width=".4"/>
<text x="43" y="387.42" font-size="3.97" text-anchor="end" fill="#000">c1_CD4_Tm_TCF7</text>
<path d="M44 391.68H45.5" stroke="#333" stroke-width=".4"/>
<text x="43" y="393.07" font-size="3.97" text-anchor="end" fill="#000">c0_CD4_Treg</text>
<path d="M51.5 395.4V397" stroke="#333" stroke-width=".4"/>
<text transform="translate(53.2,398.6) rotate(-45)" font-size="4.1" text-anchor="end" fill="#111">CD8A</text>
<path d="M61.95 395.4V397" stroke="#333" stroke-width=".4"/>
<text transform="translate(63.65,398.6) rotate(-45)" font-size="4.1" text-anchor="end" fill="#111">CD4</text>
<path d="M72.4 395.4V397" stroke="#333" stroke-width=".4"/>
<text transform="translate(74.1,398.6) rotate(-45)" font-size="4.1" text-anchor="end" fill="#111">IL7R</text>
<path d="M82.85 395.4V397" stroke="#333" stroke-width=".4"/>
<text transform="translate(84.55,398.6) rotate(-45)" font-size="4.1" text-anchor="end" fill="#111">NKG7</text>
<path d="M93.3 395.4V397" stroke="#333" stroke-width=".4"/>
<text transform="translate(95,398.6) rotate(-45)" font-size="4.1" text-anchor="end" fill="#111">LEF1</text>
<path d="M103.75 395.4V397" stroke="#333" stroke-width=".4"/>
<text transform="translate(105.45,398.6) rotate(-45)" font-size="4.1" text-anchor="end" fill="#111">CCR7</text>
<path d="M114.2 395.4V397" stroke="#333" stroke-width=".4"/>
<text transform="translate(115.9,398.6) rotate(-45)" font-size="4.1" text-anchor="end" fill="#111">SELL</text>
<path d="M124.65 395.4V397" stroke="#333" stroke-width=".4"/>
<text transform="translate(126.35,398.6) rotate(-45)" font-size="4.1" text-anchor="end" fill="#111">TCF7</text>
<path d="M135.1 395.4V397" stroke="#333" stroke-width=".4"/>
<text transform="translate(136.8,398.6) rotate(-45)" font-size="4.1" text-anchor="end" fill="#111">FAS</text>
<path d="M145.55 395.4V397" stroke="#333" stroke-width=".4"/>
<text transform="translate(147.25,398.6) rotate(-45)" font-size="4.1" text-anchor="end" fill="#111">FASLG</text>
<path d="M156 395.4V397" stroke="#333" stroke-width=".4"/>
<text transform="translate(157.7,398.6) rotate(-45)" font-size="4.1" text-anchor="end" fill="#111">CD44</text>
<path d="M166.45 395.4V397" stroke="#333" stroke-width=".4"/>
<text transform="translate(168.15,398.6) rotate(-45)" font-size="4.1" text-anchor="end" fill="#111">CD69</text>
<path d="M176.9 395.4V397" stroke="#333" stroke-width=".4"/>
<text transform="translate(178.6,398.6) rotate(-45)" font-size="4.1" text-anchor="end" fill="#111">KLRB1</text>
<path d="M187.35 395.4V397" stroke="#333" stroke-width=".4"/>
<text transform="translate(189.05,398.6) rotate(-45)" font-size="4.1" text-anchor="end" fill="#111">PDCD1</text>
<path d="M197.8 395.4V397" stroke="#333" stroke-width=".4"/>
<text transform="translate(199.5,398.6) rotate(-45)" font-size="4.1" text-anchor="end" fill="#111">HAVCR2</text>
<path d="M208.25 395.4V397" stroke="#333" stroke-width=".4"/>
<text transform="translate(209.95,398.6) rotate(-45)" font-size="4.1" text-anchor="end" fill="#111">CTLA4</text>
<path d="M218.7 395.4V397" stroke="#333" stroke-width=".4"/>
<text transform="translate(220.4,398.6) rotate(-45)" font-size="4.1" text-anchor="end" fill="#111">LAG3</text>
<path d="M229.15 395.4V397" stroke="#333" stroke-width=".4"/>
<text transform="translate(230.85,398.6) rotate(-45)" font-size="4.1" text-anchor="end" fill="#111">GZMB</text>
<path d="M239.6 395.4V397" stroke="#333" stroke-width=".4"/>
<text transform="translate(241.3,398.6) rotate(-45)" font-size="4.1" text-anchor="end" fill="#111">GZMK</text>
<path d="M250.05 395.4V397" stroke="#333" stroke-width=".4"/>
<text transform="translate(251.75,398.6) rotate(-45)" font-size="4.1" text-anchor="end" fill="#111">KLF2</text>
<path d="M260.5 395.4V397" stroke="#333" stroke-width=".4"/>
<text transform="translate(262.2,398.6) rotate(-45)" font-size="4.1" text-anchor="end" fill="#111">FOXP3</text>
<path d="M270.95 395.4V397" stroke="#333" stroke-width=".4"/>
<text transform="translate(272.65,398.6) rotate(-45)" font-size="4.1" text-anchor="end" fill="#111">IL17A</text>
<path d="M281.4 395.4V397" stroke="#333" stroke-width=".4"/>
<text transform="translate(283.1,398.6) rotate(-45)" font-size="4.1" text-anchor="end" fill="#111">HSPA1A</text>
<circle cx="51.5" cy="250.3" r="0.66" fill="#eb7055"/>
<circle cx="61.95" cy="250.3" r="0.36" fill="#e3b4a9"/>
<circle cx="72.4" cy="250.3" r="1" fill="#ea917d"/>
<circle cx="82.85" cy="250.3" r="1" fill="#ea917d"/>
<circle cx="93.3" cy="250.3" r="0.36" fill="#e3b4a9"/>
<circle cx="103.75" cy="250.3" r="0.36" fill="#e3b4a9"/>
<circle cx="114.2" cy="250.3" r="0.36" fill="#ea917d"/>
<circle cx="124.65" cy="250.3" r="0.66" fill="#ea917d"/>
<circle cx="135.1" cy="250.3" r="0.66" fill="#ea917d"/>
<circle cx="145.55" cy="250.3" r="0.36" fill="#ea917d"/>
<circle cx="156" cy="250.3" r="1.5" fill="#e3b4a9"/>
<circle cx="166.45" cy="250.3" r="1.5" fill="#ea917d"/>
<circle cx="176.9" cy="250.3" r="1" fill="#ea917d"/>
<circle cx="187.35" cy="250.3" r="0.36" fill="#e3b4a9"/>
<circle cx="197.8" cy="250.3" r="0.36" fill="#e3b4a9"/>
<circle cx="208.25" cy="250.3" r="0.36" fill="#e3b4a9"/>
<circle cx="218.7" cy="250.3" r="0.66" fill="#ea917d"/>
<circle cx="229.15" cy="250.3" r="1" fill="#ea917d"/>
<circle cx="239.6" cy="250.3" r="0.36" fill="#ea917d"/>
<circle cx="250.05" cy="250.3" r="0.36" fill="#e3b4a9"/>
<circle cx="260.5" cy="250.3" r="0.36" fill="#e3b4a9"/>
<circle cx="270.95" cy="250.3" r="0.36" fill="#d9cbc8"/>
<circle cx="281.4" cy="250.3" r="0.66" fill="#eb7055"/>
<circle cx="51.5" cy="255.96" r="1.5" fill="#eb7055"/>
<circle cx="61.95" cy="255.96" r="0.36" fill="#d9cbc8"/>
<circle cx="72.4" cy="255.96" r="1.95" fill="#e20006"/>
<circle cx="82.85" cy="255.96" r="1.95" fill="#ea917d"/>
<circle cx="93.3" cy="255.96" r="0.36" fill="#e3b4a9"/>
<circle cx="103.75" cy="255.96" r="0.36" fill="#e3b4a9"/>
<circle cx="114.2" cy="255.96" r="0.36" fill="#e3b4a9"/>
<circle cx="124.65" cy="255.96" r="0.66" fill="#eb7055"/>
<circle cx="135.1" cy="255.96" r="0.66" fill="#ea917d"/>
<circle cx="145.55" cy="255.96" r="0.36" fill="#ea917d"/>
<circle cx="156" cy="255.96" r="1.5" fill="#eb7055"/>
<circle cx="166.45" cy="255.96" r="1.5" fill="#eb7055"/>
<circle cx="176.9" cy="255.96" r="2.4" fill="#e20006"/>
<circle cx="187.35" cy="255.96" r="0.36" fill="#ea917d"/>
<circle cx="197.8" cy="255.96" r="0.36" fill="#e3b4a9"/>
<circle cx="208.25" cy="255.96" r="0.36" fill="#ea917d"/>
<circle cx="218.7" cy="255.96" r="0.66" fill="#eb7055"/>
<circle cx="229.15" cy="255.96" r="0.66" fill="#eb7055"/>
<circle cx="239.6" cy="255.96" r="1" fill="#eb7055"/>
<circle cx="250.05" cy="255.96" r="0.36" fill="#e3b4a9"/>
<circle cx="260.5" cy="255.96" r="0.36" fill="#e3b4a9"/>
<circle cx="270.95" cy="255.96" r="0.36" fill="#d9cbc8"/>
<circle cx="281.4" cy="255.96" r="0.36" fill="#ea917d"/>
<circle cx="51.5" cy="261.61" r="0.36" fill="#e3b4a9"/>
<circle cx="61.95" cy="261.61" r="0.36" fill="#ea917d"/>
<circle cx="72.4" cy="261.61" r="1.95" fill="#ea917d"/>
<circle cx="82.85" cy="261.61" r="0.36" fill="#e3b4a9"/>
<circle cx="93.3" cy="261.61" r="1" fill="#e20006"/>
<circle cx="103.75" cy="261.61" r="1.5" fill="#e20006"/>
<circle cx="114.2" cy="261.61" r="1.5" fill="#e20006"/>
<circle cx="124.65" cy="261.61" r="1.5" fill="#e20006"/>
<circle cx="135.1" cy="261.61" r="0.36" fill="#e3b4a9"/>
<circle cx="145.55" cy="261.61" r="0.36" fill="#e3b4a9"/>
<circle cx="156" cy="261.61" r="1.5" fill="#e3b4a9"/>
<circle cx="166.45" cy="261.61" r="1.95" fill="#eb7055"/>
<circle cx="176.9" cy="261.61" r="0.36" fill="#ea917d"/>
<circle cx="187.35" cy="261.61" r="0.36" fill="#e3b4a9"/>
<circle cx="197.8" cy="261.61" r="0.36" fill="#e3b4a9"/>
<circle cx="208.25" cy="261.61" r="0.36" fill="#e3b4a9"/>
<circle cx="218.7" cy="261.61" r="0.36" fill="#e3b4a9"/>
<circle cx="229.15" cy="261.61" r="0.36" fill="#e3b4a9"/>
<circle cx="239.6" cy="261.61" r="0.36" fill="#e3b4a9"/>
<circle cx="250.05" cy="261.61" r="0.36" fill="#e3b4a9"/>
<circle cx="260.5" cy="261.61" r="0.36" fill="#e3b4a9"/>
<circle cx="270.95" cy="261.61" r="0.36" fill="#d9cbc8"/>
<circle cx="281.4" cy="261.61" r="2.4" fill="#ea917d"/>
<circle cx="51.5" cy="267.26" r="0.36" fill="#e3b4a9"/>
<circle cx="61.95" cy="267.26" r="1" fill="#e8482f"/>
<circle cx="72.4" cy="267.26" r="1.5" fill="#eb7055"/>
<circle cx="82.85" cy="267.26" r="0.66" fill="#ea917d"/>
<circle cx="93.3" cy="267.26" r="0.66" fill="#eb7055"/>
<circle cx="103.75" cy="267.26" r="1" fill="#e8482f"/>
<circle cx="114.2" cy="267.26" r="1" fill="#e8482f"/>
<circle cx="124.65" cy="267.26" r="0.66" fill="#eb7055"/>
<circle cx="135.1" cy="267.26" r="1" fill="#e8482f"/>
<circle cx="145.55" cy="267.26" r="0.36" fill="#e3b4a9"/>
<circle cx="156" cy="267.26" r="1.5" fill="#eb7055"/>
<circle cx="166.45" cy="267.26" r="1" fill="#ea917d"/>
<circle cx="176.9" cy="267.26" r="0.66" fill="#eb7055"/>
<circle cx="187.35" cy="267.26" r="0.36" fill="#ea917d"/>
<circle cx="197.8" cy="267.26" r="0.36" fill="#e3b4a9"/>
<circle cx="208.25" cy="267.26" r="0.66" fill="#e8482f"/>
<circle cx="218.7" cy="267.26" r="0.66" fill="#eb7055"/>
<circle cx="229.15" cy="267.26" r="0.36" fill="#ea917d"/>
<circle cx="239.6" cy="267.26" r="0.36" fill="#ea917d"/>
<circle cx="250.05" cy="267.26" r="1.5" fill="#e20006"/>
<circle cx="260.5" cy="267.26" r="0.66" fill="#e8482f"/>
<circle cx="270.95" cy="267.26" r="0.36" fill="#d9cbc8"/>
<circle cx="281.4" cy="267.26" r="0.66" fill="#eb7055"/>
<circle cx="51.5" cy="272.92" r="1.5" fill="#eb7055"/>
<circle cx="61.95" cy="272.92" r="0.66" fill="#ea917d"/>
<circle cx="72.4" cy="272.92" r="0.66" fill="#ea917d"/>
<circle cx="82.85" cy="272.92" r="1.95" fill="#eb7055"/>
<circle cx="93.3" cy="272.92" r="0.36" fill="#ea917d"/>
<circle cx="103.75" cy="272.92" r="0.36" fill="#ea917d"/>
<circle cx="114.2" cy="272.92" r="0.66" fill="#eb7055"/>
<circle cx="124.65" cy="272.92" r="0.66" fill="#ea917d"/>
<circle cx="135.1" cy="272.92" r="0.66" fill="#eb7055"/>
<circle cx="145.55" cy="272.92" r="0.66" fill="#e8482f"/>
<circle cx="156" cy="272.92" r="1.5" fill="#ea917d"/>
<circle cx="166.45" cy="272.92" r="1" fill="#ea917d"/>
<circle cx="176.9" cy="272.92" r="0.66" fill="#eb7055"/>
<circle cx="187.35" cy="272.92" r="0.66" fill="#e8482f"/>
<circle cx="197.8" cy="272.92" r="0.66" fill="#e8482f"/>
<circle cx="208.25" cy="272.92" r="0.66" fill="#e8482f"/>
<circle cx="218.7" cy="272.92" r="1" fill="#e8482f"/>
<circle cx="229.15" cy="272.92" r="1.95" fill="#eb7055"/>
<circle cx="239.6" cy="272.92" r="0.66" fill="#eb7055"/>
<circle cx="250.05" cy="272.92" r="0.36" fill="#ea917d"/>
<circle cx="260.5" cy="272.92" r="0.36" fill="#e3b4a9"/>
<circle cx="270.95" cy="272.92" r="0.36" fill="#e3b4a9"/>
<circle cx="281.4" cy="272.92" r="0.36" fill="#eb7055"/>
<circle cx="51.5" cy="278.57" r="0.36" fill="#eb7055"/>
<circle cx="61.95" cy="278.57" r="0.36" fill="#e3b4a9"/>
<circle cx="72.4" cy="278.57" r="0.66" fill="#eb7055"/>
<circle cx="82.85" cy="278.57" r="1.5" fill="#eb7055"/>
<circle cx="93.3" cy="278.57" r="0.36" fill="#e3b4a9"/>
<circle cx="103.75" cy="278.57" r="0.36" fill="#e3b4a9"/>
<circle cx="114.2" cy="278.57" r="0.36" fill="#ea917d"/>
<circle cx="124.65" cy="278.57" r="1" fill="#e8482f"/>
<circle cx="135.1" cy="278.57" r="0.36" fill="#ea917d"/>
<circle cx="145.55" cy="278.57" r="0.66" fill="#eb7055"/>
<circle cx="156" cy="278.57" r="1" fill="#ea917d"/>
<circle cx="166.45" cy="278.57" r="1.5" fill="#eb7055"/>
<circle cx="176.9" cy="278.57" r="1.95" fill="#eb7055"/>
<circle cx="187.35" cy="278.57" r="0.36" fill="#e3b4a9"/>
<circle cx="197.8" cy="278.57" r="0.66" fill="#e8482f"/>
<circle cx="208.25" cy="278.57" r="0.36" fill="#ea917d"/>
<circle cx="218.7" cy="278.57" r="0.36" fill="#e3b4a9"/>
<circle cx="229.15" cy="278.57" r="1" fill="#eb7055"/>
<circle cx="239.6" cy="278.57" r="0.36" fill="#ea917d"/>
<circle cx="250.05" cy="278.57" r="0.36" fill="#ea917d"/>
<circle cx="260.5" cy="278.57" r="0.36" fill="#e3b4a9"/>
<circle cx="270.95" cy="278.57" r="0.36" fill="#e3b4a9"/>
<circle cx="281.4" cy="278.57" r="0.36" fill="#eb7055"/>
<circle cx="51.5" cy="284.23" r="0.36" fill="#eb7055"/>
<circle cx="61.95" cy="284.23" r="0.66" fill="#eb7055"/>
<circle cx="72.4" cy="284.23" r="1.5" fill="#eb7055"/>
<circle cx="82.85" cy="284.23" r="0.66" fill="#eb7055"/>
<circle cx="93.3" cy="284.23" r="0.36" fill="#ea917d"/>
<circle cx="103.75" cy="284.23" r="0.66" fill="#eb7055"/>
<circle cx="114.2" cy="284.23" r="0.66" fill="#eb7055"/>
<circle cx="124.65" cy="284.23" r="0.66" fill="#eb7055"/>
<circle cx="135.1" cy="284.23" r="0.66" fill="#eb7055"/>
<circle cx="145.55" cy="284.23" r="0.36" fill="#ea917d"/>
<circle cx="156" cy="284.23" r="1.5" fill="#eb7055"/>
<circle cx="166.45" cy="284.23" r="1" fill="#e8482f"/>
<circle cx="176.9" cy="284.23" r="1" fill="#eb7055"/>
<circle cx="187.35" cy="284.23" r="0.36" fill="#ea917d"/>
<circle cx="197.8" cy="284.23" r="0.36" fill="#e3b4a9"/>
<circle cx="208.25" cy="284.23" r="0.36" fill="#ea917d"/>
<circle cx="218.7" cy="284.23" r="0.36" fill="#ea917d"/>
<circle cx="229.15" cy="284.23" r="0.36" fill="#ea917d"/>
<circle cx="239.6" cy="284.23" r="0.36" fill="#ea917d"/>
<circle cx="250.05" cy="284.23" r="0.36" fill="#ea917d"/>
<circle cx="260.5" cy="284.23" r="0.36" fill="#e3b4a9"/>
<circle cx="270.95" cy="284.23" r="0.36" fill="#e3b4a9"/>
<circle cx="281.4" cy="284.23" r="0.66" fill="#eb7055"/>
<circle cx="51.5" cy="289.88" r="0.36" fill="#eb7055"/>
<circle cx="61.95" cy="289.88" r="0.66" fill="#eb7055"/>
<circle cx="72.4" cy="289.88" r="1" fill="#eb7055"/>
<circle cx="82.85" cy="289.88" r="0.66" fill="#eb7055"/>
<circle cx="93.3" cy="289.88" r="0.36" fill="#ea917d"/>
<circle cx="103.75" cy="289.88" r="0.66" fill="#eb7055"/>
<circle cx="114.2" cy="289.88" r="0.66" fill="#eb7055"/>
<circle cx="124.65" cy="289.88" r="0.66" fill="#eb7055"/>
<circle cx="135.1" cy="289.88" r="0.66" fill="#eb7055"/>
<circle cx="145.55" cy="289.88" r="0.36" fill="#ea917d"/>
<circle cx="156" cy="289.88" r="1.5" fill="#eb7055"/>
<circle cx="166.45" cy="289.88" r="1" fill="#eb7055"/>
<circle cx="176.9" cy="289.88" r="0.66" fill="#eb7055"/>
<circle cx="187.35" cy="289.88" r="0.36" fill="#ea917d"/>
<circle cx="197.8" cy="289.88" r="0.66" fill="#eb7055"/>
<circle cx="208.25" cy="289.88" r="0.66" fill="#eb7055"/>
<circle cx="218.7" cy="289.88" r="0.36" fill="#ea917d"/>
<circle cx="229.15" cy="289.88" r="0.66" fill="#eb7055"/>
<circle cx="239.6" cy="289.88" r="0.36" fill="#ea917d"/>
<circle cx="250.05" cy="289.88" r="0.36" fill="#ea917d"/>
<circle cx="260.5" cy="289.88" r="0.66" fill="#e8482f"/>
<circle cx="270.95" cy="289.88" r="0.36" fill="#e3b4a9"/>
<circle cx="281.4" cy="289.88" r="2.4" fill="#e20006"/>
<circle cx="51.5" cy="295.54" r="0.36" fill="#eb7055"/>
<circle cx="61.95" cy="295.54" r="0.66" fill="#eb7055"/>
<circle cx="72.4" cy="295.54" r="1.5" fill="#eb7055"/>
<circle cx="82.85" cy="295.54" r="0.66" fill="#eb7055"/>
<circle cx="93.3" cy="295.54" r="0.36" fill="#ea917d"/>
<circle cx="103.75" cy="295.54" r="0.66" fill="#eb7055"/>
<circle cx="114.2" cy="295.54" r="0.36" fill="#ea917d"/>
<circle cx="124.65" cy="295.54" r="0.66" fill="#eb7055"/>
<circle cx="135.1" cy="295.54" r="0.66" fill="#eb7055"/>
<circle cx="145.55" cy="295.54" r="0.36" fill="#ea917d"/>
<circle cx="156" cy="295.54" r="1.95" fill="#eb7055"/>
<circle cx="166.45" cy="295.54" r="1.95" fill="#e20006"/>
<circle cx="176.9" cy="295.54" r="1.95" fill="#eb7055"/>
<circle cx="187.35" cy="295.54" r="0.66" fill="#e8482f"/>
<circle cx="197.8" cy="295.54" r="0.36" fill="#ea917d"/>
<circle cx="208.25" cy="295.54" r="0.66" fill="#eb7055"/>
<circle cx="218.7" cy="295.54" r="0.36" fill="#ea917d"/>
<circle cx="229.15" cy="295.54" r="0.66" fill="#eb7055"/>
<circle cx="239.6" cy="295.54" r="0.36" fill="#ea917d"/>
<circle cx="250.05" cy="295.54" r="0.36" fill="#ea917d"/>
<circle cx="260.5" cy="295.54" r="0.36" fill="#ea917d"/>
<circle cx="270.95" cy="295.54" r="1" fill="#e20006"/>
<circle cx="281.4" cy="295.54" r="0.66" fill="#eb7055"/>
<circle cx="51.5" cy="301.19" r="0.36" fill="#ea917d"/>
<circle cx="61.95" cy="301.19" r="1" fill="#eb7055"/>
<circle cx="72.4" cy="301.19" r="1" fill="#eb7055"/>
<circle cx="82.85" cy="301.19" r="0.66" fill="#eb7055"/>
<circle cx="93.3" cy="301.19" r="0.36" fill="#ea917d"/>
<circle cx="103.75" cy="301.19" r="0.66" fill="#eb7055"/>
<circle cx="114.2" cy="301.19" r="0.66" fill="#eb7055"/>
<circle cx="124.65" cy="301.19" r="1" fill="#eb7055"/>
<circle cx="135.1" cy="301.19" r="0.66" fill="#eb7055"/>
<circle cx="145.55" cy="301.19" r="0.36" fill="#ea917d"/>
<circle cx="156" cy="301.19" r="1.5" fill="#eb7055"/>
<circle cx="166.45" cy="301.19" r="1" fill="#ea917d"/>
<circle cx="176.9" cy="301.19" r="1.5" fill="#ea917d"/>
<circle cx="187.35" cy="301.19" r="0.66" fill="#e8482f"/>
<circle cx="197.8" cy="301.19" r="0.36" fill="#ea917d"/>
<circle cx="208.25" cy="301.19" r="0.66" fill="#eb7055"/>
<circle cx="218.7" cy="301.19" r="0.66" fill="#eb7055"/>
<circle cx="229.15" cy="301.19" r="0.66" fill="#eb7055"/>
<circle cx="239.6" cy="301.19" r="0.36" fill="#ea917d"/>
<circle cx="250.05" cy="301.19" r="0.36" fill="#ea917d"/>
<circle cx="260.5" cy="301.19" r="0.36" fill="#e3b4a9"/>
<circle cx="270.95" cy="301.19" r="0.36" fill="#e3b4a9"/>
<circle cx="281.4" cy="301.19" r="0.66" fill="#eb7055"/>
<circle cx="51.5" cy="306.85" r="0.66" fill="#eb7055"/>
<circle cx="61.95" cy="306.85" r="0.36" fill="#e3b4a9"/>
<circle cx="72.4" cy="306.85" r="0.66" fill="#eb7055"/>
<circle cx="82.85" cy="306.85" r="2.4" fill="#e20006"/>
<circle cx="93.3" cy="306.85" r="0.36" fill="#e3b4a9"/>
<circle cx="103.75" cy="306.85" r="0.36" fill="#e3b4a9"/>
<circle cx="114.2" cy="306.85" r="0.36" fill="#ea917d"/>
<circle cx="124.65" cy="306.85" r="0.66" fill="#eb7055"/>
<circle cx="135.1" cy="306.85" r="0.66" fill="#ea917d"/>
<circle cx="145.55" cy="306.85" r="0.66" fill="#eb7055"/>
<circle cx="156" cy="306.85" r="1" fill="#eb7055"/>
<circle cx="166.45" cy="306.85" r="1" fill="#ea917d"/>
<circle cx="176.9" cy="306.85" r="0.66" fill="#eb7055"/>
<circle cx="187.35" cy="306.85" r="0.36" fill="#e3b4a9"/>
<circle cx="197.8" cy="306.85" r="0.36" fill="#ea917d"/>
<circle cx="208.25" cy="306.85" r="0.36" fill="#e3b4a9"/>
<circle cx="218.7" cy="306.85" r="0.66" fill="#eb7055"/>
<circle cx="229.15" cy="306.85" r="1.95" fill="#eb7055"/>
<circle cx="239.6" cy="306.85" r="0.36" fill="#ea917d"/>
<circle cx="250.05" cy="306.85" r="0.36" fill="#ea917d"/>
<circle cx="260.5" cy="306.85" r="0.36" fill="#e3b4a9"/>
<circle cx="270.95" cy="306.85" r="0.36" fill="#d9cbc8"/>
<circle cx="281.4" cy="306.85" r="0.66" fill="#eb7055"/>
<circle cx="51.5" cy="312.5" r="0.36" fill="#ea917d"/>
<circle cx="61.95" cy="312.5" r="0.66" fill="#eb7055"/>
<circle cx="72.4" cy="312.5" r="1.5" fill="#ea917d"/>
<circle cx="82.85" cy="312.5" r="0.36" fill="#e3b4a9"/>
<circle cx="93.3" cy="312.5" r="0.66" fill="#e20006"/>
<circle cx="103.75" cy="312.5" r="1.5" fill="#e20006"/>
<circle cx="114.2" cy="312.5" r="1.5" fill="#e20006"/>
<circle cx="124.65" cy="312.5" r="1" fill="#eb7055"/>
<circle cx="135.1" cy="312.5" r="0.36" fill="#e3b4a9"/>
<circle cx="145.55" cy="312.5" r="0.36" fill="#e3b4a9"/>
<circle cx="156" cy="312.5" r="1.5" fill="#e3b4a9"/>
<circle cx="166.45" cy="312.5" r="1" fill="#e3b4a9"/>
<circle cx="176.9" cy="312.5" r="0.36" fill="#ea917d"/>
<circle cx="187.35" cy="312.5" r="0.36" fill="#e3b4a9"/>
<circle cx="197.8" cy="312.5" r="0.36" fill="#e3b4a9"/>
<circle cx="208.25" cy="312.5" r="0.36" fill="#e3b4a9"/>
<circle cx="218.7" cy="312.5" r="0.36" fill="#e3b4a9"/>
<circle cx="229.15" cy="312.5" r="0.36" fill="#ea917d"/>
<circle cx="239.6" cy="312.5" r="0.36" fill="#e3b4a9"/>
<circle cx="250.05" cy="312.5" r="0.36" fill="#ea917d"/>
<circle cx="260.5" cy="312.5" r="0.36" fill="#e3b4a9"/>
<circle cx="270.95" cy="312.5" r="0.36" fill="#d9cbc8"/>
<circle cx="281.4" cy="312.5" r="0.66" fill="#ea917d"/>
<circle cx="51.5" cy="318.16" r="1.95" fill="#e8482f"/>
<circle cx="61.95" cy="318.16" r="0.36" fill="#e3b4a9"/>
<circle cx="72.4" cy="318.16" r="0.66" fill="#ea917d"/>
<circle cx="82.85" cy="318.16" r="2.4" fill="#e20006"/>
<circle cx="93.3" cy="318.16" r="0.36" fill="#ea917d"/>
<circle cx="103.75" cy="318.16" r="0.36" fill="#e3b4a9"/>
<circle cx="114.2" cy="318.16" r="0.66" fill="#ea917d"/>
<circle cx="124.65" cy="318.16" r="0.66" fill="#ea917d"/>
<circle cx="135.1" cy="318.16" r="0.66" fill="#ea917d"/>
<circle cx="145.55" cy="318.16" r="0.36" fill="#ea917d"/>
<circle cx="156" cy="318.16" r="1.95" fill="#e8482f"/>
<circle cx="166.45" cy="318.16" r="1.5" fill="#eb7055"/>
<circle cx="176.9" cy="318.16" r="0.66" fill="#eb7055"/>
<circle cx="187.35" cy="318.16" r="0.66" fill="#eb7055"/>
<circle cx="197.8" cy="318.16" r="0.66" fill="#eb7055"/>
<circle cx="208.25" cy="318.16" r="0.36" fill="#ea917d"/>
<circle cx="218.7" cy="318.16" r="1.5" fill="#e20006"/>
<circle cx="229.15" cy="318.16" r="2.4" fill="#e20006"/>
<circle cx="239.6" cy="318.16" r="1.95" fill="#e20006"/>
<circle cx="250.05" cy="318.16" r="0.36" fill="#ea917d"/>
<circle cx="260.5" cy="318.16" r="0.36" fill="#e3b4a9"/>
<circle cx="270.95" cy="318.16" r="0.36" fill="#d9cbc8"/>
<circle cx="281.4" cy="318.16" r="0.66" fill="#eb7055"/>
<circle cx="51.5" cy="323.81" r="1.5" fill="#e8482f"/>
<circle cx="61.95" cy="323.81" r="0.36" fill="#e3b4a9"/>
<circle cx="72.4" cy="323.81" r="0.66" fill="#eb7055"/>
<circle cx="82.85" cy="323.81" r="1.95" fill="#eb7055"/>
<circle cx="93.3" cy="323.81" r="0.36" fill="#ea917d"/>
<circle cx="103.75" cy="323.81" r="0.36" fill="#e3b4a9"/>
<circle cx="114.2" cy="323.81" r="0.36" fill="#ea917d"/>
<circle cx="124.65" cy="323.81" r="0.66" fill="#eb7055"/>
<circle cx="135.1" cy="323.81" r="0.36" fill="#ea917d"/>
<circle cx="145.55" cy="323.81" r="0.66" fill="#e8482f"/>
<circle cx="156" cy="323.81" r="1.95" fill="#e8482f"/>
<circle cx="166.45" cy="323.81" r="1.5" fill="#eb7055"/>
<circle cx="176.9" cy="323.81" r="0.66" fill="#eb7055"/>
<circle cx="187.35" cy="323.81" r="0.36" fill="#ea917d"/>
<circle cx="197.8" cy="323.81" r="0.36" fill="#ea917d"/>
<circle cx="208.25" cy="323.81" r="0.36" fill="#ea917d"/>
<circle cx="218.7" cy="323.81" r="1" fill="#eb7055"/>
<circle cx="229.15" cy="323.81" r="1.5" fill="#eb7055"/>
<circle cx="239.6" cy="323.81" r="1.5" fill="#e8482f"/>
<circle cx="250.05" cy="323.81" r="0.36" fill="#ea917d"/>
<circle cx="260.5" cy="323.81" r="0.36" fill="#e3b4a9"/>
<circle cx="270.95" cy="323.81" r="0.36" fill="#d9cbc8"/>
<circle cx="281.4" cy="323.81" r="0.66" fill="#eb7055"/>
<circle cx="51.5" cy="329.47" r="0.66" fill="#eb7055"/>
<circle cx="61.95" cy="329.47" r="0.36" fill="#ea917d"/>
<circle cx="72.4" cy="329.47" r="1" fill="#eb7055"/>
<circle cx="82.85" cy="329.47" r="1.5" fill="#e8482f"/>
<circle cx="93.3" cy="329.47" r="0.36" fill="#ea917d"/>
<circle cx="103.75" cy="329.47" r="0.36" fill="#ea917d"/>
<circle cx="114.2" cy="329.47" r="0.66" fill="#eb7055"/>
<circle cx="124.65" cy="329.47" r="0.66" fill="#eb7055"/>
<circle cx="135.1" cy="329.47" r="0.36" fill="#ea917d"/>
<circle cx="145.55" cy="329.47" r="0.66" fill="#e8482f"/>
<circle cx="156" cy="329.47" r="1.5" fill="#ea917d"/>
<circle cx="166.45" cy="329.47" r="1.5" fill="#eb7055"/>
<circle cx="176.9" cy="329.47" r="1" fill="#eb7055"/>
<circle cx="187.35" cy="329.47" r="0.36" fill="#ea917d"/>
<circle cx="197.8" cy="329.47" r="0.66" fill="#eb7055"/>
<circle cx="208.25" cy="329.47" r="0.36" fill="#ea917d"/>
<circle cx="218.7" cy="329.47" r="0.66" fill="#eb7055"/>
<circle cx="229.15" cy="329.47" r="1.5" fill="#eb7055"/>
<circle cx="239.6" cy="329.47" r="0.66" fill="#eb7055"/>
<circle cx="250.05" cy="329.47" r="0.36" fill="#ea917d"/>
<circle cx="260.5" cy="329.47" r="0.36" fill="#e3b4a9"/>
<circle cx="270.95" cy="329.47" r="0.36" fill="#d9cbc8"/>
<circle cx="281.4" cy="329.47" r="2.4" fill="#e20006"/>
<circle cx="51.5" cy="335.12" r="1" fill="#eb7055"/>
<circle cx="61.95" cy="335.12" r="0.36" fill="#e3b4a9"/>
<circle cx="72.4" cy="335.12" r="1" fill="#ea917d"/>
<circle cx="82.85" cy="335.12" r="1.95" fill="#ea917d"/>
<circle cx="93.3" cy="335.12" r="0.36" fill="#e3b4a9"/>
<circle cx="103.75" cy="335.12" r="0.36" fill="#e3b4a9"/>
<circle cx="114.2" cy="335.12" r="0.36" fill="#e3b4a9"/>
<circle cx="124.65" cy="335.12" r="0.66" fill="#ea917d"/>
<circle cx="135.1" cy="335.12" r="0.36" fill="#ea917d"/>
<circle cx="145.55" cy="335.12" r="0.66" fill="#eb7055"/>
<circle cx="156" cy="335.12" r="0.66" fill="#d9cbc8"/>
<circle cx="166.45" cy="335.12" r="1.5" fill="#ea917d"/>
<circle cx="176.9" cy="335.12" r="1" fill="#eb7055"/>
<circle cx="187.35" cy="335.12" r="0.36" fill="#e3b4a9"/>
<circle cx="197.8" cy="335.12" r="0.36" fill="#ea917d"/>
<circle cx="208.25" cy="335.12" r="0.36" fill="#e3b4a9"/>
<circle cx="218.7" cy="335.12" r="0.66" fill="#eb7055"/>
<circle cx="229.15" cy="335.12" r="1.5" fill="#ea917d"/>
<circle cx="239.6" cy="335.12" r="0.36" fill="#e3b4a9"/>
<circle cx="250.05" cy="335.12" r="0.36" fill="#e3b4a9"/>
<circle cx="260.5" cy="335.12" r="0.36" fill="#e3b4a9"/>
<circle cx="270.95" cy="335.12" r="0.36" fill="#d9cbc8"/>
<circle cx="281.4" cy="335.12" r="0.36" fill="#ea917d"/>
<circle cx="51.5" cy="340.78" r="0.36" fill="#e3b4a9"/>
<circle cx="61.95" cy="340.78" r="0.66" fill="#eb7055"/>
<circle cx="72.4" cy="340.78" r="1.5" fill="#eb7055"/>
<circle cx="82.85" cy="340.78" r="0.36" fill="#e3b4a9"/>
<circle cx="93.3" cy="340.78" r="0.66" fill="#e8482f"/>
<circle cx="103.75" cy="340.78" r="1" fill="#e20006"/>
<circle cx="114.2" cy="340.78" r="0.66" fill="#e8482f"/>
<circle cx="124.65" cy="340.78" r="1" fill="#e20006"/>
<circle cx="135.1" cy="340.78" r="0.36" fill="#ea917d"/>
<circle cx="145.55" cy="340.78" r="0.36" fill="#e3b4a9"/>
<circle cx="156" cy="340.78" r="1.5" fill="#eb7055"/>
<circle cx="166.45" cy="340.78" r="1.95" fill="#eb7055"/>
<circle cx="176.9" cy="340.78" r="1.95" fill="#ea917d"/>
<circle cx="187.35" cy="340.78" r="0.36" fill="#ea917d"/>
<circle cx="197.8" cy="340.78" r="0.36" fill="#e3b4a9"/>
<circle cx="208.25" cy="340.78" r="0.66" fill="#eb7055"/>
<circle cx="218.7" cy="340.78" r="0.36" fill="#e3b4a9"/>
<circle cx="229.15" cy="340.78" r="0.36" fill="#e3b4a9"/>
<circle cx="239.6" cy="340.78" r="0.36" fill="#ea917d"/>
<circle cx="250.05" cy="340.78" r="0.36" fill="#ea917d"/>
<circle cx="260.5" cy="340.78" r="0.36" fill="#e3b4a9"/>
<circle cx="270.95" cy="340.78" r="0.36" fill="#d9cbc8"/>
<circle cx="281.4" cy="340.78" r="0.36" fill="#ea917d"/>
<circle cx="51.5" cy="346.44" r="1.5" fill="#e8482f"/>
<circle cx="61.95" cy="346.44" r="0.36" fill="#e3b4a9"/>
<circle cx="72.4" cy="346.44" r="0.66" fill="#eb7055"/>
<circle cx="82.85" cy="346.44" r="2.4" fill="#eb7055"/>
<circle cx="93.3" cy="346.44" r="0.36" fill="#ea917d"/>
<circle cx="103.75" cy="346.44" r="0.36" fill="#e3b4a9"/>
<circle cx="114.2" cy="346.44" r="0.36" fill="#ea917d"/>
<circle cx="124.65" cy="346.44" r="0.66" fill="#eb7055"/>
<circle cx="135.1" cy="346.44" r="0.36" fill="#ea917d"/>
<circle cx="145.55" cy="346.44" r="0.66" fill="#e8482f"/>
<circle cx="156" cy="346.44" r="1.95" fill="#e8482f"/>
<circle cx="166.45" cy="346.44" r="1.5" fill="#eb7055"/>
<circle cx="176.9" cy="346.44" r="1" fill="#eb7055"/>
<circle cx="187.35" cy="346.44" r="0.66" fill="#eb7055"/>
<circle cx="197.8" cy="346.44" r="1" fill="#e20006"/>
<circle cx="208.25" cy="346.44" r="0.66" fill="#eb7055"/>
<circle cx="218.7" cy="346.44" r="1" fill="#e8482f"/>
<circle cx="229.15" cy="346.44" r="2.4" fill="#e20006"/>
<circle cx="239.6" cy="346.44" r="0.66" fill="#eb7055"/>
<circle cx="250.05" cy="346.44" r="0.36" fill="#ea917d"/>
<circle cx="260.5" cy="346.44" r="0.36" fill="#e3b4a9"/>
<circle cx="270.95" cy="346.44" r="0.36" fill="#d9cbc8"/>
<circle cx="281.4" cy="346.44" r="0.66" fill="#eb7055"/>
<circle cx="51.5" cy="352.09" r="1.5" fill="#e8482f"/>
<circle cx="61.95" cy="352.09" r="0.36" fill="#e3b4a9"/>
<circle cx="72.4" cy="352.09" r="0.36" fill="#ea917d"/>
<circle cx="82.85" cy="352.09" r="1.95" fill="#e8482f"/>
<circle cx="93.3" cy="352.09" r="0.36" fill="#e3b4a9"/>
<circle cx="103.75" cy="352.09" r="0.36" fill="#e3b4a9"/>
<circle cx="114.2" cy="352.09" r="0.36" fill="#e3b4a9"/>
<circle cx="124.65" cy="352.09" r="0.36" fill="#ea917d"/>
<circle cx="135.1" cy="352.09" r="0.36" fill="#ea917d"/>
<circle cx="145.55" cy="352.09" r="0.36" fill="#ea917d"/>
<circle cx="156" cy="352.09" r="1" fill="#eb7055"/>
<circle cx="166.45" cy="352.09" r="1" fill="#eb7055"/>
<circle cx="176.9" cy="352.09" r="1.5" fill="#eb7055"/>
<circle cx="187.35" cy="352.09" r="0.66" fill="#e20006"/>
<circle cx="197.8" cy="352.09" r="1" fill="#e20006"/>
<circle cx="208.25" cy="352.09" r="0.66" fill="#eb7055"/>
<circle cx="218.7" cy="352.09" r="1" fill="#e20006"/>
<circle cx="229.15" cy="352.09" r="1.95" fill="#e8482f"/>
<circle cx="239.6" cy="352.09" r="0.36" fill="#ea917d"/>
<circle cx="250.05" cy="352.09" r="0.36" fill="#ea917d"/>
<circle cx="260.5" cy="352.09" r="0.36" fill="#e3b4a9"/>
<circle cx="270.95" cy="352.09" r="0.36" fill="#d9cbc8"/>
<circle cx="281.4" cy="352.09" r="0.36" fill="#ea917d"/>
<circle cx="51.5" cy="357.75" r="1.95" fill="#e20006"/>
<circle cx="61.95" cy="357.75" r="0.36" fill="#e3b4a9"/>
<circle cx="72.4" cy="357.75" r="1.5" fill="#eb7055"/>
<circle cx="82.85" cy="357.75" r="1.95" fill="#ea917d"/>
<circle cx="93.3" cy="357.75" r="0.36" fill="#e3b4a9"/>
<circle cx="103.75" cy="357.75" r="0.36" fill="#e3b4a9"/>
<circle cx="114.2" cy="357.75" r="0.36" fill="#ea917d"/>
<circle cx="124.65" cy="357.75" r="0.66" fill="#eb7055"/>
<circle cx="135.1" cy="357.75" r="0.66" fill="#ea917d"/>
<circle cx="145.55" cy="357.75" r="0.36" fill="#ea917d"/>
<circle cx="156" cy="357.75" r="1.5" fill="#ea917d"/>
<circle cx="166.45" cy="357.75" r="1.5" fill="#eb7055"/>
<circle cx="176.9" cy="357.75" r="1.5" fill="#eb7055"/>
<circle cx="187.35" cy="357.75" r="0.36" fill="#e3b4a9"/>
<circle cx="197.8" cy="357.75" r="0.36" fill="#e3b4a9"/>
<circle cx="208.25" cy="357.75" r="0.36" fill="#ea917d"/>
<circle cx="218.7" cy="357.75" r="0.66" fill="#eb7055"/>
<circle cx="229.15" cy="357.75" r="1.5" fill="#eb7055"/>
<circle cx="239.6" cy="357.75" r="0.36" fill="#ea917d"/>
<circle cx="250.05" cy="357.75" r="0.36" fill="#ea917d"/>
<circle cx="260.5" cy="357.75" r="0.36" fill="#e3b4a9"/>
<circle cx="270.95" cy="357.75" r="0.36" fill="#d9cbc8"/>
<circle cx="281.4" cy="357.75" r="0.36" fill="#ea917d"/>
<circle cx="51.5" cy="363.4" r="0.66" fill="#e8482f"/>
<circle cx="61.95" cy="363.4" r="0.66" fill="#eb7055"/>
<circle cx="72.4" cy="363.4" r="1.5" fill="#eb7055"/>
<circle cx="82.85" cy="363.4" r="1" fill="#eb7055"/>
<circle cx="93.3" cy="363.4" r="0.36" fill="#ea917d"/>
<circle cx="103.75" cy="363.4" r="0.66" fill="#eb7055"/>
<circle cx="114.2" cy="363.4" r="0.66" fill="#eb7055"/>
<circle cx="124.65" cy="363.4" r="0.66" fill="#eb7055"/>
<circle cx="135.1" cy="363.4" r="0.66" fill="#eb7055"/>
<circle cx="145.55" cy="363.4" r="0.36" fill="#ea917d"/>
<circle cx="156" cy="363.4" r="1.95" fill="#eb7055"/>
<circle cx="166.45" cy="363.4" r="1.5" fill="#eb7055"/>
<circle cx="176.9" cy="363.4" r="1" fill="#eb7055"/>
<circle cx="187.35" cy="363.4" r="0.36" fill="#ea917d"/>
<circle cx="197.8" cy="363.4" r="0.36" fill="#ea917d"/>
<circle cx="208.25" cy="363.4" r="0.36" fill="#ea917d"/>
<circle cx="218.7" cy="363.4" r="0.36" fill="#ea917d"/>
<circle cx="229.15" cy="363.4" r="0.66" fill="#eb7055"/>
<circle cx="239.6" cy="363.4" r="0.66" fill="#eb7055"/>
<circle cx="250.05" cy="363.4" r="0.66" fill="#eb7055"/>
<circle cx="260.5" cy="363.4" r="0.36" fill="#ea917d"/>
<circle cx="270.95" cy="363.4" r="0.36" fill="#e3b4a9"/>
<circle cx="281.4" cy="363.4" r="2.4" fill="#eb7055"/>
<circle cx="51.5" cy="369.06" r="0.36" fill="#ea917d"/>
<circle cx="61.95" cy="369.06" r="1" fill="#eb7055"/>
<circle cx="72.4" cy="369.06" r="1.5" fill="#eb7055"/>
<circle cx="82.85" cy="369.06" r="0.66" fill="#ea917d"/>
<circle cx="93.3" cy="369.06" r="0.36" fill="#ea917d"/>
<circle cx="103.75" cy="369.06" r="0.66" fill="#ea917d"/>
<circle cx="114.2" cy="369.06" r="0.66" fill="#ea917d"/>
<circle cx="124.65" cy="369.06" r="0.66" fill="#ea917d"/>
<circle cx="135.1" cy="369.06" r="1" fill="#eb7055"/>
<circle cx="145.55" cy="369.06" r="0.36" fill="#ea917d"/>
<circle cx="156" cy="369.06" r="1.5" fill="#ea917d"/>
<circle cx="166.45" cy="369.06" r="1.5" fill="#eb7055"/>
<circle cx="176.9" cy="369.06" r="2.4" fill="#e8482f"/>
<circle cx="187.35" cy="369.06" r="0.36" fill="#ea917d"/>
<circle cx="197.8" cy="369.06" r="0.36" fill="#e3b4a9"/>
<circle cx="208.25" cy="369.06" r="0.36" fill="#ea917d"/>
<circle cx="218.7" cy="369.06" r="0.36" fill="#ea917d"/>
<circle cx="229.15" cy="369.06" r="0.66" fill="#eb7055"/>
<circle cx="239.6" cy="369.06" r="0.36" fill="#ea917d"/>
<circle cx="250.05" cy="369.06" r="0.66" fill="#eb7055"/>
<circle cx="260.5" cy="369.06" r="0.36" fill="#e3b4a9"/>
<circle cx="270.95" cy="369.06" r="0.36" fill="#e3b4a9"/>
<circle cx="281.4" cy="369.06" r="0.36" fill="#ea917d"/>
<circle cx="51.5" cy="374.71" r="1.5" fill="#eb7055"/>
<circle cx="61.95" cy="374.71" r="0.36" fill="#ea917d"/>
<circle cx="72.4" cy="374.71" r="1" fill="#eb7055"/>
<circle cx="82.85" cy="374.71" r="1.95" fill="#eb7055"/>
<circle cx="93.3" cy="374.71" r="0.36" fill="#ea917d"/>
<circle cx="103.75" cy="374.71" r="0.66" fill="#eb7055"/>
<circle cx="114.2" cy="374.71" r="0.66" fill="#eb7055"/>
<circle cx="124.65" cy="374.71" r="0.66" fill="#eb7055"/>
<circle cx="135.1" cy="374.71" r="0.66" fill="#ea917d"/>
<circle cx="145.55" cy="374.71" r="0.36" fill="#ea917d"/>
<circle cx="156" cy="374.71" r="1.95" fill="#e8482f"/>
<circle cx="166.45" cy="374.71" r="1" fill="#ea917d"/>
<circle cx="176.9" cy="374.71" r="0.36" fill="#e3b4a9"/>
<circle cx="187.35" cy="374.71" r="0.36" fill="#e3b4a9"/>
<circle cx="197.8" cy="374.71" r="0.36" fill="#e3b4a9"/>
<circle cx="208.25" cy="374.71" r="0.36" fill="#e3b4a9"/>
<circle cx="218.7" cy="374.71" r="0.66" fill="#eb7055"/>
<circle cx="229.15" cy="374.71" r="0.66" fill="#eb7055"/>
<circle cx="239.6" cy="374.71" r="2.4" fill="#e20006"/>
<circle cx="250.05" cy="374.71" r="0.36" fill="#ea917d"/>
<circle cx="260.5" cy="374.71" r="0.36" fill="#e3b4a9"/>
<circle cx="270.95" cy="374.71" r="0.36" fill="#d9cbc8"/>
<circle cx="281.4" cy="374.71" r="0.36" fill="#ea917d"/>
<circle cx="51.5" cy="380.37" r="0.36" fill="#ea917d"/>
<circle cx="61.95" cy="380.37" r="0.66" fill="#ea917d"/>
<circle cx="72.4" cy="380.37" r="1.95" fill="#e8482f"/>
<circle cx="82.85" cy="380.37" r="0.36" fill="#ea917d"/>
<circle cx="93.3" cy="380.37" r="0.66" fill="#eb7055"/>
<circle cx="103.75" cy="380.37" r="1.5" fill="#e8482f"/>
<circle cx="114.2" cy="380.37" r="0.66" fill="#eb7055"/>
<circle cx="124.65" cy="380.37" r="1" fill="#eb7055"/>
<circle cx="135.1" cy="380.37" r="0.66" fill="#ea917d"/>
<circle cx="145.55" cy="380.37" r="0.36" fill="#ea917d"/>
<circle cx="156" cy="380.37" r="1.95" fill="#eb7055"/>
<circle cx="166.45" cy="380.37" r="1.5" fill="#ea917d"/>
<circle cx="176.9" cy="380.37" r="1.5" fill="#eb7055"/>
<circle cx="187.35" cy="380.37" r="0.36" fill="#e3b4a9"/>
<circle cx="197.8" cy="380.37" r="0.36" fill="#e3b4a9"/>
<circle cx="208.25" cy="380.37" r="0.36" fill="#ea917d"/>
<circle cx="218.7" cy="380.37" r="0.36" fill="#e3b4a9"/>
<circle cx="229.15" cy="380.37" r="0.36" fill="#e3b4a9"/>
<circle cx="239.6" cy="380.37" r="0.36" fill="#ea917d"/>
<circle cx="250.05" cy="380.37" r="0.36" fill="#ea917d"/>
<circle cx="260.5" cy="380.37" r="0.36" fill="#e3b4a9"/>
<circle cx="270.95" cy="380.37" r="0.36" fill="#d9cbc8"/>
<circle cx="281.4" cy="380.37" r="0.36" fill="#ea917d"/>
<circle cx="51.5" cy="386.02" r="0.36" fill="#ea917d"/>
<circle cx="61.95" cy="386.02" r="0.66" fill="#ea917d"/>
<circle cx="72.4" cy="386.02" r="2.4" fill="#e20006"/>
<circle cx="82.85" cy="386.02" r="0.36" fill="#ea917d"/>
<circle cx="93.3" cy="386.02" r="0.36" fill="#ea917d"/>
<circle cx="103.75" cy="386.02" r="0.66" fill="#ea917d"/>
<circle cx="114.2" cy="386.02" r="0.66" fill="#ea917d"/>
<circle cx="124.65" cy="386.02" r="1" fill="#eb7055"/>
<circle cx="135.1" cy="386.02" r="0.36" fill="#ea917d"/>
<circle cx="145.55" cy="386.02" r="0.36" fill="#e3b4a9"/>
<circle cx="156" cy="386.02" r="1.95" fill="#e8482f"/>
<circle cx="166.45" cy="386.02" r="1.5" fill="#eb7055"/>
<circle cx="176.9" cy="386.02" r="1.95" fill="#eb7055"/>
<circle cx="187.35" cy="386.02" r="0.36" fill="#e3b4a9"/>
<circle cx="197.8" cy="386.02" r="0.36" fill="#e3b4a9"/>
<circle cx="208.25" cy="386.02" r="0.36" fill="#e3b4a9"/>
<circle cx="218.7" cy="386.02" r="0.36" fill="#e3b4a9"/>
<circle cx="229.15" cy="386.02" r="0.36" fill="#e3b4a9"/>
<circle cx="239.6" cy="386.02" r="0.36" fill="#ea917d"/>
<circle cx="250.05" cy="386.02" r="0.36" fill="#ea917d"/>
<circle cx="260.5" cy="386.02" r="0.36" fill="#e3b4a9"/>
<circle cx="270.95" cy="386.02" r="0.36" fill="#d9cbc8"/>
<circle cx="281.4" cy="386.02" r="0.36" fill="#ea917d"/>
<circle cx="51.5" cy="391.68" r="0.36" fill="#e3b4a9"/>
<circle cx="61.95" cy="391.68" r="1" fill="#e8482f"/>
<circle cx="72.4" cy="391.68" r="1.5" fill="#eb7055"/>
<circle cx="82.85" cy="391.68" r="0.36" fill="#e3b4a9"/>
<circle cx="93.3" cy="391.68" r="0.66" fill="#eb7055"/>
<circle cx="103.75" cy="391.68" r="0.66" fill="#ea917d"/>
<circle cx="114.2" cy="391.68" r="1" fill="#e8482f"/>
<circle cx="124.65" cy="391.68" r="0.66" fill="#ea917d"/>
<circle cx="135.1" cy="391.68" r="1" fill="#e20006"/>
<circle cx="145.55" cy="391.68" r="0.36" fill="#e3b4a9"/>
<circle cx="156" cy="391.68" r="1.5" fill="#eb7055"/>
<circle cx="166.45" cy="391.68" r="0.66" fill="#e3b4a9"/>
<circle cx="176.9" cy="391.68" r="0.66" fill="#eb7055"/>
<circle cx="187.35" cy="391.68" r="0.36" fill="#e3b4a9"/>
<circle cx="197.8" cy="391.68" r="0.36" fill="#e3b4a9"/>
<circle cx="208.25" cy="391.68" r="1" fill="#e20006"/>
<circle cx="218.7" cy="391.68" r="0.36" fill="#e3b4a9"/>
<circle cx="229.15" cy="391.68" r="0.36" fill="#e3b4a9"/>
<circle cx="239.6" cy="391.68" r="0.36" fill="#e3b4a9"/>
<circle cx="250.05" cy="391.68" r="0.36" fill="#e3b4a9"/>
<circle cx="260.5" cy="391.68" r="1" fill="#e20006"/>
<circle cx="270.95" cy="391.68" r="0.36" fill="#d9cbc8"/>
<circle cx="281.4" cy="391.68" r="0.66" fill="#eb7055"/>
<text x="292" y="290.8" font-size="4.5" fill="#111">Percent Expressed</text>
<circle cx="295" cy="295.9" r="0.2" fill="#000"/>
<text x="300" y="297.2" font-size="3.7" fill="#222">0</text>
<circle cx="295" cy="300.97" r="0.8" fill="#000"/>
<text x="300" y="302.27" font-size="3.7" fill="#222">25</text>
<circle cx="295" cy="306.04" r="1.4" fill="#000"/>
<text x="300" y="307.34" font-size="3.7" fill="#222">50</text>
<circle cx="295" cy="311.11" r="1.9" fill="#000"/>
<text x="300" y="312.41" font-size="3.7" fill="#222">75</text>
<circle cx="295" cy="316.18" r="2.4" fill="#000"/>
<text x="300" y="317.48" font-size="3.7" fill="#222">100</text>
<text x="292" y="327.5" font-size="4.5" fill="#111">Average Expression</text>
<defs><linearGradient id="gb" x1="0" y1="0" x2="0" y2="1"><stop offset="0" stop-color="#e20006"/><stop offset=".25" stop-color="#e9573c"/><stop offset=".5" stop-color="#eb846d"/><stop offset=".75" stop-color="#e5ac9f"/><stop offset="1" stop-color="#d5d3d3"/></linearGradient></defs>
<rect x="292" y="330" width="5.8" height="25" fill="url(#gb)"/>
<path d="M292 332.6h1.1m3.6 0h1.1" stroke="#fff" stroke-width=".3"/>
<text x="299.3" y="333.9" font-size="3.7" fill="#222">2</text>
<path d="M292 338.05h1.1m3.6 0h1.1" stroke="#fff" stroke-width=".3"/>
<text x="299.3" y="339.35" font-size="3.7" fill="#222">1</text>
<path d="M292 343.5h1.1m3.6 0h1.1" stroke="#fff" stroke-width=".3"/>
<text x="299.3" y="344.8" font-size="3.7" fill="#222">0</text>
<path d="M292 348.95h1.1m3.6 0h1.1" stroke="#fff" stroke-width=".3"/>
<text x="299.3" y="350.25" font-size="3.7" fill="#222">−1</text>
<path d="M292 354.4h1.1m3.6 0h1.1" stroke="#fff" stroke-width=".3"/>
<text x="299.3" y="355.7" font-size="3.7" fill="#222">−2</text>
<text x="330.1" y="11.3" font-size="16.4">C</text>
<text x="411.8" y="19.2" font-size="8.7" text-anchor="middle" fill="#111">CD8 T cells</text>
<rect x="335.2" y="24.3" width="13.95" height="6.37" fill="#f8c9c2"/>
<rect x="349.15" y="24.3" width="13.95" height="6.37" fill="#ffffff"/>
<rect x="363.09" y="24.3" width="13.95" height="6.37" fill="#a6ddea"/>
<rect x="377.04" y="24.3" width="13.95" height="6.37" fill="#caebf2"/>
<rect x="390.98" y="24.3" width="13.95" height="6.37" fill="#e4f5f9"/>
<rect x="404.93" y="24.3" width="13.95" height="6.37" fill="#fce8e6"/>
<rect x="418.87" y="24.3" width="13.95" height="6.37" fill="#edf8fb"/>
<rect x="432.82" y="24.3" width="13.95" height="6.37" fill="#a6ddea"/>
<rect x="446.76" y="24.3" width="13.95" height="6.37" fill="#fef6f5"/>
<rect x="460.71" y="24.3" width="13.95" height="6.37" fill="#7acce0"/>
<rect x="474.65" y="24.3" width="13.95" height="6.37" fill="#f7c4bd"/>
<text x="490.8" y="28.63" font-size="3.38" fill="#000">Naive</text>
<rect x="335.2" y="30.67" width="13.95" height="6.37" fill="#b8e4ee"/>
<rect x="349.15" y="30.67" width="13.95" height="6.37" fill="#fcedeb"/>
<rect x="363.09" y="30.67" width="13.95" height="6.37" fill="#c1e7f0"/>
<rect x="377.04" y="30.67" width="13.95" height="6.37" fill="#edf8fb"/>
<rect x="390.98" y="30.67" width="13.95" height="6.37" fill="#edf8fb"/>
<rect x="404.93" y="30.67" width="13.95" height="6.37" fill="#fefafa"/>
<rect x="418.87" y="30.67" width="13.95" height="6.37" fill="#fdf2f0"/>
<rect x="432.82" y="30.67" width="13.95" height="6.37" fill="#afe0ec"/>
<rect x="446.76" y="30.67" width="13.95" height="6.37" fill="#f6bcb3"/>
<rect x="460.71" y="30.67" width="13.95" height="6.37" fill="#5fc2d9"/>
<rect x="474.65" y="30.67" width="13.95" height="6.37" fill="#f9d2cc"/>
<text x="490.8" y="35" font-size="3.38" fill="#000">Activation/Effector function</text>
<rect x="335.2" y="37.03" width="13.95" height="6.37" fill="#afe0ec"/>
<rect x="349.15" y="37.03" width="13.95" height="6.37" fill="#caebf2"/>
<rect x="363.09" y="37.03" width="13.95" height="6.37" fill="#f1988b"/>
<rect x="377.04" y="37.03" width="13.95" height="6.37" fill="#fcedeb"/>
<rect x="390.98" y="37.03" width="13.95" height="6.37" fill="#f8cec7"/>
<rect x="404.93" y="37.03" width="13.95" height="6.37" fill="#caebf2"/>
<rect x="418.87" y="37.03" width="13.95" height="6.37" fill="#d2eef4"/>
<rect x="432.82" y="37.03" width="13.95" height="6.37" fill="#f6fcfd"/>
<rect x="446.76" y="37.03" width="13.95" height="6.37" fill="#a6ddea"/>
<rect x="460.71" y="37.03" width="13.95" height="6.37" fill="#ffffff"/>
<rect x="474.65" y="37.03" width="13.95" height="6.37" fill="#b8e4ee"/>
<text x="490.8" y="41.37" font-size="3.38" fill="#000">Exhaustion</text>
<path d="M335.2 24.3H488.6M335.2 30.67H488.6M335.2 37.03H488.6M335.2 43.4H488.6M335.2 24.3V43.4M349.15 24.3V43.4M363.09 24.3V43.4M377.04 24.3V43.4M390.98 24.3V43.4M404.93 24.3V43.4M418.87 24.3V43.4M432.82 24.3V43.4M446.76 24.3V43.4M460.71 24.3V43.4M474.65 24.3V43.4M488.6 24.3V43.4" stroke="#000" stroke-width=".66" fill="none" stroke-linecap="square"/>
<text x="545.2" y="36" font-size="6.7" fill="#00A087">Differentiation</text>
<rect x="335.2" y="48.5" width="13.95" height="6.39" fill="#afe0ec"/>
<rect x="349.15" y="48.5" width="13.95" height="6.39" fill="#f5b7ae"/>
<rect x="363.09" y="48.5" width="13.95" height="6.39" fill="#f6fcfd"/>
<rect x="377.04" y="48.5" width="13.95" height="6.39" fill="#caebf2"/>
<rect x="390.98" y="48.5" width="13.95" height="6.39" fill="#caebf2"/>
<rect x="404.93" y="48.5" width="13.95" height="6.39" fill="#ffffff"/>
<rect x="418.87" y="48.5" width="13.95" height="6.39" fill="#f7c4bd"/>
<rect x="432.82" y="48.5" width="13.95" height="6.39" fill="#a6ddea"/>
<rect x="446.76" y="48.5" width="13.95" height="6.39" fill="#c1e7f0"/>
<rect x="460.71" y="48.5" width="13.95" height="6.39" fill="#a6ddea"/>
<rect x="474.65" y="48.5" width="13.95" height="6.39" fill="#f7c4bd"/>
<text x="490.8" y="52.85" font-size="3.38" fill="#000">TCR Signaling</text>
<rect x="335.2" y="54.89" width="13.95" height="6.39" fill="#d2eef4"/>
<rect x="349.15" y="54.89" width="13.95" height="6.39" fill="#94d6e6"/>
<rect x="363.09" y="54.89" width="13.95" height="6.39" fill="#f6fcfd"/>
<rect x="377.04" y="54.89" width="13.95" height="6.39" fill="#f6bcb3"/>
<rect x="390.98" y="54.89" width="13.95" height="6.39" fill="#afe0ec"/>
<rect x="404.93" y="54.89" width="13.95" height="6.39" fill="#e4f5f9"/>
<rect x="418.87" y="54.89" width="13.95" height="6.39" fill="#edf8fb"/>
<rect x="432.82" y="54.89" width="13.95" height="6.39" fill="#f8c9c2"/>
<rect x="446.76" y="54.89" width="13.95" height="6.39" fill="#f8c9c2"/>
<rect x="460.71" y="54.89" width="13.95" height="6.39" fill="#caebf2"/>
<rect x="474.65" y="54.89" width="13.95" height="6.39" fill="#a6ddea"/>
<text x="490.8" y="59.24" font-size="3.38" fill="#000">Cytotoxicity</text>
<rect x="335.2" y="61.28" width="13.95" height="6.39" fill="#94d6e6"/>
<rect x="349.15" y="61.28" width="13.95" height="6.39" fill="#c1e7f0"/>
<rect x="363.09" y="61.28" width="13.95" height="6.39" fill="#fadbd7"/>
<rect x="377.04" y="61.28" width="13.95" height="6.39" fill="#f6bcb3"/>
<rect x="390.98" y="61.28" width="13.95" height="6.39" fill="#f7c4bd"/>
<rect x="404.93" y="61.28" width="13.95" height="6.39" fill="#ffffff"/>
<rect x="418.87" y="61.28" width="13.95" height="6.39" fill="#c1e7f0"/>
<rect x="432.82" y="61.28" width="13.95" height="6.39" fill="#ffffff"/>
<rect x="446.76" y="61.28" width="13.95" height="6.39" fill="#c1e7f0"/>
<rect x="460.71" y="61.28" width="13.95" height="6.39" fill="#94d6e6"/>
<rect x="474.65" y="61.28" width="13.95" height="6.39" fill="#c1e7f0"/>
<text x="490.8" y="65.63" font-size="3.38" fill="#000">Cytokine/Cytokine receptor</text>
<rect x="335.2" y="67.67" width="13.95" height="6.39" fill="#dbf1f7"/>
<rect x="349.15" y="67.67" width="13.95" height="6.39" fill="#d2eef4"/>
<rect x="363.09" y="67.67" width="13.95" height="6.39" fill="#f6fcfd"/>
<rect x="377.04" y="67.67" width="13.95" height="6.39" fill="#ffffff"/>
<rect x="390.98" y="67.67" width="13.95" height="6.39" fill="#94d6e6"/>
<rect x="404.93" y="67.67" width="13.95" height="6.39" fill="#caebf2"/>
<rect x="418.87" y="67.67" width="13.95" height="6.39" fill="#ec7868"/>
<rect x="432.82" y="67.67" width="13.95" height="6.39" fill="#ffffff"/>
<rect x="446.76" y="67.67" width="13.95" height="6.39" fill="#e4f5f9"/>
<rect x="460.71" y="67.67" width="13.95" height="6.39" fill="#a6ddea"/>
<rect x="474.65" y="67.67" width="13.95" height="6.39" fill="#caebf2"/>
<text x="490.8" y="72.02" font-size="3.38" fill="#000">Chemokine/Chemokine receptor</text>
<rect x="335.2" y="74.06" width="13.95" height="6.39" fill="#ffffff"/>
<rect x="349.15" y="74.06" width="13.95" height="6.39" fill="#e4f5f9"/>
<rect x="363.09" y="74.06" width="13.95" height="6.39" fill="#8bd3e4"/>
<rect x="377.04" y="74.06" width="13.95" height="6.39" fill="#caebf2"/>
<rect x="390.98" y="74.06" width="13.95" height="6.39" fill="#ef8e81"/>
<rect x="404.93" y="74.06" width="13.95" height="6.39" fill="#e4f5f9"/>
<rect x="418.87" y="74.06" width="13.95" height="6.39" fill="#f9d2cc"/>
<rect x="432.82" y="74.06" width="13.95" height="6.39" fill="#c1e7f0"/>
<rect x="446.76" y="74.06" width="13.95" height="6.39" fill="#b8e4ee"/>
<rect x="460.71" y="74.06" width="13.95" height="6.39" fill="#b8e4ee"/>
<rect x="474.65" y="74.06" width="13.95" height="6.39" fill="#fce8e6"/>
<text x="490.8" y="78.41" font-size="3.38" fill="#000">Senescence</text>
<rect x="335.2" y="80.45" width="13.95" height="6.39" fill="#caebf2"/>
<rect x="349.15" y="80.45" width="13.95" height="6.39" fill="#c1e7f0"/>
<rect x="363.09" y="80.45" width="13.95" height="6.39" fill="#fadbd7"/>
<rect x="377.04" y="80.45" width="13.95" height="6.39" fill="#fcedeb"/>
<rect x="390.98" y="80.45" width="13.95" height="6.39" fill="#94d6e6"/>
<rect x="404.93" y="80.45" width="13.95" height="6.39" fill="#f8c9c2"/>
<rect x="418.87" y="80.45" width="13.95" height="6.39" fill="#f9d2cc"/>
<rect x="432.82" y="80.45" width="13.95" height="6.39" fill="#f6c0b8"/>
<rect x="446.76" y="80.45" width="13.95" height="6.39" fill="#caebf2"/>
<rect x="460.71" y="80.45" width="13.95" height="6.39" fill="#9ddae8"/>
<rect x="474.65" y="80.45" width="13.95" height="6.39" fill="#b8e4ee"/>
<text x="490.8" y="84.8" font-size="3.38" fill="#000">Anergy</text>
<rect x="335.2" y="86.85" width="13.95" height="6.39" fill="#caebf2"/>
<rect x="349.15" y="86.85" width="13.95" height="6.39" fill="#f6fcfd"/>
<rect x="363.09" y="86.85" width="13.95" height="6.39" fill="#b8e4ee"/>
<rect x="377.04" y="86.85" width="13.95" height="6.39" fill="#ffffff"/>
<rect x="390.98" y="86.85" width="13.95" height="6.39" fill="#d2eef4"/>
<rect x="404.93" y="86.85" width="13.95" height="6.39" fill="#d2eef4"/>
<rect x="418.87" y="86.85" width="13.95" height="6.39" fill="#ffffff"/>
<rect x="432.82" y="86.85" width="13.95" height="6.39" fill="#a6ddea"/>
<rect x="446.76" y="86.85" width="13.95" height="6.39" fill="#fbe0dc"/>
<rect x="460.71" y="86.85" width="13.95" height="6.39" fill="#a6ddea"/>
<rect x="474.65" y="86.85" width="13.95" height="6.39" fill="#ee8172"/>
<text x="490.8" y="91.19" font-size="3.38" fill="#000">NFKB Signaling</text>
<rect x="335.2" y="93.24" width="13.95" height="6.39" fill="#caebf2"/>
<rect x="349.15" y="93.24" width="13.95" height="6.39" fill="#d2eef4"/>
<rect x="363.09" y="93.24" width="13.95" height="6.39" fill="#d2eef4"/>
<rect x="377.04" y="93.24" width="13.95" height="6.39" fill="#e4f5f9"/>
<rect x="390.98" y="93.24" width="13.95" height="6.39" fill="#d2eef4"/>
<rect x="404.93" y="93.24" width="13.95" height="6.39" fill="#e7543f"/>
<rect x="418.87" y="93.24" width="13.95" height="6.39" fill="#dbf1f7"/>
<rect x="432.82" y="93.24" width="13.95" height="6.39" fill="#caebf2"/>
<rect x="446.76" y="93.24" width="13.95" height="6.39" fill="#c1e7f0"/>
<rect x="460.71" y="93.24" width="13.95" height="6.39" fill="#fdf2f0"/>
<rect x="474.65" y="93.24" width="13.95" height="6.39" fill="#caebf2"/>
<text x="490.8" y="97.58" font-size="3.38" fill="#000">Stress response</text>
<rect x="335.2" y="99.63" width="13.95" height="6.39" fill="#caebf2"/>
<rect x="349.15" y="99.63" width="13.95" height="6.39" fill="#e4f5f9"/>
<rect x="363.09" y="99.63" width="13.95" height="6.39" fill="#ffffff"/>
<rect x="377.04" y="99.63" width="13.95" height="6.39" fill="#fadbd7"/>
<rect x="390.98" y="99.63" width="13.95" height="6.39" fill="#f9d2cc"/>
<rect x="404.93" y="99.63" width="13.95" height="6.39" fill="#4dbbd5"/>
<rect x="418.87" y="99.63" width="13.95" height="6.39" fill="#edf8fb"/>
<rect x="432.82" y="99.63" width="13.95" height="6.39" fill="#e4f5f9"/>
<rect x="446.76" y="99.63" width="13.95" height="6.39" fill="#f7c4bd"/>
<rect x="460.71" y="99.63" width="13.95" height="6.39" fill="#afe0ec"/>
<rect x="474.65" y="99.63" width="13.95" height="6.39" fill="#c1e7f0"/>
<text x="490.8" y="103.97" font-size="3.38" fill="#000">MAPK Signaling</text>
<rect x="335.2" y="106.02" width="13.95" height="6.39" fill="#e4f5f9"/>
<rect x="349.15" y="106.02" width="13.95" height="6.39" fill="#afe0ec"/>
<rect x="363.09" y="106.02" width="13.95" height="6.39" fill="#ffffff"/>
<rect x="377.04" y="106.02" width="13.95" height="6.39" fill="#fadbd7"/>
<rect x="390.98" y="106.02" width="13.95" height="6.39" fill="#caebf2"/>
<rect x="404.93" y="106.02" width="13.95" height="6.39" fill="#dbf1f7"/>
<rect x="418.87" y="106.02" width="13.95" height="6.39" fill="#e4f5f9"/>
<rect x="432.82" y="106.02" width="13.95" height="6.39" fill="#f9d6d2"/>
<rect x="446.76" y="106.02" width="13.95" height="6.39" fill="#f4aea4"/>
<rect x="460.71" y="106.02" width="13.95" height="6.39" fill="#caebf2"/>
<rect x="474.65" y="106.02" width="13.95" height="6.39" fill="#71c9dd"/>
<text x="490.8" y="110.36" font-size="3.38" fill="#000">Adhesion</text>
<rect x="335.2" y="112.41" width="13.95" height="6.39" fill="#e4f5f9"/>
<rect x="349.15" y="112.41" width="13.95" height="6.39" fill="#b8e4ee"/>
<rect x="363.09" y="112.41" width="13.95" height="6.39" fill="#caebf2"/>
<rect x="377.04" y="112.41" width="13.95" height="6.39" fill="#f9d2cc"/>
<rect x="390.98" y="112.41" width="13.95" height="6.39" fill="#dbf1f7"/>
<rect x="404.93" y="112.41" width="13.95" height="6.39" fill="#fdf2f0"/>
<rect x="418.87" y="112.41" width="13.95" height="6.39" fill="#edf8fb"/>
<rect x="432.82" y="112.41" width="13.95" height="6.39" fill="#f8c9c2"/>
<rect x="446.76" y="112.41" width="13.95" height="6.39" fill="#f8c9c2"/>
<rect x="460.71" y="112.41" width="13.95" height="6.39" fill="#68c5db"/>
<rect x="474.65" y="112.41" width="13.95" height="6.39" fill="#d2eef4"/>
<text x="490.8" y="116.75" font-size="3.38" fill="#000">IFN Response</text>
<path d="M335.2 48.5H488.6M335.2 54.89H488.6M335.2 61.28H488.6M335.2 67.67H488.6M335.2 74.06H488.6M335.2 80.45H488.6M335.2 86.85H488.6M335.2 93.24H488.6M335.2 99.63H488.6M335.2 106.02H488.6M335.2 112.41H488.6M335.2 118.8H488.6M335.2 48.5V118.8M349.15 48.5V118.8M363.09 48.5V118.8M377.04 48.5V118.8M390.98 48.5V118.8M404.93 48.5V118.8M418.87 48.5V118.8M432.82 48.5V118.8M446.76 48.5V118.8M460.71 48.5V118.8M474.65 48.5V118.8M488.6 48.5V118.8" stroke="#000" stroke-width=".66" fill="none" stroke-linecap="square"/>
<text x="545.2" y="86.5" font-size="6.7" fill="#8491B4">Function</text>
<rect x="335.2" y="124.2" width="13.95" height="6.5" fill="#c1e7f0"/>
<rect x="349.15" y="124.2" width="13.95" height="6.5" fill="#c1e7f0"/>
<rect x="363.09" y="124.2" width="13.95" height="6.5" fill="#ffffff"/>
<rect x="377.04" y="124.2" width="13.95" height="6.5" fill="#fef6f5"/>
<rect x="390.98" y="124.2" width="13.95" height="6.5" fill="#c1e7f0"/>
<rect x="404.93" y="124.2" width="13.95" height="6.5" fill="#dbf1f7"/>
<rect x="418.87" y="124.2" width="13.95" height="6.5" fill="#caebf2"/>
<rect x="432.82" y="124.2" width="13.95" height="6.5" fill="#fbe4e1"/>
<rect x="446.76" y="124.2" width="13.95" height="6.5" fill="#a6ddea"/>
<rect x="460.71" y="124.2" width="13.95" height="6.5" fill="#ec7868"/>
<rect x="474.65" y="124.2" width="13.95" height="6.5" fill="#afe0ec"/>
<text x="490.8" y="128.6" font-size="3.38" fill="#000">Oxidative phosphorylation</text>
<rect x="335.2" y="130.7" width="13.95" height="6.5" fill="#c1e7f0"/>
<rect x="349.15" y="130.7" width="13.95" height="6.5" fill="#caebf2"/>
<rect x="363.09" y="130.7" width="13.95" height="6.5" fill="#fdf2f0"/>
<rect x="377.04" y="130.7" width="13.95" height="6.5" fill="#fdf2f0"/>
<rect x="390.98" y="130.7" width="13.95" height="6.5" fill="#dbf1f7"/>
<rect x="404.93" y="130.7" width="13.95" height="6.5" fill="#e4f5f9"/>
<rect x="418.87" y="130.7" width="13.95" height="6.5" fill="#caebf2"/>
<rect x="432.82" y="130.7" width="13.95" height="6.5" fill="#ffffff"/>
<rect x="446.76" y="130.7" width="13.95" height="6.5" fill="#b8e4ee"/>
<rect x="460.71" y="130.7" width="13.95" height="6.5" fill="#ec7868"/>
<rect x="474.65" y="130.7" width="13.95" height="6.5" fill="#c1e7f0"/>
<text x="490.8" y="135.1" font-size="3.38" fill="#000">Glycolysis</text>
<rect x="335.2" y="137.2" width="13.95" height="6.5" fill="#94d6e6"/>
<rect x="349.15" y="137.2" width="13.95" height="6.5" fill="#94d6e6"/>
<rect x="363.09" y="137.2" width="13.95" height="6.5" fill="#fdf2f0"/>
<rect x="377.04" y="137.2" width="13.95" height="6.5" fill="#fdf2f0"/>
<rect x="390.98" y="137.2" width="13.95" height="6.5" fill="#e4f5f9"/>
<rect x="404.93" y="137.2" width="13.95" height="6.5" fill="#fdf2f0"/>
<rect x="418.87" y="137.2" width="13.95" height="6.5" fill="#a6ddea"/>
<rect x="432.82" y="137.2" width="13.95" height="6.5" fill="#e4f5f9"/>
<rect x="446.76" y="137.2" width="13.95" height="6.5" fill="#b8e4ee"/>
<rect x="460.71" y="137.2" width="13.95" height="6.5" fill="#ef8a7c"/>
<rect x="474.65" y="137.2" width="13.95" height="6.5" fill="#ffffff"/>
<text x="490.8" y="141.6" font-size="3.38" fill="#000">Fatty acid metabolism</text>
<path d="M335.2 124.2H488.6M335.2 130.7H488.6M335.2 137.2H488.6M335.2 143.7H488.6M335.2 124.2V143.7M349.15 124.2V143.7M363.09 124.2V143.7M377.04 124.2V143.7M390.98 124.2V143.7M404.93 124.2V143.7M418.87 124.2V143.7M432.82 124.2V143.7M446.76 124.2V143.7M460.71 124.2V143.7M474.65 124.2V143.7M488.6 124.2V143.7" stroke="#000" stroke-width=".66" fill="none" stroke-linecap="square"/>
<text x="545.2" y="136.5" font-size="6.7" fill="#F39B7F">Metabolism</text>
<rect x="335.2" y="149.2" width="13.95" height="6.5" fill="#afe0ec"/>
<rect x="349.15" y="149.2" width="13.95" height="6.5" fill="#82cfe2"/>
<rect x="363.09" y="149.2" width="13.95" height="6.5" fill="#ffffff"/>
<rect x="377.04" y="149.2" width="13.95" height="6.5" fill="#fbe4e1"/>
<rect x="390.98" y="149.2" width="13.95" height="6.5" fill="#b8e4ee"/>
<rect x="404.93" y="149.2" width="13.95" height="6.5" fill="#f09386"/>
<rect x="418.87" y="149.2" width="13.95" height="6.5" fill="#caebf2"/>
<rect x="432.82" y="149.2" width="13.95" height="6.5" fill="#fadbd7"/>
<rect x="446.76" y="149.2" width="13.95" height="6.5" fill="#f6fcfd"/>
<rect x="460.71" y="149.2" width="13.95" height="6.5" fill="#afe0ec"/>
<rect x="474.65" y="149.2" width="13.95" height="6.5" fill="#c1e7f0"/>
<text x="490.8" y="153.6" font-size="3.38" fill="#000">Pro-apoptosis</text>
<rect x="335.2" y="155.7" width="13.95" height="6.5" fill="#edf8fb"/>
<rect x="349.15" y="155.7" width="13.95" height="6.5" fill="#dbf1f7"/>
<rect x="363.09" y="155.7" width="13.95" height="6.5" fill="#b8e4ee"/>
<rect x="377.04" y="155.7" width="13.95" height="6.5" fill="#c1e7f0"/>
<rect x="390.98" y="155.7" width="13.95" height="6.5" fill="#d2eef4"/>
<rect x="404.93" y="155.7" width="13.95" height="6.5" fill="#e7543f"/>
<rect x="418.87" y="155.7" width="13.95" height="6.5" fill="#edf8fb"/>
<rect x="432.82" y="155.7" width="13.95" height="6.5" fill="#d2eef4"/>
<rect x="446.76" y="155.7" width="13.95" height="6.5" fill="#e4f5f9"/>
<rect x="460.71" y="155.7" width="13.95" height="6.5" fill="#a6ddea"/>
<rect x="474.65" y="155.7" width="13.95" height="6.5" fill="#caebf2"/>
<text x="490.8" y="160.1" font-size="3.38" fill="#000">Anti-apoptosis</text>
<path d="M335.2 149.2H488.6M335.2 155.7H488.6M335.2 162.2H488.6M335.2 149.2V162.2M349.15 149.2V162.2M363.09 149.2V162.2M377.04 149.2V162.2M390.98 149.2V162.2M404.93 149.2V162.2M418.87 149.2V162.2M432.82 149.2V162.2M446.76 149.2V162.2M460.71 149.2V162.2M474.65 149.2V162.2M488.6 149.2V162.2" stroke="#000" stroke-width=".66" fill="none" stroke-linecap="square"/>
<text x="545.2" y="157.9" font-size="6.7" fill="#DC0000">Apoptosis</text>
<text transform="translate(343.27,165.3) rotate(-90)" font-size="3.1" text-anchor="end" fill="#111">c3_CD8_Tn</text>
<text transform="translate(357.22,165.3) rotate(-90)" font-size="3.1" text-anchor="end" fill="#111">c6_CD8_Trm</text>
<text transform="translate(371.16,165.3) rotate(-90)" font-size="3.1" text-anchor="end" fill="#111">c7_CD8_Tex</text>
<text transform="translate(385.11,165.3) rotate(-90)" font-size="3.1" text-anchor="end" fill="#111">c8_CD8_Tx</text>
<text transform="translate(399.05,165.3) rotate(-90)" font-size="3.1" text-anchor="end" fill="#111">c10_CD8_Tcem</text>
<text transform="translate(413,165.3) rotate(-90)" font-size="3.1" text-anchor="end" fill="#111">c11_CD8_Tstr</text>
<text transform="translate(426.95,165.3) rotate(-90)" font-size="3.1" text-anchor="end" fill="#111">c12_CD8_early_Tem</text>
<text transform="translate(440.89,165.3) rotate(-90)" font-size="3.1" text-anchor="end" fill="#111">c13_CD8_Tem</text>
<text transform="translate(454.84,165.3) rotate(-90)" font-size="3.1" text-anchor="end" fill="#111">c15_NKT_FCGR3A</text>
<text transform="translate(468.78,165.3) rotate(-90)" font-size="3.1" text-anchor="end" fill="#111">c21_CD8_MKI67</text>
<text transform="translate(482.73,165.3) rotate(-90)" font-size="3.1" text-anchor="end" fill="#111">c24_CD8_MAIT</text>
<defs><linearGradient id="gc" x1="0" y1="0" x2="0" y2="1"><stop offset="0" stop-color="#e64b35"/><stop offset="0.0237154" stop-color="#e64b35"/><stop offset="0.664032" stop-color="#ffffff"/><stop offset="0.98419" stop-color="#4dbbd5"/><stop offset="1" stop-color="#4dbbd5"/></linearGradient></defs>
<rect x="598" y="54.8" width="8.3" height="75.9" fill="url(#gc)"/>
<path d="M598 56.6h1.6m5.1 0h1.6" stroke="#fff" stroke-width=".4"/>
<text x="608.6" y="58.8" font-size="6.3" fill="#111">4</text>
<path d="M598 80.8h1.6m5.1 0h1.6" stroke="#fff" stroke-width=".4"/>
<text x="608.6" y="83" font-size="6.3" fill="#111">2</text>
<path d="M598 105.1h1.6m5.1 0h1.6" stroke="#fff" stroke-width=".4"/>
<text x="608.6" y="107.3" font-size="6.3" fill="#111">0</text>
<path d="M598 129.4h1.6m5.1 0h1.6" stroke="#fff" stroke-width=".4"/>
<text x="608.6" y="131.6" font-size="6.3" fill="#111">−2</text>
<text transform="translate(594.6,93) rotate(-90)" font-size="6.5" font-weight="bold" text-anchor="middle" fill="#000">Signature Score</text>
<text x="330.2" y="230.5" font-size="16.4">D</text>
<text x="414.2" y="243.1" font-size="8.7" text-anchor="middle" fill="#111">CD4 T cells</text>
<rect x="335.4" y="248.1" width="13.17" height="7.15" fill="#caebf2"/>
<rect x="348.57" y="248.1" width="13.17" height="7.15" fill="#e4f5f9"/>
<rect x="361.73" y="248.1" width="13.17" height="7.15" fill="#fcedeb"/>
<rect x="374.9" y="248.1" width="13.17" height="7.15" fill="#a6ddea"/>
<rect x="388.07" y="248.1" width="13.17" height="7.15" fill="#fadbd7"/>
<rect x="401.23" y="248.1" width="13.17" height="7.15" fill="#f2a59a"/>
<rect x="414.4" y="248.1" width="13.17" height="7.15" fill="#afe0ec"/>
<rect x="427.57" y="248.1" width="13.17" height="7.15" fill="#caebf2"/>
<rect x="440.73" y="248.1" width="13.17" height="7.15" fill="#c1e7f0"/>
<rect x="453.9" y="248.1" width="13.17" height="7.15" fill="#e4f5f9"/>
<rect x="467.07" y="248.1" width="13.17" height="7.15" fill="#d2eef4"/>
<rect x="480.23" y="248.1" width="13.17" height="7.15" fill="#f09386"/>
<text x="496" y="252.82" font-size="3.38" fill="#000">Naive</text>
<rect x="335.4" y="255.25" width="13.17" height="7.15" fill="#a6ddea"/>
<rect x="348.57" y="255.25" width="13.17" height="7.15" fill="#f8c9c2"/>
<rect x="361.73" y="255.25" width="13.17" height="7.15" fill="#b8e4ee"/>
<rect x="374.9" y="255.25" width="13.17" height="7.15" fill="#c1e7f0"/>
<rect x="388.07" y="255.25" width="13.17" height="7.15" fill="#fbe4e1"/>
<rect x="401.23" y="255.25" width="13.17" height="7.15" fill="#b8e4ee"/>
<rect x="414.4" y="255.25" width="13.17" height="7.15" fill="#caebf2"/>
<rect x="427.57" y="255.25" width="13.17" height="7.15" fill="#f9d2cc"/>
<rect x="440.73" y="255.25" width="13.17" height="7.15" fill="#fef6f5"/>
<rect x="453.9" y="255.25" width="13.17" height="7.15" fill="#f6c0b8"/>
<rect x="467.07" y="255.25" width="13.17" height="7.15" fill="#b8e4ee"/>
<rect x="480.23" y="255.25" width="13.17" height="7.15" fill="#f6c0b8"/>
<text x="496" y="259.97" font-size="3.38" fill="#000">Activation/Effector function</text>
<path d="M335.4 248.1H493.4M335.4 255.25H493.4M335.4 262.4H493.4M335.4 248.1V262.4M348.57 248.1V262.4M361.73 248.1V262.4M374.9 248.1V262.4M388.07 248.1V262.4M401.23 248.1V262.4M414.4 248.1V262.4M427.57 248.1V262.4M440.73 248.1V262.4M453.9 248.1V262.4M467.07 248.1V262.4M480.23 248.1V262.4M493.4 248.1V262.4" stroke="#000" stroke-width=".66" fill="none" stroke-linecap="square"/>
<text x="552" y="257.8" font-size="6.7" fill="#00A087">Differentiation</text>
<rect x="335.4" y="267.7" width="13.17" height="7.16" fill="#f2a59a"/>
<rect x="348.57" y="267.7" width="13.17" height="7.16" fill="#b8e4ee"/>
<rect x="361.73" y="267.7" width="13.17" height="7.16" fill="#afe0ec"/>
<rect x="374.9" y="267.7" width="13.17" height="7.16" fill="#e4f5f9"/>
<rect x="388.07" y="267.7" width="13.17" height="7.16" fill="#d2eef4"/>
<rect x="401.23" y="267.7" width="13.17" height="7.16" fill="#a6ddea"/>
<rect x="414.4" y="267.7" width="13.17" height="7.16" fill="#f2a59a"/>
<rect x="427.57" y="267.7" width="13.17" height="7.16" fill="#dbf1f7"/>
<rect x="440.73" y="267.7" width="13.17" height="7.16" fill="#f8c9c2"/>
<rect x="453.9" y="267.7" width="13.17" height="7.16" fill="#d2eef4"/>
<rect x="467.07" y="267.7" width="13.17" height="7.16" fill="#fbe4e1"/>
<rect x="480.23" y="267.7" width="13.17" height="7.16" fill="#afe0ec"/>
<text x="496" y="272.43" font-size="3.38" fill="#000">Exhaustion</text>
<rect x="335.4" y="274.86" width="13.17" height="7.16" fill="#f8c9c2"/>
<rect x="348.57" y="274.86" width="13.17" height="7.16" fill="#fdf1ef"/>
<rect x="361.73" y="274.86" width="13.17" height="7.16" fill="#b8e4ee"/>
<rect x="374.9" y="274.86" width="13.17" height="7.16" fill="#e4f5f9"/>
<rect x="388.07" y="274.86" width="13.17" height="7.16" fill="#d2eef4"/>
<rect x="401.23" y="274.86" width="13.17" height="7.16" fill="#56bed7"/>
<rect x="414.4" y="274.86" width="13.17" height="7.16" fill="#e4f5f9"/>
<rect x="427.57" y="274.86" width="13.17" height="7.16" fill="#f6c0b8"/>
<rect x="440.73" y="274.86" width="13.17" height="7.16" fill="#f8c9c2"/>
<rect x="453.9" y="274.86" width="13.17" height="7.16" fill="#fdf1ef"/>
<rect x="467.07" y="274.86" width="13.17" height="7.16" fill="#e4f5f9"/>
<rect x="480.23" y="274.86" width="13.17" height="7.16" fill="#caebf2"/>
<text x="496" y="279.59" font-size="3.38" fill="#000">TCR Signaling</text>
<rect x="335.4" y="282.02" width="13.17" height="7.16" fill="#e4f5f9"/>
<rect x="348.57" y="282.02" width="13.17" height="7.16" fill="#dbf1f7"/>
<rect x="361.73" y="282.02" width="13.17" height="7.16" fill="#caebf2"/>
<rect x="374.9" y="282.02" width="13.17" height="7.16" fill="#f6c0b8"/>
<rect x="388.07" y="282.02" width="13.17" height="7.16" fill="#afe0ec"/>
<rect x="401.23" y="282.02" width="13.17" height="7.16" fill="#9ddae8"/>
<rect x="414.4" y="282.02" width="13.17" height="7.16" fill="#f9d2cc"/>
<rect x="427.57" y="282.02" width="13.17" height="7.16" fill="#fdf1ef"/>
<rect x="440.73" y="282.02" width="13.17" height="7.16" fill="#f4aea4"/>
<rect x="453.9" y="282.02" width="13.17" height="7.16" fill="#ffffff"/>
<rect x="467.07" y="282.02" width="13.17" height="7.16" fill="#ffffff"/>
<rect x="480.23" y="282.02" width="13.17" height="7.16" fill="#94d6e6"/>
<text x="496" y="286.75" font-size="3.38" fill="#000">Cytotoxicity</text>
<rect x="335.4" y="289.18" width="13.17" height="7.16" fill="#f2a59a"/>
<rect x="348.57" y="289.18" width="13.17" height="7.16" fill="#dbf1f7"/>
<rect x="361.73" y="289.18" width="13.17" height="7.16" fill="#d2eef4"/>
<rect x="374.9" y="289.18" width="13.17" height="7.16" fill="#fbe4e1"/>
<rect x="388.07" y="289.18" width="13.17" height="7.16" fill="#b8e4ee"/>
<rect x="401.23" y="289.18" width="13.17" height="7.16" fill="#a6ddea"/>
<rect x="414.4" y="289.18" width="13.17" height="7.16" fill="#caebf2"/>
<rect x="427.57" y="289.18" width="13.17" height="7.16" fill="#f5b7ae"/>
<rect x="440.73" y="289.18" width="13.17" height="7.16" fill="#fbe4e1"/>
<rect x="453.9" y="289.18" width="13.17" height="7.16" fill="#e4f5f9"/>
<rect x="467.07" y="289.18" width="13.17" height="7.16" fill="#fcedeb"/>
<rect x="480.23" y="289.18" width="13.17" height="7.16" fill="#94d6e6"/>
<text x="496" y="293.91" font-size="3.38" fill="#000">Cytokine/Cytokine receptor</text>
<rect x="335.4" y="296.34" width="13.17" height="7.16" fill="#b8e4ee"/>
<rect x="348.57" y="296.34" width="13.17" height="7.16" fill="#edf8fb"/>
<rect x="361.73" y="296.34" width="13.17" height="7.16" fill="#dbf1f7"/>
<rect x="374.9" y="296.34" width="13.17" height="7.16" fill="#edf8fb"/>
<rect x="388.07" y="296.34" width="13.17" height="7.16" fill="#c1e7f0"/>
<rect x="401.23" y="296.34" width="13.17" height="7.16" fill="#a6ddea"/>
<rect x="414.4" y="296.34" width="13.17" height="7.16" fill="#ec7868"/>
<rect x="427.57" y="296.34" width="13.17" height="7.16" fill="#f5b7ae"/>
<rect x="440.73" y="296.34" width="13.17" height="7.16" fill="#edf8fb"/>
<rect x="453.9" y="296.34" width="13.17" height="7.16" fill="#ffffff"/>
<rect x="467.07" y="296.34" width="13.17" height="7.16" fill="#edf8fb"/>
<rect x="480.23" y="296.34" width="13.17" height="7.16" fill="#afe0ec"/>
<text x="496" y="301.07" font-size="3.38" fill="#000">Chemokine/Chemokine receptor</text>
<rect x="335.4" y="303.5" width="13.17" height="7.16" fill="#edf8fb"/>
<rect x="348.57" y="303.5" width="13.17" height="7.16" fill="#c1e7f0"/>
<rect x="361.73" y="303.5" width="13.17" height="7.16" fill="#b8e4ee"/>
<rect x="374.9" y="303.5" width="13.17" height="7.16" fill="#caebf2"/>
<rect x="388.07" y="303.5" width="13.17" height="7.16" fill="#c1e7f0"/>
<rect x="401.23" y="303.5" width="13.17" height="7.16" fill="#afe0ec"/>
<rect x="414.4" y="303.5" width="13.17" height="7.16" fill="#fef6f5"/>
<rect x="427.57" y="303.5" width="13.17" height="7.16" fill="#dbf1f7"/>
<rect x="440.73" y="303.5" width="13.17" height="7.16" fill="#ec7868"/>
<rect x="453.9" y="303.5" width="13.17" height="7.16" fill="#b8e4ee"/>
<rect x="467.07" y="303.5" width="13.17" height="7.16" fill="#e4f5f9"/>
<rect x="480.23" y="303.5" width="13.17" height="7.16" fill="#f5b7ae"/>
<text x="496" y="308.23" font-size="3.38" fill="#000">Stress response</text>
<rect x="335.4" y="310.66" width="13.17" height="7.16" fill="#fbe4e1"/>
<rect x="348.57" y="310.66" width="13.17" height="7.16" fill="#a6ddea"/>
<rect x="361.73" y="310.66" width="13.17" height="7.16" fill="#f5b7ae"/>
<rect x="374.9" y="310.66" width="13.17" height="7.16" fill="#c1e7f0"/>
<rect x="388.07" y="310.66" width="13.17" height="7.16" fill="#caebf2"/>
<rect x="401.23" y="310.66" width="13.17" height="7.16" fill="#f6c0b8"/>
<rect x="414.4" y="310.66" width="13.17" height="7.16" fill="#e4f5f9"/>
<rect x="427.57" y="310.66" width="13.17" height="7.16" fill="#82cfe2"/>
<rect x="440.73" y="310.66" width="13.17" height="7.16" fill="#dbf1f7"/>
<rect x="453.9" y="310.66" width="13.17" height="7.16" fill="#caebf2"/>
<rect x="467.07" y="310.66" width="13.17" height="7.16" fill="#f6c0b8"/>
<rect x="480.23" y="310.66" width="13.17" height="7.16" fill="#fdf1ef"/>
<text x="496" y="315.39" font-size="3.38" fill="#000">Adhesion</text>
<rect x="335.4" y="317.82" width="13.17" height="7.16" fill="#edf8fb"/>
<rect x="348.57" y="317.82" width="13.17" height="7.16" fill="#caebf2"/>
<rect x="361.73" y="317.82" width="13.17" height="7.16" fill="#d2eef4"/>
<rect x="374.9" y="317.82" width="13.17" height="7.16" fill="#caebf2"/>
<rect x="388.07" y="317.82" width="13.17" height="7.16" fill="#caebf2"/>
<rect x="401.23" y="317.82" width="13.17" height="7.16" fill="#b8e4ee"/>
<rect x="414.4" y="317.82" width="13.17" height="7.16" fill="#d2eef4"/>
<rect x="427.57" y="317.82" width="13.17" height="7.16" fill="#caebf2"/>
<rect x="440.73" y="317.82" width="13.17" height="7.16" fill="#dbf1f7"/>
<rect x="453.9" y="317.82" width="13.17" height="7.16" fill="#d2eef4"/>
<rect x="467.07" y="317.82" width="13.17" height="7.16" fill="#e64b35"/>
<rect x="480.23" y="317.82" width="13.17" height="7.16" fill="#d2eef4"/>
<text x="496" y="322.55" font-size="3.38" fill="#000">IFN Response</text>
<rect x="335.4" y="324.98" width="13.17" height="7.16" fill="#ef8a7c"/>
<rect x="348.57" y="324.98" width="13.17" height="7.16" fill="#b8e4ee"/>
<rect x="361.73" y="324.98" width="13.17" height="7.16" fill="#b8e4ee"/>
<rect x="374.9" y="324.98" width="13.17" height="7.16" fill="#caebf2"/>
<rect x="388.07" y="324.98" width="13.17" height="7.16" fill="#caebf2"/>
<rect x="401.23" y="324.98" width="13.17" height="7.16" fill="#a6ddea"/>
<rect x="414.4" y="324.98" width="13.17" height="7.16" fill="#fbe4e1"/>
<rect x="427.57" y="324.98" width="13.17" height="7.16" fill="#f6fcfd"/>
<rect x="440.73" y="324.98" width="13.17" height="7.16" fill="#f9d2cc"/>
<rect x="453.9" y="324.98" width="13.17" height="7.16" fill="#caebf2"/>
<rect x="467.07" y="324.98" width="13.17" height="7.16" fill="#f8c9c2"/>
<rect x="480.23" y="324.98" width="13.17" height="7.16" fill="#a6ddea"/>
<text x="496" y="329.71" font-size="3.38" fill="#000">Treg signature</text>
<rect x="335.4" y="332.14" width="13.17" height="7.16" fill="#ec7868"/>
<rect x="348.57" y="332.14" width="13.17" height="7.16" fill="#caebf2"/>
<rect x="361.73" y="332.14" width="13.17" height="7.16" fill="#c1e7f0"/>
<rect x="374.9" y="332.14" width="13.17" height="7.16" fill="#caebf2"/>
<rect x="388.07" y="332.14" width="13.17" height="7.16" fill="#d2eef4"/>
<rect x="401.23" y="332.14" width="13.17" height="7.16" fill="#94d6e6"/>
<rect x="414.4" y="332.14" width="13.17" height="7.16" fill="#fcedeb"/>
<rect x="427.57" y="332.14" width="13.17" height="7.16" fill="#f9d2cc"/>
<rect x="440.73" y="332.14" width="13.17" height="7.16" fill="#ffffff"/>
<rect x="453.9" y="332.14" width="13.17" height="7.16" fill="#c1e7f0"/>
<rect x="467.07" y="332.14" width="13.17" height="7.16" fill="#f8c9c2"/>
<rect x="480.23" y="332.14" width="13.17" height="7.16" fill="#a6ddea"/>
<text x="496" y="336.87" font-size="3.38" fill="#000">Costimulatory molecules</text>
<path d="M335.4 267.7H493.4M335.4 274.86H493.4M335.4 282.02H493.4M335.4 289.18H493.4M335.4 296.34H493.4M335.4 303.5H493.4M335.4 310.66H493.4M335.4 317.82H493.4M335.4 324.98H493.4M335.4 332.14H493.4M335.4 339.3H493.4M335.4 267.7V339.3M348.57 267.7V339.3M361.73 267.7V339.3M374.9 267.7V339.3M388.07 267.7V339.3M401.23 267.7V339.3M414.4 267.7V339.3M427.57 267.7V339.3M440.73 267.7V339.3M453.9 267.7V339.3M467.07 267.7V339.3M480.23 267.7V339.3M493.4 267.7V339.3" stroke="#000" stroke-width=".66" fill="none" stroke-linecap="square"/>
<text x="552" y="306" font-size="6.7" fill="#8491B4">Function</text>
<rect x="335.4" y="345.2" width="13.17" height="7.1" fill="#fadbd7"/>
<rect x="348.57" y="345.2" width="13.17" height="7.1" fill="#dbf1f7"/>
<rect x="361.73" y="345.2" width="13.17" height="7.1" fill="#edf8fb"/>
<rect x="374.9" y="345.2" width="13.17" height="7.1" fill="#f8c9c2"/>
<rect x="388.07" y="345.2" width="13.17" height="7.1" fill="#b8e4ee"/>
<rect x="401.23" y="345.2" width="13.17" height="7.1" fill="#afe0ec"/>
<rect x="414.4" y="345.2" width="13.17" height="7.1" fill="#f9d2cc"/>
<rect x="427.57" y="345.2" width="13.17" height="7.1" fill="#f6fcfd"/>
<rect x="440.73" y="345.2" width="13.17" height="7.1" fill="#a6ddea"/>
<rect x="453.9" y="345.2" width="13.17" height="7.1" fill="#ef8a7c"/>
<rect x="467.07" y="345.2" width="13.17" height="7.1" fill="#e4f5f9"/>
<rect x="480.23" y="345.2" width="13.17" height="7.1" fill="#8bd3e4"/>
<text x="496" y="349.9" font-size="3.38" fill="#000">OXPHOS</text>
<rect x="335.4" y="352.3" width="13.17" height="7.1" fill="#fcedeb"/>
<rect x="348.57" y="352.3" width="13.17" height="7.1" fill="#e4f5f9"/>
<rect x="361.73" y="352.3" width="13.17" height="7.1" fill="#b8e4ee"/>
<rect x="374.9" y="352.3" width="13.17" height="7.1" fill="#fcedeb"/>
<rect x="388.07" y="352.3" width="13.17" height="7.1" fill="#c1e7f0"/>
<rect x="401.23" y="352.3" width="13.17" height="7.1" fill="#8bd3e4"/>
<rect x="414.4" y="352.3" width="13.17" height="7.1" fill="#f6c0b8"/>
<rect x="427.57" y="352.3" width="13.17" height="7.1" fill="#fadbd7"/>
<rect x="440.73" y="352.3" width="13.17" height="7.1" fill="#f19c90"/>
<rect x="453.9" y="352.3" width="13.17" height="7.1" fill="#afe0ec"/>
<rect x="467.07" y="352.3" width="13.17" height="7.1" fill="#ffffff"/>
<rect x="480.23" y="352.3" width="13.17" height="7.1" fill="#caebf2"/>
<text x="496" y="357" font-size="3.38" fill="#000">Glycolysis</text>
<rect x="335.4" y="359.4" width="13.17" height="7.1" fill="#fefaf9"/>
<rect x="348.57" y="359.4" width="13.17" height="7.1" fill="#dbf1f7"/>
<rect x="361.73" y="359.4" width="13.17" height="7.1" fill="#caebf2"/>
<rect x="374.9" y="359.4" width="13.17" height="7.1" fill="#f5b7ae"/>
<rect x="388.07" y="359.4" width="13.17" height="7.1" fill="#b8e4ee"/>
<rect x="401.23" y="359.4" width="13.17" height="7.1" fill="#8bd3e4"/>
<rect x="414.4" y="359.4" width="13.17" height="7.1" fill="#f2a59a"/>
<rect x="427.57" y="359.4" width="13.17" height="7.1" fill="#ffffff"/>
<rect x="440.73" y="359.4" width="13.17" height="7.1" fill="#f9d2cc"/>
<rect x="453.9" y="359.4" width="13.17" height="7.1" fill="#b8e4ee"/>
<rect x="467.07" y="359.4" width="13.17" height="7.1" fill="#fbe4e1"/>
<rect x="480.23" y="359.4" width="13.17" height="7.1" fill="#afe0ec"/>
<text x="496" y="364.1" font-size="3.38" fill="#000">Lipid metabolism</text>
<path d="M335.4 345.2H493.4M335.4 352.3H493.4M335.4 359.4H493.4M335.4 366.5H493.4M335.4 345.2V366.5M348.57 345.2V366.5M361.73 345.2V366.5M374.9 345.2V366.5M388.07 345.2V366.5M401.23 345.2V366.5M414.4 345.2V366.5M427.57 345.2V366.5M440.73 345.2V366.5M453.9 345.2V366.5M467.07 345.2V366.5M480.23 345.2V366.5M493.4 345.2V366.5" stroke="#000" stroke-width=".66" fill="none" stroke-linecap="square"/>
<text x="552" y="358.3" font-size="6.7" fill="#F39B7F">Metabolism</text>
<rect x="335.4" y="372.1" width="13.17" height="7.1" fill="#f6fcfd"/>
<rect x="348.57" y="372.1" width="13.17" height="7.1" fill="#b8e4ee"/>
<rect x="361.73" y="372.1" width="13.17" height="7.1" fill="#b8e4ee"/>
<rect x="374.9" y="372.1" width="13.17" height="7.1" fill="#caebf2"/>
<rect x="388.07" y="372.1" width="13.17" height="7.1" fill="#dbf1f7"/>
<rect x="401.23" y="372.1" width="13.17" height="7.1" fill="#b8e4ee"/>
<rect x="414.4" y="372.1" width="13.17" height="7.1" fill="#caebf2"/>
<rect x="427.57" y="372.1" width="13.17" height="7.1" fill="#ffffff"/>
<rect x="440.73" y="372.1" width="13.17" height="7.1" fill="#ef8a7c"/>
<rect x="453.9" y="372.1" width="13.17" height="7.1" fill="#b8e4ee"/>
<rect x="467.07" y="372.1" width="13.17" height="7.1" fill="#edf8fb"/>
<rect x="480.23" y="372.1" width="13.17" height="7.1" fill="#ef8a7c"/>
<text x="496" y="376.8" font-size="3.38" fill="#000">Pro-apoptosis</text>
<rect x="335.4" y="379.2" width="13.17" height="7.1" fill="#fbe4e1"/>
<rect x="348.57" y="379.2" width="13.17" height="7.1" fill="#ffffff"/>
<rect x="361.73" y="379.2" width="13.17" height="7.1" fill="#e4f5f9"/>
<rect x="374.9" y="379.2" width="13.17" height="7.1" fill="#afe0ec"/>
<rect x="388.07" y="379.2" width="13.17" height="7.1" fill="#caebf2"/>
<rect x="401.23" y="379.2" width="13.17" height="7.1" fill="#9ddae8"/>
<rect x="414.4" y="379.2" width="13.17" height="7.1" fill="#c1e7f0"/>
<rect x="427.57" y="379.2" width="13.17" height="7.1" fill="#f19c90"/>
<rect x="440.73" y="379.2" width="13.17" height="7.1" fill="#94d6e6"/>
<rect x="453.9" y="379.2" width="13.17" height="7.1" fill="#f8c9c2"/>
<rect x="467.07" y="379.2" width="13.17" height="7.1" fill="#caebf2"/>
<rect x="480.23" y="379.2" width="13.17" height="7.1" fill="#f8c9c2"/>
<text x="496" y="383.9" font-size="3.38" fill="#000">Anti-apoptosis</text>
<path d="M335.4 372.1H493.4M335.4 379.2H493.4M335.4 386.3H493.4M335.4 372.1V386.3M348.57 372.1V386.3M361.73 372.1V386.3M374.9 372.1V386.3M388.07 372.1V386.3M401.23 372.1V386.3M414.4 372.1V386.3M427.57 372.1V386.3M440.73 372.1V386.3M453.9 372.1V386.3M467.07 372.1V386.3M480.23 372.1V386.3M493.4 372.1V386.3" stroke="#000" stroke-width=".66" fill="none" stroke-linecap="square"/>
<text x="552" y="381.8" font-size="6.7" fill="#DC0000">Apoptosis</text>
<text transform="translate(343.08,389.5) rotate(-90)" font-size="3.1" text-anchor="end" fill="#111">c0_CD4_Treg</text>
<text transform="translate(356.25,389.5) rotate(-90)" font-size="3.1" text-anchor="end" fill="#111">c1_CD4_Tm_TCF7</text>
<text transform="translate(369.42,389.5) rotate(-90)" font-size="3.1" text-anchor="end" fill="#111">c2_CD4_Tx_LTB</text>
<text transform="translate(382.58,389.5) rotate(-90)" font-size="3.1" text-anchor="end" fill="#111">c4_CD4_Tem</text>
<text transform="translate(395.75,389.5) rotate(-90)" font-size="3.1" text-anchor="end" fill="#111">c9_CD4_Tx_GPR183</text>
<text transform="translate(408.92,389.5) rotate(-90)" font-size="3.1" text-anchor="end" fill="#111">c14_CD4_Tx_EEF1A1</text>
<text transform="translate(422.08,389.5) rotate(-90)" font-size="3.1" text-anchor="end" fill="#111">c16_CD4_Tfh</text>
<text transform="translate(435.25,389.5) rotate(-90)" font-size="3.1" text-anchor="end" fill="#111">c17_CD4_Th17</text>
<text transform="translate(448.42,389.5) rotate(-90)" font-size="3.1" text-anchor="end" fill="#111">c18_CD4_Tstr</text>
<text transform="translate(461.58,389.5) rotate(-90)" font-size="3.1" text-anchor="end" fill="#111">c19_CD4_Trm</text>
<text transform="translate(474.75,389.5) rotate(-90)" font-size="3.1" text-anchor="end" fill="#111">c22_CD4_Tcm</text>
<text transform="translate(487.92,389.5) rotate(-90)" font-size="3.1" text-anchor="end" fill="#111">c23_CD4_Tx_LEF1</text>
<defs><linearGradient id="gd" x1="0" y1="0" x2="0" y2="1"><stop offset="0" stop-color="#e64b35"/><stop offset="0.0341772" stop-color="#e64b35"/><stop offset="0.503797" stop-color="#ffffff"/><stop offset="0.973418" stop-color="#4dbbd5"/><stop offset="1" stop-color="#4dbbd5"/></linearGradient></defs>
<rect x="606.6" y="277.6" width="8.3" height="79" fill="url(#gd)"/>
<path d="M606.6 280.3h1.6m5.1 0h1.6" stroke="#fff" stroke-width=".4"/>
<text x="617.2" y="282.5" font-size="6.3" fill="#111">4</text>
<path d="M606.6 298.8h1.6m5.1 0h1.6" stroke="#fff" stroke-width=".4"/>
<text x="617.2" y="301" font-size="6.3" fill="#111">2</text>
<path d="M606.6 317.4h1.6m5.1 0h1.6" stroke="#fff" stroke-width=".4"/>
<text x="617.2" y="319.6" font-size="6.3" fill="#111">0</text>
<path d="M606.6 336h1.6m5.1 0h1.6" stroke="#fff" stroke-width=".4"/>
<text x="617.2" y="338.2" font-size="6.3" fill="#111">−2</text>
<path d="M606.6 354.5h1.6m5.1 0h1.6" stroke="#fff" stroke-width=".4"/>
<text x="617.2" y="356.7" font-size="6.3" fill="#111">−4</text>
<text transform="translate(602.6,317) rotate(-90)" font-size="6.5" font-weight="bold" text-anchor="middle" fill="#000">Signature Score</text>
<text x="0.6" y="438.3" font-size="16.4">E</text>
<path d="M20.5 443V618.5H145.5" fill="none" stroke="#2a2a2a" stroke-width=".85"/>
<path d="M19.3 450.6H20.5" stroke="#333" stroke-width=".4"/>
<text x="18.3" y="451.95" font-size="3.9" text-anchor="end" fill="#444">1.00</text>
<path d="M19.3 490.5H20.5" stroke="#333" stroke-width=".4"/>
<text x="18.3" y="491.85" font-size="3.9" text-anchor="end" fill="#444">0.75</text>
<path d="M19.3 530.5H20.5" stroke="#333" stroke-width=".4"/>
<text x="18.3" y="531.85" font-size="3.9" text-anchor="end" fill="#444">0.50</text>
<path d="M19.3 570.4H20.5" stroke="#333" stroke-width=".4"/>
<text x="18.3" y="571.75" font-size="3.9" text-anchor="end" fill="#444">0.25</text>
<path d="M19.3 610.3H20.5" stroke="#333" stroke-width=".4"/>
<text x="18.3" y="611.65" font-size="3.9" text-anchor="end" fill="#444">0.00</text>
<path d="M54.5 618.5V619.7" stroke="#333" stroke-width=".4"/>
<text x="54.5" y="624" font-size="4.2" text-anchor="middle" fill="#444">Normal</text>
<path d="M111.5 618.5V619.7" stroke="#333" stroke-width=".4"/>
<text x="111.5" y="624" font-size="4.2" text-anchor="middle" fill="#444">Tumor</text>
<text x="83" y="630.3" font-size="5.4" text-anchor="middle" fill="#111">group</text>
<text transform="translate(6.3,530.5) rotate(-90)" font-size="5.3" text-anchor="middle" fill="#111">Percentage</text>
<rect x="29" y="450.6" width="51" height="3.46" fill="#DC143C"/>
<rect x="29" y="454.01" width="51" height="49.69" fill="#0000FF"/>
<rect x="29" y="503.65" width="51" height="4.43" fill="#20B2AA"/>
<rect x="29" y="508.03" width="51" height="9.39" fill="#FFA500"/>
<rect x="29" y="517.37" width="51" height="0.78" fill="#9370DB"/>
<rect x="29" y="518.1" width="51" height="2.82" fill="#98FB98"/>
<rect x="29" y="520.88" width="51" height="24.17" fill="#F08080"/>
<rect x="29" y="545" width="51" height="1.3" fill="#7CFC00"/>
<rect x="29" y="546.25" width="51" height="8.8" fill="#FFFF00"/>
<rect x="29" y="555" width="51" height="18.05" fill="#808000"/>
<rect x="29" y="573" width="51" height="8.8" fill="#FA8072"/>
<rect x="29" y="581.75" width="51" height="1.8" fill="#7B68EE"/>
<rect x="29" y="583.5" width="51" height="8.3" fill="#9400D3"/>
<rect x="29" y="591.75" width="51" height="3.3" fill="#800080"/>
<rect x="29" y="595" width="51" height="0.42" fill="#A0522D"/>
<rect x="29" y="595.38" width="51" height="1.43" fill="#D2B48C"/>
<rect x="29" y="596.75" width="51" height="0.55" fill="#D2691E"/>
<rect x="29" y="597.25" width="51" height="5.3" fill="#87CEEB"/>
<rect x="29" y="602.5" width="51" height="0.42" fill="#40E0D0"/>
<rect x="29" y="602.88" width="51" height="6.42" fill="#0000CD"/>
<rect x="29" y="609.25" width="51" height="0.8" fill="#008080"/>
<rect x="29" y="610" width="51" height="0.35" fill="#FFE4B5"/>
<rect x="86" y="450.6" width="51" height="21.57" fill="#DC143C"/>
<rect x="86" y="472.12" width="51" height="3.85" fill="#0000FF"/>
<rect x="86" y="475.91" width="51" height="18.74" fill="#20B2AA"/>
<rect x="86" y="494.6" width="51" height="11.73" fill="#FFA500"/>
<rect x="86" y="506.28" width="51" height="13.19" fill="#9370DB"/>
<rect x="86" y="519.42" width="51" height="11.73" fill="#98FB98"/>
<rect x="86" y="531.09" width="51" height="2.39" fill="#F08080"/>
<rect x="86" y="533.43" width="51" height="11.12" fill="#1E90FF"/>
<rect x="86" y="544.5" width="51" height="8.55" fill="#7CFC00"/>
<rect x="86" y="553" width="51" height="6.3" fill="#FFFF00"/>
<rect x="86" y="559.25" width="51" height="2.3" fill="#808000"/>
<rect x="86" y="561.5" width="51" height="8.55" fill="#FF00FF"/>
<rect x="86" y="570" width="51" height="5.05" fill="#FA8072"/>
<rect x="86" y="575" width="51" height="6.3" fill="#7B68EE"/>
<rect x="86" y="581.25" width="51" height="3.55" fill="#9400D3"/>
<rect x="86" y="584.75" width="51" height="5.05" fill="#800080"/>
<rect x="86" y="589.75" width="51" height="4.05" fill="#A0522D"/>
<rect x="86" y="593.75" width="51" height="2.55" fill="#D2B48C"/>
<rect x="86" y="596.25" width="51" height="3.05" fill="#D2691E"/>
<rect x="86" y="599.25" width="51" height="1.05" fill="#87CEEB"/>
<rect x="86" y="600.25" width="51" height="4.05" fill="#40E0D0"/>
<rect x="86" y="604.25" width="51" height="1.8" fill="#5F9EA0"/>
<rect x="86" y="606" width="51" height="2.8" fill="#FF1493"/>
<rect x="86" y="608.75" width="51" height="0.55" fill="#0000CD"/>
<rect x="86" y="609.25" width="51" height="0.93" fill="#008080"/>
<rect x="86" y="610.12" width="51" height="0.22" fill="#FFE4B5"/>
<text x="153.3" y="477.2" font-size="5" fill="#111">celltype</text>
<rect x="153.9" y="480.9" width="7.2" height="7.2" fill="#DC143C"/>
<text x="164.1" y="485.4" font-size="2.5" fill="#000">c0_CD4_Treg</text>
<rect x="153.9" y="489.2" width="7.2" height="7.2" fill="#0000FF"/>
<text x="164.1" y="493.7" font-size="2.5" fill="#000">c1_CD4_Tm_TCF7</text>
<rect x="153.9" y="497.5" width="7.2" height="7.2" fill="#20B2AA"/>
<text x="164.1" y="502" font-size="2.5" fill="#000">c2_CD4_Tx_LTB</text>
<rect x="153.9" y="505.8" width="7.2" height="7.2" fill="#FFA500"/>
<text x="164.1" y="510.3" font-size="2.5" fill="#000">c3_CD8_Tn</text>
<rect x="153.9" y="514.1" width="7.2" height="7.2" fill="#9370DB"/>
<text x="164.1" y="518.6" font-size="2.5" fill="#000">c4_CD4_Tem</text>
<rect x="153.9" y="522.4" width="7.2" height="7.2" fill="#98FB98"/>
<text x="164.1" y="526.9" font-size="2.5" fill="#000">c5_NK_HSPA1A</text>
<rect x="153.9" y="530.7" width="7.2" height="7.2" fill="#F08080"/>
<text x="164.1" y="535.2" font-size="2.5" fill="#000">c6_CD8_Trm</text>
<rect x="153.9" y="539" width="7.2" height="7.2" fill="#1E90FF"/>
<text x="164.1" y="543.5" font-size="2.5" fill="#000">c7_CD8_Tex</text>
<rect x="153.9" y="547.3" width="7.2" height="7.2" fill="#7CFC00"/>
<text x="164.1" y="551.8" font-size="2.5" fill="#000">c8_CD8_Tx</text>
<rect x="153.9" y="555.6" width="7.2" height="7.2" fill="#FFFF00"/>
<text x="164.1" y="560.1" font-size="2.5" fill="#000">c9_CD4_Tx_GPR183</text>
<rect x="153.9" y="563.9" width="7.2" height="7.2" fill="#808000"/>
<text x="164.1" y="568.4" font-size="2.5" fill="#000">c10_CD8_Tcem</text>
<rect x="153.9" y="572.2" width="7.2" height="7.2" fill="#FF00FF"/>
<text x="164.1" y="576.7" font-size="2.5" fill="#000">c11_CD8_Tstr</text>
<rect x="153.9" y="580.5" width="7.2" height="7.2" fill="#FA8072"/>
<text x="164.1" y="585" font-size="2.5" fill="#000">c12_CD8_early_Tem</text>
<rect x="190.6" y="480.9" width="7.2" height="7.2" fill="#7B68EE"/>
<text x="200.8" y="485.4" font-size="2.5" fill="#000">c13_CD8_Tem</text>
<rect x="190.6" y="489.2" width="7.2" height="7.2" fill="#9400D3"/>
<text x="200.8" y="493.7" font-size="2.5" fill="#000">c14_CD4_Tx_EEF1A1</text>
<rect x="190.6" y="497.5" width="7.2" height="7.2" fill="#800080"/>
<text x="200.8" y="502" font-size="2.5" fill="#000">c15_NKT_FCGR3A</text>
<rect x="190.6" y="505.8" width="7.2" height="7.2" fill="#A0522D"/>
<text x="200.8" y="510.3" font-size="2.5" fill="#000">c16_CD4_Tfh</text>
<rect x="190.6" y="514.1" width="7.2" height="7.2" fill="#D2B48C"/>
<text x="200.8" y="518.6" font-size="2.5" fill="#000">c17_CD4_Th17</text>
<rect x="190.6" y="522.4" width="7.2" height="7.2" fill="#D2691E"/>
<text x="200.8" y="526.9" font-size="2.5" fill="#000">c18_CD4_Tstr</text>
<rect x="190.6" y="530.7" width="7.2" height="7.2" fill="#87CEEB"/>
<text x="200.8" y="535.2" font-size="2.5" fill="#000">c19_CD4_Trm</text>
<rect x="190.6" y="539" width="7.2" height="7.2" fill="#40E0D0"/>
<text x="200.8" y="543.5" font-size="2.5" fill="#000">c20_NK_XCL1</text>
<rect x="190.6" y="547.3" width="7.2" height="7.2" fill="#5F9EA0"/>
<text x="200.8" y="551.8" font-size="2.5" fill="#000">c21_CD8_MKI67</text>
<rect x="190.6" y="555.6" width="7.2" height="7.2" fill="#FF1493"/>
<text x="200.8" y="560.1" font-size="2.5" fill="#000">c22_CD4_Tcm</text>
<rect x="190.6" y="563.9" width="7.2" height="7.2" fill="#0000CD"/>
<text x="200.8" y="568.4" font-size="2.5" fill="#000">c23_CD4_Tx_LEF1</text>
<rect x="190.6" y="572.2" width="7.2" height="7.2" fill="#008080"/>
<text x="200.8" y="576.7" font-size="2.5" fill="#000">c24_CD8_MAIT</text>
<rect x="190.6" y="580.5" width="7.2" height="7.2" fill="#FFE4B5"/>
<text x="200.8" y="585" font-size="2.5" fill="#000">unspecified</text>
<text x="235.9" y="438.1" font-size="16.4">F</text>
<path d="M248.5 465.7V653H619.2" fill="none" stroke="#2a2a2a" stroke-width=".85"/>
<path d="M247 652.7H248.5" stroke="#333" stroke-width=".4"/>
<text x="245.8" y="654.1" font-size="4" text-anchor="end" fill="#333">4</text>
<path d="M247 613.96H248.5" stroke="#333" stroke-width=".4"/>
<text x="245.8" y="615.36" font-size="4" text-anchor="end" fill="#333">6</text>
<path d="M247 575.22H248.5" stroke="#333" stroke-width=".4"/>
<text x="245.8" y="576.62" font-size="4" text-anchor="end" fill="#333">8</text>
<path d="M247 536.48H248.5" stroke="#333" stroke-width=".4"/>
<text x="245.8" y="537.88" font-size="4" text-anchor="end" fill="#333">10</text>
<path d="M247 497.74H248.5" stroke="#333" stroke-width=".4"/>
<text x="245.8" y="499.14" font-size="4" text-anchor="end" fill="#333">12</text>
<text transform="translate(239.1,559.3) rotate(-90)" font-size="3.85" text-anchor="middle" fill="#111">Enrichment Score</text>
<text x="416.8" y="452.7" font-size="3.8" text-anchor="end" fill="#111">group</text>
<path d="M423.55 447.6V455.2" stroke="#000" stroke-width=".5"/>
<rect x="419.9" y="448.7" width="7.3" height="5.4" fill="#08519C" stroke="#000" stroke-width=".45"/>
<path d="M419.9 451.4h7.3" stroke="#000" stroke-width=".8"/>
<text x="430.1" y="452.6" font-size="3.2" fill="#111">Normal</text>
<path d="M446.55 447.6V455.2" stroke="#000" stroke-width=".5"/>
<rect x="442.9" y="448.7" width="7.3" height="5.4" fill="#E60000" stroke="#000" stroke-width=".45"/>
<path d="M442.9 451.4h7.3" stroke="#000" stroke-width=".8"/>
<text x="453.1" y="452.6" font-size="3.2" fill="#111">Tumor</text>
<text x="257.3" y="474.2" font-size="5.7" text-anchor="middle" fill="#111">***</text>
<path d="M257.3 653V654.6" stroke="#333" stroke-width=".4"/>
<text transform="translate(258.9,656.6) rotate(-45)" font-size="3.7" text-anchor="end" fill="#111">c0_CD4_Treg</text>
<path d="M254.45 575.8V583.94M254.45 590.72V594.59" stroke="#111" stroke-width=".62"/>
<rect x="251.95" y="583.94" width="5" height="6.78" fill="#08519C" stroke="#111" stroke-width=".4"/>
<path d="M251.95 587.42h5" stroke="#000" stroke-width=".7"/>
<circle cx="254.45" cy="572.51" r="1.25" fill="#000"/>
<path d="M260.15 570.76V578.71M260.15 586.26V595.75" stroke="#111" stroke-width=".62"/>
<rect x="257.65" y="578.71" width="5" height="7.55" fill="#E60000" stroke="#111" stroke-width=".4"/>
<path d="M257.65 582.39h5" stroke="#000" stroke-width=".7"/>
<circle cx="260.15" cy="567.47" r="1.25" fill="#000"/>
<circle cx="260.15" cy="565.15" r="1.25" fill="#000"/>
<circle cx="260.15" cy="562.63" r="1.25" fill="#000"/>
<circle cx="260.15" cy="559.72" r="1.25" fill="#000"/>
<circle cx="260.15" cy="556.43" r="1.25" fill="#000"/>
<circle cx="260.15" cy="604.28" r="1.25" fill="#000"/>
<circle cx="260.15" cy="602.73" r="1.25" fill="#000"/>
<circle cx="260.15" cy="600.79" r="1.25" fill="#000"/>
<circle cx="260.15" cy="598.85" r="1.25" fill="#000"/>
<circle cx="260.15" cy="596.91" r="1.25" fill="#000"/>
<text x="271.5" y="474.2" font-size="5.7" text-anchor="middle" fill="#111">***</text>
<path d="M271.5 653V654.6" stroke="#333" stroke-width=".4"/>
<text transform="translate(273.1,656.6) rotate(-45)" font-size="3.7" text-anchor="end" fill="#111">c1_CD4_Tm_TCF7</text>
<path d="M268.65 516.53V530.67M268.65 542.48V562.05" stroke="#111" stroke-width=".62"/>
<rect x="266.15" y="530.67" width="5" height="11.82" fill="#08519C" stroke="#111" stroke-width=".4"/>
<path d="M266.15 537.06h5" stroke="#000" stroke-width=".7"/>
<circle cx="268.65" cy="512.27" r="1.25" fill="#000"/>
<circle cx="268.65" cy="582" r="1.25" fill="#000"/>
<circle cx="268.65" cy="569.41" r="1.25" fill="#000"/>
<circle cx="268.65" cy="566.5" r="1.25" fill="#000"/>
<circle cx="268.65" cy="563.6" r="1.25" fill="#000"/>
<path d="M274.35 525.83V558.17M274.35 579.09V604.66" stroke="#111" stroke-width=".62"/>
<rect x="271.85" y="558.17" width="5" height="20.92" fill="#E60000" stroke="#111" stroke-width=".4"/>
<path d="M271.85 569.99h5" stroke="#000" stroke-width=".7"/>
<circle cx="274.35" cy="524.86" r="1.25" fill="#000"/>
<circle cx="274.35" cy="517.11" r="1.25" fill="#000"/>
<text x="285.7" y="474.2" font-size="5.7" text-anchor="middle" fill="#111">***</text>
<path d="M285.7 653V654.6" stroke="#333" stroke-width=".4"/>
<text transform="translate(287.3,656.6) rotate(-45)" font-size="3.7" text-anchor="end" fill="#111">c2_CD4_Tx_LTB</text>
<path d="M282.85 560.69V570.96M282.85 579.09V588.39" stroke="#111" stroke-width=".62"/>
<rect x="280.35" y="570.96" width="5" height="8.14" fill="#08519C" stroke="#111" stroke-width=".4"/>
<path d="M280.35 574.64h5" stroke="#000" stroke-width=".7"/>
<circle cx="282.85" cy="558.17" r="1.25" fill="#000"/>
<circle cx="282.85" cy="552.17" r="1.25" fill="#000"/>
<path d="M288.55 548.68V558.95M288.55 566.89V577.16" stroke="#111" stroke-width=".62"/>
<rect x="286.05" y="558.95" width="5" height="7.94" fill="#E60000" stroke="#111" stroke-width=".4"/>
<path d="M286.05 562.44h5" stroke="#000" stroke-width=".7"/>
<circle cx="288.55" cy="547.71" r="1.25" fill="#000"/>
<circle cx="288.55" cy="546.17" r="1.25" fill="#000"/>
<circle cx="288.55" cy="544.62" r="1.25" fill="#000"/>
<circle cx="288.55" cy="543.26" r="1.25" fill="#000"/>
<circle cx="288.55" cy="586.45" r="1.25" fill="#000"/>
<circle cx="288.55" cy="583.94" r="1.25" fill="#000"/>
<circle cx="288.55" cy="581.42" r="1.25" fill="#000"/>
<circle cx="288.55" cy="579.48" r="1.25" fill="#000"/>
<text x="299.9" y="474.2" font-size="5.7" text-anchor="middle" fill="#111">***</text>
<path d="M299.9 653V654.6" stroke="#333" stroke-width=".4"/>
<text transform="translate(301.5,656.6) rotate(-45)" font-size="3.7" text-anchor="end" fill="#111">c3_CD8_Tn</text>
<path d="M297.05 574.45V582M297.05 588.78V596.53" stroke="#111" stroke-width=".62"/>
<rect x="294.55" y="582" width="5" height="6.78" fill="#08519C" stroke="#111" stroke-width=".4"/>
<path d="M294.55 584.91h5" stroke="#000" stroke-width=".7"/>
<circle cx="297.05" cy="570.76" r="1.25" fill="#000"/>
<circle cx="297.05" cy="569.41" r="1.25" fill="#000"/>
<circle cx="297.05" cy="602.73" r="1.25" fill="#000"/>
<path d="M302.75 566.89V584.91M302.75 597.5V614.73" stroke="#111" stroke-width=".62"/>
<rect x="300.25" y="584.91" width="5" height="12.59" fill="#E60000" stroke="#111" stroke-width=".4"/>
<path d="M300.25 591.3h5" stroke="#000" stroke-width=".7"/>
<circle cx="302.75" cy="565.54" r="1.25" fill="#000"/>
<circle cx="302.75" cy="563.21" r="1.25" fill="#000"/>
<circle cx="302.75" cy="560.69" r="1.25" fill="#000"/>
<circle cx="302.75" cy="557.79" r="1.25" fill="#000"/>
<circle cx="302.75" cy="555.85" r="1.25" fill="#000"/>
<circle cx="302.75" cy="553.91" r="1.25" fill="#000"/>
<circle cx="302.75" cy="623.65" r="1.25" fill="#000"/>
<circle cx="302.75" cy="621.71" r="1.25" fill="#000"/>
<circle cx="302.75" cy="619.38" r="1.25" fill="#000"/>
<circle cx="302.75" cy="617.25" r="1.25" fill="#000"/>
<text x="314.1" y="474.2" font-size="5.7" text-anchor="middle" fill="#111">***</text>
<path d="M314.1 653V654.6" stroke="#333" stroke-width=".4"/>
<text transform="translate(315.7,656.6) rotate(-45)" font-size="3.7" text-anchor="end" fill="#111">c4_CD4_Tem</text>
<path d="M311.25 567.47V575.8M311.25 582V586.84" stroke="#111" stroke-width=".62"/>
<rect x="308.75" y="575.8" width="5" height="6.2" fill="#08519C" stroke="#111" stroke-width=".4"/>
<path d="M308.75 579.09h5" stroke="#000" stroke-width=".7"/>
<path d="M316.95 562.05V569.8M316.95 576.77V586.84" stroke="#111" stroke-width=".62"/>
<rect x="314.45" y="569.8" width="5" height="6.97" fill="#E60000" stroke="#111" stroke-width=".4"/>
<path d="M314.45 573.28h5" stroke="#000" stroke-width=".7"/>
<circle cx="316.95" cy="558.17" r="1.25" fill="#000"/>
<circle cx="316.95" cy="555.85" r="1.25" fill="#000"/>
<circle cx="316.95" cy="553.14" r="1.25" fill="#000"/>
<circle cx="316.95" cy="594.59" r="1.25" fill="#000"/>
<circle cx="316.95" cy="592.65" r="1.25" fill="#000"/>
<circle cx="316.95" cy="590.33" r="1.25" fill="#000"/>
<circle cx="316.95" cy="588.2" r="1.25" fill="#000"/>
<text x="328.3" y="474.2" font-size="5.7" text-anchor="middle" fill="#111">***</text>
<path d="M328.3 653V654.6" stroke="#333" stroke-width=".4"/>
<text transform="translate(329.9,656.6) rotate(-45)" font-size="3.7" text-anchor="end" fill="#111">c5_NK_HSPA1A</text>
<path d="M325.45 570.76V577.74M325.45 583.16V586.84" stroke="#111" stroke-width=".62"/>
<rect x="322.95" y="577.74" width="5" height="5.42" fill="#08519C" stroke="#111" stroke-width=".4"/>
<path d="M322.95 580.45h5" stroke="#000" stroke-width=".7"/>
<circle cx="325.45" cy="569.41" r="1.25" fill="#000"/>
<circle cx="325.45" cy="567.86" r="1.25" fill="#000"/>
<circle cx="325.45" cy="566.31" r="1.25" fill="#000"/>
<path d="M331.15 557.01V567.47M331.15 575.22V586.84" stroke="#111" stroke-width=".62"/>
<rect x="328.65" y="567.47" width="5" height="7.75" fill="#E60000" stroke="#111" stroke-width=".4"/>
<path d="M328.65 570.96h5" stroke="#000" stroke-width=".7"/>
<circle cx="331.15" cy="552.94" r="1.25" fill="#000"/>
<circle cx="331.15" cy="551.59" r="1.25" fill="#000"/>
<circle cx="331.15" cy="594.59" r="1.25" fill="#000"/>
<circle cx="331.15" cy="592.65" r="1.25" fill="#000"/>
<circle cx="331.15" cy="590.72" r="1.25" fill="#000"/>
<circle cx="331.15" cy="588.2" r="1.25" fill="#000"/>
<text x="342.5" y="474.2" font-size="5.7" text-anchor="middle" fill="#111">***</text>
<path d="M342.5 653V654.6" stroke="#333" stroke-width=".4"/>
<text transform="translate(344.1,656.6) rotate(-45)" font-size="3.7" text-anchor="end" fill="#111">c6_CD8_Trm</text>
<path d="M339.65 530.67V544.81M339.65 556.24V573.28" stroke="#111" stroke-width=".62"/>
<rect x="337.15" y="544.81" width="5" height="11.43" fill="#08519C" stroke="#111" stroke-width=".4"/>
<path d="M337.15 551.2h5" stroke="#000" stroke-width=".7"/>
<circle cx="339.65" cy="526.21" r="1.25" fill="#000"/>
<circle cx="339.65" cy="599.63" r="1.25" fill="#000"/>
<circle cx="339.65" cy="584.91" r="1.25" fill="#000"/>
<circle cx="339.65" cy="579.09" r="1.25" fill="#000"/>
<circle cx="339.65" cy="575.8" r="1.25" fill="#000"/>
<path d="M345.35 543.26V572.7M345.35 593.62V622.29" stroke="#111" stroke-width=".62"/>
<rect x="342.85" y="572.7" width="5" height="20.92" fill="#E60000" stroke="#111" stroke-width=".4"/>
<path d="M342.85 584.91h5" stroke="#000" stroke-width=".7"/>
<circle cx="345.35" cy="540.74" r="1.25" fill="#000"/>
<circle cx="345.35" cy="531.64" r="1.25" fill="#000"/>
<circle cx="345.35" cy="530.28" r="1.25" fill="#000"/>
<text x="356.7" y="474.2" font-size="5.7" text-anchor="middle" fill="#111">**</text>
<path d="M356.7 653V654.6" stroke="#333" stroke-width=".4"/>
<text transform="translate(358.3,656.6) rotate(-45)" font-size="3.7" text-anchor="end" fill="#111">c7_CD8_Tex</text>
<path d="M353.85 568.25V576.38M353.85 584.91V589.55" stroke="#111" stroke-width=".62"/>
<rect x="351.35" y="576.38" width="5" height="8.52" fill="#08519C" stroke="#111" stroke-width=".4"/>
<path d="M351.35 580.26h5" stroke="#000" stroke-width=".7"/>
<path d="M359.55 564.57V574.64M359.55 582V591.88" stroke="#111" stroke-width=".62"/>
<rect x="357.05" y="574.64" width="5" height="7.36" fill="#E60000" stroke="#111" stroke-width=".4"/>
<path d="M357.05 578.13h5" stroke="#000" stroke-width=".7"/>
<circle cx="359.55" cy="563.6" r="1.25" fill="#000"/>
<circle cx="359.55" cy="561.66" r="1.25" fill="#000"/>
<circle cx="359.55" cy="559.72" r="1.25" fill="#000"/>
<circle cx="359.55" cy="606.99" r="1.25" fill="#000"/>
<circle cx="359.55" cy="603.31" r="1.25" fill="#000"/>
<circle cx="359.55" cy="600.4" r="1.25" fill="#000"/>
<circle cx="359.55" cy="598.08" r="1.25" fill="#000"/>
<circle cx="359.55" cy="595.56" r="1.25" fill="#000"/>
<circle cx="359.55" cy="593.43" r="1.25" fill="#000"/>
<text x="370.9" y="474.2" font-size="5.7" text-anchor="middle" fill="#111">***</text>
<path d="M370.9 653V654.6" stroke="#333" stroke-width=".4"/>
<text transform="translate(372.5,656.6) rotate(-45)" font-size="3.7" text-anchor="end" fill="#111">c8_CD8_Tx</text>
<path d="M368.05 564.57V573.48M368.05 580.64V586.84" stroke="#111" stroke-width=".62"/>
<rect x="365.55" y="573.48" width="5" height="7.17" fill="#08519C" stroke="#111" stroke-width=".4"/>
<path d="M365.55 576.77h5" stroke="#000" stroke-width=".7"/>
<path d="M373.75 559.72V569.8M373.75 577.74V588.2" stroke="#111" stroke-width=".62"/>
<rect x="371.25" y="569.8" width="5" height="7.94" fill="#E60000" stroke="#111" stroke-width=".4"/>
<path d="M371.25 573.67h5" stroke="#000" stroke-width=".7"/>
<circle cx="373.75" cy="557.01" r="1.25" fill="#000"/>
<circle cx="373.75" cy="554.49" r="1.25" fill="#000"/>
<circle cx="373.75" cy="600.79" r="1.25" fill="#000"/>
<circle cx="373.75" cy="596.53" r="1.25" fill="#000"/>
<circle cx="373.75" cy="593.62" r="1.25" fill="#000"/>
<circle cx="373.75" cy="591.68" r="1.25" fill="#000"/>
<circle cx="373.75" cy="589.55" r="1.25" fill="#000"/>
<text x="385.1" y="474.2" font-size="5.7" text-anchor="middle" fill="#111">***</text>
<path d="M385.1 653V654.6" stroke="#333" stroke-width=".4"/>
<text transform="translate(386.7,656.6) rotate(-45)" font-size="3.7" text-anchor="end" fill="#111">c9_CD4_Tx_GPR183</text>
<path d="M382.25 549.46V562.63M382.25 572.51V585.68" stroke="#111" stroke-width=".62"/>
<rect x="379.75" y="562.63" width="5" height="9.88" fill="#08519C" stroke="#111" stroke-width=".4"/>
<path d="M379.75 568.25h5" stroke="#000" stroke-width=".7"/>
<circle cx="382.25" cy="546.94" r="1.25" fill="#000"/>
<circle cx="382.25" cy="602.34" r="1.25" fill="#000"/>
<circle cx="382.25" cy="596.53" r="1.25" fill="#000"/>
<circle cx="382.25" cy="592.65" r="1.25" fill="#000"/>
<circle cx="382.25" cy="589.55" r="1.25" fill="#000"/>
<path d="M387.95 557.01V584.52M387.95 595.75V612.22" stroke="#111" stroke-width=".62"/>
<rect x="385.45" y="584.52" width="5" height="11.23" fill="#E60000" stroke="#111" stroke-width=".4"/>
<path d="M385.45 590.13h5" stroke="#000" stroke-width=".7"/>
<circle cx="387.95" cy="555.85" r="1.25" fill="#000"/>
<circle cx="387.95" cy="553.91" r="1.25" fill="#000"/>
<circle cx="387.95" cy="551.98" r="1.25" fill="#000"/>
<circle cx="387.95" cy="625.97" r="1.25" fill="#000"/>
<circle cx="387.95" cy="612.8" r="1.25" fill="#000"/>
<text x="399.3" y="474.2" font-size="5.7" text-anchor="middle" fill="#111">***</text>
<path d="M399.3 653V654.6" stroke="#333" stroke-width=".4"/>
<text transform="translate(400.9,656.6) rotate(-45)" font-size="3.7" text-anchor="end" fill="#111">c10_CD8_Tcem</text>
<path d="M396.45 539.39V554.49M396.45 564.57V579.48" stroke="#111" stroke-width=".62"/>
<rect x="393.95" y="554.49" width="5" height="10.07" fill="#08519C" stroke="#111" stroke-width=".4"/>
<path d="M393.95 559.92h5" stroke="#000" stroke-width=".7"/>
<circle cx="396.45" cy="536.48" r="1.25" fill="#000"/>
<circle cx="396.45" cy="599.05" r="1.25" fill="#000"/>
<circle cx="396.45" cy="584.91" r="1.25" fill="#000"/>
<circle cx="396.45" cy="582" r="1.25" fill="#000"/>
<path d="M402.15 549.46V574.06M402.15 587.42V607.18" stroke="#111" stroke-width=".62"/>
<rect x="399.65" y="574.06" width="5" height="13.37" fill="#E60000" stroke="#111" stroke-width=".4"/>
<path d="M399.65 581.22h5" stroke="#000" stroke-width=".7"/>
<circle cx="402.15" cy="548.1" r="1.25" fill="#000"/>
<circle cx="402.15" cy="541.52" r="1.25" fill="#000"/>
<circle cx="402.15" cy="621.51" r="1.25" fill="#000"/>
<circle cx="402.15" cy="614.15" r="1.25" fill="#000"/>
<text x="413.5" y="474.2" font-size="5.7" text-anchor="middle" fill="#111">***</text>
<path d="M413.5 653V654.6" stroke="#333" stroke-width=".4"/>
<text transform="translate(415.1,656.6) rotate(-45)" font-size="3.7" text-anchor="end" fill="#111">c11_CD8_Tstr</text>
<path d="M410.65 575.8V580.64M410.65 584.91V589.55" stroke="#111" stroke-width=".62"/>
<rect x="408.15" y="580.64" width="5" height="4.26" fill="#08519C" stroke="#111" stroke-width=".4"/>
<path d="M408.15 582.97h5" stroke="#000" stroke-width=".7"/>
<path d="M416.35 565.73V575.22M416.35 582V591.88" stroke="#111" stroke-width=".62"/>
<rect x="413.85" y="575.22" width="5" height="6.78" fill="#E60000" stroke="#111" stroke-width=".4"/>
<path d="M413.85 578.13h5" stroke="#000" stroke-width=".7"/>
<circle cx="416.35" cy="561.66" r="1.25" fill="#000"/>
<circle cx="416.35" cy="607.18" r="1.25" fill="#000"/>
<circle cx="416.35" cy="602.34" r="1.25" fill="#000"/>
<circle cx="416.35" cy="600.01" r="1.25" fill="#000"/>
<circle cx="416.35" cy="597.5" r="1.25" fill="#000"/>
<circle cx="416.35" cy="595.56" r="1.25" fill="#000"/>
<circle cx="416.35" cy="593.23" r="1.25" fill="#000"/>
<text x="427.7" y="474.2" font-size="5.7" text-anchor="middle" fill="#111">***</text>
<path d="M427.7 653V654.6" stroke="#333" stroke-width=".4"/>
<text transform="translate(429.3,656.6) rotate(-45)" font-size="3.7" text-anchor="end" fill="#111">c12_CD8_early_Tem</text>
<path d="M424.85 555.85V570.18M424.85 580.26V593.23" stroke="#111" stroke-width=".62"/>
<rect x="422.35" y="570.18" width="5" height="10.07" fill="#08519C" stroke="#111" stroke-width=".4"/>
<path d="M422.35 574.45h5" stroke="#000" stroke-width=".7"/>
<circle cx="424.85" cy="551.59" r="1.25" fill="#000"/>
<path d="M430.55 564.57V587.04M430.55 602.92V623.65" stroke="#111" stroke-width=".62"/>
<rect x="428.05" y="587.04" width="5" height="15.88" fill="#E60000" stroke="#111" stroke-width=".4"/>
<path d="M428.05 595.75h5" stroke="#000" stroke-width=".7"/>
<circle cx="430.55" cy="563.21" r="1.25" fill="#000"/>
<circle cx="430.55" cy="560.69" r="1.25" fill="#000"/>
<circle cx="430.55" cy="634.3" r="1.25" fill="#000"/>
<circle cx="430.55" cy="628.1" r="1.25" fill="#000"/>
<text x="441.9" y="474.2" font-size="5.7" text-anchor="middle" fill="#111">***</text>
<path d="M441.9 653V654.6" stroke="#333" stroke-width=".4"/>
<text transform="translate(443.5,656.6) rotate(-45)" font-size="3.7" text-anchor="end" fill="#111">c13_CD8_Tem</text>
<path d="M439.05 559.53V570.76M439.05 578.13V583.16" stroke="#111" stroke-width=".62"/>
<rect x="436.55" y="570.76" width="5" height="7.36" fill="#08519C" stroke="#111" stroke-width=".4"/>
<path d="M436.55 574.64h5" stroke="#000" stroke-width=".7"/>
<path d="M444.75 554.49V566.89M444.75 575.8V589.55" stroke="#111" stroke-width=".62"/>
<rect x="442.25" y="566.89" width="5" height="8.91" fill="#E60000" stroke="#111" stroke-width=".4"/>
<path d="M442.25 571.35h5" stroke="#000" stroke-width=".7"/>
<circle cx="444.75" cy="553.33" r="1.25" fill="#000"/>
<circle cx="444.75" cy="551.59" r="1.25" fill="#000"/>
<circle cx="444.75" cy="549.07" r="1.25" fill="#000"/>
<circle cx="444.75" cy="597.5" r="1.25" fill="#000"/>
<circle cx="444.75" cy="594.98" r="1.25" fill="#000"/>
<circle cx="444.75" cy="592.65" r="1.25" fill="#000"/>
<circle cx="444.75" cy="590.72" r="1.25" fill="#000"/>
<text x="456.1" y="474.2" font-size="5.7" text-anchor="middle" fill="#111">***</text>
<path d="M456.1 653V654.6" stroke="#333" stroke-width=".4"/>
<text transform="translate(457.7,656.6) rotate(-45)" font-size="3.7" text-anchor="end" fill="#111">c14_CD4_Tx_EEF1A1</text>
<path d="M453.25 584.52V590.91M453.25 596.14V599.43" stroke="#111" stroke-width=".62"/>
<rect x="450.75" y="590.91" width="5" height="5.23" fill="#08519C" stroke="#111" stroke-width=".4"/>
<path d="M450.75 593.43h5" stroke="#000" stroke-width=".7"/>
<circle cx="453.25" cy="583.16" r="1.25" fill="#000"/>
<circle cx="453.25" cy="581.42" r="1.25" fill="#000"/>
<circle cx="453.25" cy="579.48" r="1.25" fill="#000"/>
<circle cx="453.25" cy="605.24" r="1.25" fill="#000"/>
<path d="M458.95 569.41V580.06M458.95 587.42V598.27" stroke="#111" stroke-width=".62"/>
<rect x="456.45" y="580.06" width="5" height="7.36" fill="#E60000" stroke="#111" stroke-width=".4"/>
<path d="M456.45 583.74h5" stroke="#000" stroke-width=".7"/>
<circle cx="458.95" cy="568.25" r="1.25" fill="#000"/>
<circle cx="458.95" cy="565.73" r="1.25" fill="#000"/>
<circle cx="458.95" cy="609.7" r="1.25" fill="#000"/>
<circle cx="458.95" cy="601.56" r="1.25" fill="#000"/>
<circle cx="458.95" cy="600.79" r="1.25" fill="#000"/>
<text x="470.3" y="474.2" font-size="5.7" text-anchor="middle" fill="#111">***</text>
<path d="M470.3 653V654.6" stroke="#333" stroke-width=".4"/>
<text transform="translate(471.9,656.6) rotate(-45)" font-size="3.7" text-anchor="end" fill="#111">c15_NKT_FCGR3A</text>
<path d="M467.45 558.17V569.99M467.45 578.71V584.52" stroke="#111" stroke-width=".62"/>
<rect x="464.95" y="569.99" width="5" height="8.72" fill="#08519C" stroke="#111" stroke-width=".4"/>
<path d="M464.95 574.06h5" stroke="#000" stroke-width=".7"/>
<path d="M473.15 546.94V562.63M473.15 573.28V588.2" stroke="#111" stroke-width=".62"/>
<rect x="470.65" y="562.63" width="5" height="10.65" fill="#E60000" stroke="#111" stroke-width=".4"/>
<path d="M470.65 567.67h5" stroke="#000" stroke-width=".7"/>
<circle cx="473.15" cy="543.26" r="1.25" fill="#000"/>
<circle cx="473.15" cy="541.32" r="1.25" fill="#000"/>
<circle cx="473.15" cy="539.39" r="1.25" fill="#000"/>
<circle cx="473.15" cy="534.54" r="1.25" fill="#000"/>
<circle cx="473.15" cy="590.72" r="1.25" fill="#000"/>
<circle cx="473.15" cy="589.17" r="1.25" fill="#000"/>
<text x="484.5" y="474.2" font-size="5.7" text-anchor="middle" fill="#111">***</text>
<path d="M484.5 653V654.6" stroke="#333" stroke-width=".4"/>
<text transform="translate(486.1,656.6) rotate(-45)" font-size="3.7" text-anchor="end" fill="#111">c16_CD4_Tfh</text>
<path d="M481.65 571.93V579.09M481.65 584.91V590.72" stroke="#111" stroke-width=".62"/>
<rect x="479.15" y="579.09" width="5" height="5.81" fill="#08519C" stroke="#111" stroke-width=".4"/>
<path d="M479.15 582h5" stroke="#000" stroke-width=".7"/>
<circle cx="481.65" cy="568.25" r="1.25" fill="#000"/>
<path d="M487.35 559.53V570.76M487.35 578.71V589.55" stroke="#111" stroke-width=".62"/>
<rect x="484.85" y="570.76" width="5" height="7.94" fill="#E60000" stroke="#111" stroke-width=".4"/>
<path d="M484.85 574.45h5" stroke="#000" stroke-width=".7"/>
<circle cx="487.35" cy="557.01" r="1.25" fill="#000"/>
<circle cx="487.35" cy="553.91" r="1.25" fill="#000"/>
<circle cx="487.35" cy="549.46" r="1.25" fill="#000"/>
<circle cx="487.35" cy="599.05" r="1.25" fill="#000"/>
<circle cx="487.35" cy="596.53" r="1.25" fill="#000"/>
<circle cx="487.35" cy="594.59" r="1.25" fill="#000"/>
<circle cx="487.35" cy="592.65" r="1.25" fill="#000"/>
<circle cx="487.35" cy="590.72" r="1.25" fill="#000"/>
<text x="498.7" y="474.2" font-size="5.7" text-anchor="middle" fill="#111">***</text>
<path d="M498.7 653V654.6" stroke="#333" stroke-width=".4"/>
<text transform="translate(500.3,656.6) rotate(-45)" font-size="3.7" text-anchor="end" fill="#111">c17_CD4_Th17</text>
<path d="M495.85 571.35V579.09M495.85 585.68V590.72" stroke="#111" stroke-width=".62"/>
<rect x="493.35" y="579.09" width="5" height="6.59" fill="#08519C" stroke="#111" stroke-width=".4"/>
<path d="M493.35 582.39h5" stroke="#000" stroke-width=".7"/>
<path d="M501.55 560.69V574.06M501.55 583.74V596.91" stroke="#111" stroke-width=".62"/>
<rect x="499.05" y="574.06" width="5" height="9.68" fill="#E60000" stroke="#111" stroke-width=".4"/>
<path d="M499.05 579.09h5" stroke="#000" stroke-width=".7"/>
<circle cx="501.55" cy="558.76" r="1.25" fill="#000"/>
<circle cx="501.55" cy="551.98" r="1.25" fill="#000"/>
<circle cx="501.55" cy="600.79" r="1.25" fill="#000"/>
<circle cx="501.55" cy="599.43" r="1.25" fill="#000"/>
<circle cx="501.55" cy="598.08" r="1.25" fill="#000"/>
<text x="512.9" y="474.2" font-size="5.7" text-anchor="middle" fill="#111">***</text>
<path d="M512.9 653V654.6" stroke="#333" stroke-width=".4"/>
<text transform="translate(514.5,656.6) rotate(-45)" font-size="3.7" text-anchor="end" fill="#111">c18_CD4_Tstr</text>
<path d="M510.05 580.64V585.68M510.05 589.94V594.59" stroke="#111" stroke-width=".62"/>
<rect x="507.55" y="585.68" width="5" height="4.26" fill="#08519C" stroke="#111" stroke-width=".4"/>
<path d="M507.55 587.81h5" stroke="#000" stroke-width=".7"/>
<circle cx="510.05" cy="577.54" r="1.25" fill="#000"/>
<path d="M515.75 566.89V577.16M515.75 583.55V591.88" stroke="#111" stroke-width=".62"/>
<rect x="513.25" y="577.16" width="5" height="6.39" fill="#E60000" stroke="#111" stroke-width=".4"/>
<path d="M513.25 580.26h5" stroke="#000" stroke-width=".7"/>
<circle cx="515.75" cy="564.57" r="1.25" fill="#000"/>
<circle cx="515.75" cy="563.6" r="1.25" fill="#000"/>
<circle cx="515.75" cy="607.76" r="1.25" fill="#000"/>
<circle cx="515.75" cy="599.43" r="1.25" fill="#000"/>
<circle cx="515.75" cy="597.5" r="1.25" fill="#000"/>
<circle cx="515.75" cy="595.56" r="1.25" fill="#000"/>
<circle cx="515.75" cy="593.62" r="1.25" fill="#000"/>
<text x="527.1" y="474.2" font-size="5.7" text-anchor="middle" fill="#111">***</text>
<path d="M527.1 653V654.6" stroke="#333" stroke-width=".4"/>
<text transform="translate(528.7,656.6) rotate(-45)" font-size="3.7" text-anchor="end" fill="#111">c19_CD4_Trm</text>
<path d="M524.25 474.5V493.28M524.25 506.46V524.47" stroke="#111" stroke-width=".62"/>
<rect x="521.75" y="493.28" width="5" height="13.17" fill="#08519C" stroke="#111" stroke-width=".4"/>
<path d="M521.75 500.26h5" stroke="#000" stroke-width=".7"/>
<circle cx="524.25" cy="573.28" r="1.25" fill="#000"/>
<circle cx="524.25" cy="550.81" r="1.25" fill="#000"/>
<circle cx="524.25" cy="537.45" r="1.25" fill="#000"/>
<circle cx="524.25" cy="531.44" r="1.25" fill="#000"/>
<path d="M529.95 476.43V526.99M529.95 574.45V617.25" stroke="#111" stroke-width=".62"/>
<rect x="527.45" y="526.99" width="5" height="47.46" fill="#E60000" stroke="#111" stroke-width=".4"/>
<path d="M527.45 549.46h5" stroke="#000" stroke-width=".7"/>
<text x="541.3" y="474.2" font-size="5.7" text-anchor="middle" fill="#111">***</text>
<path d="M541.3 653V654.6" stroke="#333" stroke-width=".4"/>
<text transform="translate(542.9,656.6) rotate(-45)" font-size="3.7" text-anchor="end" fill="#111">c20_NK_XCL1</text>
<path d="M538.45 586.84V591.88M538.45 596.14V601.95" stroke="#111" stroke-width=".62"/>
<rect x="535.95" y="591.88" width="5" height="4.26" fill="#08519C" stroke="#111" stroke-width=".4"/>
<path d="M535.95 594.2h5" stroke="#000" stroke-width=".7"/>
<path d="M544.15 575.8V585.68M544.15 592.46V601.95" stroke="#111" stroke-width=".62"/>
<rect x="541.65" y="585.68" width="5" height="6.78" fill="#E60000" stroke="#111" stroke-width=".4"/>
<path d="M541.65 588.97h5" stroke="#000" stroke-width=".7"/>
<circle cx="544.15" cy="574.45" r="1.25" fill="#000"/>
<circle cx="544.15" cy="572.9" r="1.25" fill="#000"/>
<circle cx="544.15" cy="571.35" r="1.25" fill="#000"/>
<circle cx="544.15" cy="618.42" r="1.25" fill="#000"/>
<circle cx="544.15" cy="611.05" r="1.25" fill="#000"/>
<circle cx="544.15" cy="609.12" r="1.25" fill="#000"/>
<circle cx="544.15" cy="607.18" r="1.25" fill="#000"/>
<circle cx="544.15" cy="605.24" r="1.25" fill="#000"/>
<circle cx="544.15" cy="603.31" r="1.25" fill="#000"/>
<text x="555.5" y="474.2" font-size="5.7" text-anchor="middle" fill="#111">***</text>
<path d="M555.5 653V654.6" stroke="#333" stroke-width=".4"/>
<text transform="translate(557.1,656.6) rotate(-45)" font-size="3.7" text-anchor="end" fill="#111">c21_CD8_MKI67</text>
<path d="M552.65 580.64V588.78M552.65 594.98V599.43" stroke="#111" stroke-width=".62"/>
<rect x="550.15" y="588.78" width="5" height="6.2" fill="#08519C" stroke="#111" stroke-width=".4"/>
<path d="M550.15 591.68h5" stroke="#000" stroke-width=".7"/>
<path d="M558.35 571.93V580.64M558.35 587.42V595.75" stroke="#111" stroke-width=".62"/>
<rect x="555.85" y="580.64" width="5" height="6.78" fill="#E60000" stroke="#111" stroke-width=".4"/>
<path d="M555.85 583.74h5" stroke="#000" stroke-width=".7"/>
<circle cx="558.35" cy="569.41" r="1.25" fill="#000"/>
<circle cx="558.35" cy="568.25" r="1.25" fill="#000"/>
<circle cx="558.35" cy="608.15" r="1.25" fill="#000"/>
<circle cx="558.35" cy="605.24" r="1.25" fill="#000"/>
<circle cx="558.35" cy="603.31" r="1.25" fill="#000"/>
<circle cx="558.35" cy="600.79" r="1.25" fill="#000"/>
<circle cx="558.35" cy="598.85" r="1.25" fill="#000"/>
<circle cx="558.35" cy="596.91" r="1.25" fill="#000"/>
<text x="569.7" y="474.2" font-size="5.7" text-anchor="middle" fill="#111">***</text>
<path d="M569.7 653V654.6" stroke="#333" stroke-width=".4"/>
<text transform="translate(571.3,656.6) rotate(-45)" font-size="3.7" text-anchor="end" fill="#111">c22_CD4_Tcm</text>
<path d="M566.85 571.93V582M566.85 589.55V599.43" stroke="#111" stroke-width=".62"/>
<rect x="564.35" y="582" width="5" height="7.55" fill="#08519C" stroke="#111" stroke-width=".4"/>
<path d="M564.35 584.91h5" stroke="#000" stroke-width=".7"/>
<circle cx="566.85" cy="569.41" r="1.25" fill="#000"/>
<circle cx="566.85" cy="566.31" r="1.25" fill="#000"/>
<path d="M572.55 559.53V575.03M572.55 584.91V598.27" stroke="#111" stroke-width=".62"/>
<rect x="570.05" y="575.03" width="5" height="9.88" fill="#E60000" stroke="#111" stroke-width=".4"/>
<path d="M570.05 579.48h5" stroke="#000" stroke-width=".7"/>
<circle cx="572.55" cy="558.17" r="1.25" fill="#000"/>
<circle cx="572.55" cy="555.85" r="1.25" fill="#000"/>
<circle cx="572.55" cy="552.94" r="1.25" fill="#000"/>
<circle cx="572.55" cy="549.46" r="1.25" fill="#000"/>
<circle cx="572.55" cy="604.47" r="1.25" fill="#000"/>
<circle cx="572.55" cy="601.95" r="1.25" fill="#000"/>
<circle cx="572.55" cy="599.43" r="1.25" fill="#000"/>
<text x="583.9" y="474.2" font-size="5.7" text-anchor="middle" fill="#111">***</text>
<path d="M583.9 653V654.6" stroke="#333" stroke-width=".4"/>
<text transform="translate(585.5,656.6) rotate(-45)" font-size="3.7" text-anchor="end" fill="#111">c23_CD4_Tx_LEF1</text>
<path d="M581.05 565.73V576.38M581.05 585.29V594.59" stroke="#111" stroke-width=".62"/>
<rect x="578.55" y="576.38" width="5" height="8.91" fill="#08519C" stroke="#111" stroke-width=".4"/>
<path d="M578.55 580.45h5" stroke="#000" stroke-width=".7"/>
<path d="M586.75 571.93V581.42M586.75 588.97V599.43" stroke="#111" stroke-width=".62"/>
<rect x="584.25" y="581.42" width="5" height="7.55" fill="#E60000" stroke="#111" stroke-width=".4"/>
<path d="M584.25 584.91h5" stroke="#000" stroke-width=".7"/>
<circle cx="586.75" cy="569.02" r="1.25" fill="#000"/>
<circle cx="586.75" cy="609.5" r="1.25" fill="#000"/>
<circle cx="586.75" cy="606.21" r="1.25" fill="#000"/>
<circle cx="586.75" cy="603.31" r="1.25" fill="#000"/>
<circle cx="586.75" cy="600.79" r="1.25" fill="#000"/>
<text x="598.1" y="474.2" font-size="5.7" text-anchor="middle" fill="#111">***</text>
<path d="M598.1 653V654.6" stroke="#333" stroke-width=".4"/>
<text transform="translate(599.7,656.6) rotate(-45)" font-size="3.7" text-anchor="end" fill="#111">c24_CD8_MAIT</text>
<path d="M595.25 545.78V560.69M595.25 573.28V587.04" stroke="#111" stroke-width=".62"/>
<rect x="592.75" y="560.69" width="5" height="12.59" fill="#08519C" stroke="#111" stroke-width=".4"/>
<path d="M592.75 566.89h5" stroke="#000" stroke-width=".7"/>
<circle cx="595.25" cy="541.32" r="1.25" fill="#000"/>
<circle cx="595.25" cy="594.59" r="1.25" fill="#000"/>
<path d="M600.95 564.57V580.64M600.95 593.62V614.73" stroke="#111" stroke-width=".62"/>
<rect x="598.45" y="580.64" width="5" height="12.98" fill="#E60000" stroke="#111" stroke-width=".4"/>
<path d="M598.45 587.04h5" stroke="#000" stroke-width=".7"/>
<circle cx="600.95" cy="559.53" r="1.25" fill="#000"/>
<circle cx="600.95" cy="556.82" r="1.25" fill="#000"/>
<circle cx="600.95" cy="553.33" r="1.25" fill="#000"/>
<circle cx="600.95" cy="622.29" r="1.25" fill="#000"/>
<circle cx="600.95" cy="619.77" r="1.25" fill="#000"/>
<circle cx="600.95" cy="617.25" r="1.25" fill="#000"/>
<text x="612.3" y="474.2" font-size="5.7" text-anchor="middle" fill="#111">***</text>
<path d="M612.3 653V654.6" stroke="#333" stroke-width=".4"/>
<text transform="translate(613.9,656.6) rotate(-45)" font-size="3.7" text-anchor="end" fill="#111">unspecified</text>
<path d="M609.45 486.12V507.04M609.45 521.95V539.39" stroke="#111" stroke-width=".62"/>
<rect x="606.95" y="507.04" width="5" height="14.91" fill="#08519C" stroke="#111" stroke-width=".4"/>
<path d="M606.95 515.56h5" stroke="#000" stroke-width=".7"/>
<circle cx="609.45" cy="587.42" r="1.25" fill="#000"/>
<circle cx="609.45" cy="565.73" r="1.25" fill="#000"/>
<circle cx="609.45" cy="555.85" r="1.25" fill="#000"/>
<circle cx="609.45" cy="553.33" r="1.25" fill="#000"/>
<circle cx="609.45" cy="545.78" r="1.25" fill="#000"/>
<path d="M615.15 491.35V543.26M615.15 594.01V643.6" stroke="#111" stroke-width=".62"/>
<rect x="612.65" y="543.26" width="5" height="50.75" fill="#E60000" stroke="#111" stroke-width=".4"/>
<path d="M612.65 567.47h5" stroke="#000" stroke-width=".7"/>
</svg>
</body></html>
